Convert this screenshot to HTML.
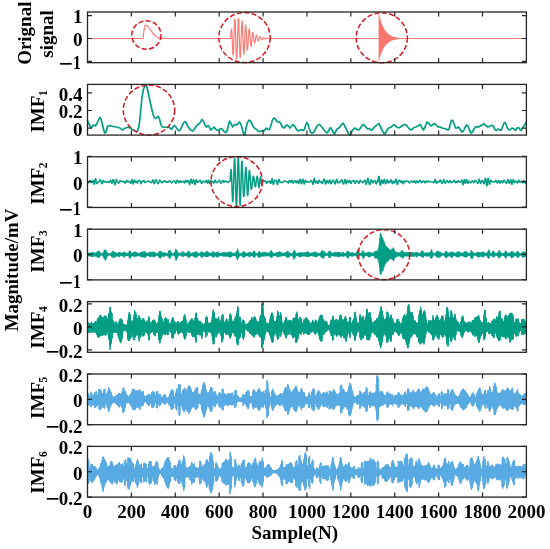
<!DOCTYPE html>
<html><head><meta charset="utf-8"><style>
html,body{margin:0;padding:0;background:#fff;}
svg{display:block;}
text{font-family:'Liberation Serif','Times New Roman',serif;font-weight:bold;font-size:19px;fill:#000;}
</style></head><body>
<svg width="550" height="549" viewBox="0 0 550 549">
<rect width="550" height="549" fill="#fff"/>
<defs><clipPath id="c0"><rect x="87.5" y="12.0" width="438.90" height="50.7"/></clipPath><clipPath id="c1"><rect x="87.5" y="84.4" width="438.90" height="50.7"/></clipPath><clipPath id="c2"><rect x="87.5" y="156.8" width="438.90" height="50.7"/></clipPath><clipPath id="c3"><rect x="87.5" y="229.20000000000002" width="438.90" height="50.7"/></clipPath><clipPath id="c4"><rect x="87.5" y="301.6" width="438.90" height="50.7"/></clipPath><clipPath id="c5"><rect x="87.5" y="374.0" width="438.90" height="50.7"/></clipPath><clipPath id="c6"><rect x="87.5" y="446.40000000000003" width="438.90" height="50.7"/></clipPath></defs>
<g>
<polyline points="87.50,38.50 87.72,38.50 87.94,38.50 88.16,38.50 88.38,38.50 88.60,38.50 88.82,38.50 89.04,38.50 89.26,38.50 89.48,38.50 89.69,38.50 89.91,38.50 90.13,38.50 90.35,38.50 90.57,38.50 90.79,38.50 91.01,38.50 91.23,38.50 91.45,38.50 91.67,38.50 91.89,38.50 92.11,38.50 92.33,38.50 92.55,38.50 92.77,38.50 92.99,38.50 93.21,38.50 93.43,38.50 93.64,38.50 93.86,38.50 94.08,38.50 94.30,38.50 94.52,38.50 94.74,38.50 94.96,38.50 95.18,38.50 95.40,38.50 95.62,38.50 95.84,38.50 96.06,38.50 96.28,38.50 96.50,38.50 96.72,38.50 96.94,38.50 97.16,38.50 97.38,38.50 97.59,38.50 97.81,38.50 98.03,38.50 98.25,38.50 98.47,38.50 98.69,38.50 98.91,38.50 99.13,38.50 99.35,38.50 99.57,38.50 99.79,38.50 100.01,38.50 100.23,38.50 100.45,38.50 100.67,38.50 100.89,38.50 101.11,38.50 101.33,38.50 101.54,38.50 101.76,38.50 101.98,38.50 102.20,38.50 102.42,38.50 102.64,38.50 102.86,38.50 103.08,38.50 103.30,38.50 103.52,38.50 103.74,38.50 103.96,38.50 104.18,38.50 104.40,38.50 104.62,38.50 104.84,38.50 105.06,38.50 105.28,38.50 105.49,38.50 105.71,38.50 105.93,38.50 106.15,38.50 106.37,38.50 106.59,38.50 106.81,38.50 107.03,38.50 107.25,38.50 107.47,38.50 107.69,38.50 107.91,38.50 108.13,38.50 108.35,38.50 108.57,38.50 108.79,38.50 109.01,38.50 109.23,38.50 109.44,38.50 109.66,38.50 109.88,38.50 110.10,38.50 110.32,38.50 110.54,38.50 110.76,38.50 110.98,38.50 111.20,38.50 111.42,38.50 111.64,38.50 111.86,38.50 112.08,38.50 112.30,38.50 112.52,38.50 112.74,38.50 112.96,38.50 113.18,38.50 113.40,38.50 113.61,38.50 113.83,38.50 114.05,38.50 114.27,38.50 114.49,38.50 114.71,38.50 114.93,38.50 115.15,38.50 115.37,38.50 115.59,38.50 115.81,38.50 116.03,38.50 116.25,38.50 116.47,38.50 116.69,38.50 116.91,38.50 117.13,38.50 117.35,38.50 117.56,38.50 117.78,38.50 118.00,38.50 118.22,38.50 118.44,38.50 118.66,38.50 118.88,38.50 119.10,38.50 119.32,38.50 119.54,38.50 119.76,38.50 119.98,38.50 120.20,38.50 120.42,38.50 120.64,38.50 120.86,38.50 121.08,38.50 121.30,38.50 121.51,38.50 121.73,38.50 121.95,38.50 122.17,38.50 122.39,38.50 122.61,38.50 122.83,38.50 123.05,38.50 123.27,38.50 123.49,38.50 123.71,38.50 123.93,38.50 124.15,38.50 124.37,38.50 124.59,38.50 124.81,38.50 125.03,38.50 125.25,38.50 125.46,38.50 125.68,38.50 125.90,38.50 126.12,38.50 126.34,38.50 126.56,38.50 126.78,38.50 127.00,38.50 127.22,38.50 127.44,38.50 127.66,38.50 127.88,38.50 128.10,38.50 128.32,38.50 128.54,38.50 128.76,38.50 128.98,38.50 129.20,38.50 129.41,38.50 129.63,38.50 129.85,38.50 130.07,38.50 130.29,38.50 130.51,38.50 130.73,38.50 130.95,38.50 131.17,38.50 131.39,38.50 131.61,38.50 131.83,38.50 132.05,38.50 132.27,38.50 132.49,38.50 132.71,38.50 132.93,38.50 133.15,38.50 133.37,38.50 133.58,38.50 133.80,38.50 134.02,38.50 134.24,38.50 134.46,38.50 134.68,38.50 134.90,38.50 135.12,38.50 135.34,38.50 135.56,38.50 135.78,38.50 136.00,38.50 136.22,38.50 136.44,38.50 136.66,38.50 136.88,38.50 137.10,38.50 137.32,38.50 137.53,38.50 137.75,38.50 137.97,38.50 138.19,38.50 138.41,38.50 138.63,38.50 138.85,38.50 139.07,38.50 139.29,38.50 139.51,38.50 139.73,38.50 139.95,38.50 140.17,38.50 140.39,38.50 140.61,38.50 140.83,38.50 141.05,38.50 141.27,38.50 141.48,38.50 141.70,38.50 141.92,38.50 142.14,38.50 142.36,38.50 142.58,38.50 142.80,38.50 143.02,38.50 143.24,36.61 143.46,34.75 143.68,32.97 143.90,31.30 144.12,29.78 144.34,28.44 144.56,27.30 144.78,26.39 145.00,25.73 145.22,25.32 145.43,25.19 145.65,25.20 145.87,25.23 146.09,25.28 146.31,25.36 146.53,25.45 146.75,25.56 146.97,25.70 147.19,25.85 147.41,26.02 147.63,26.20 147.85,26.41 148.07,26.63 148.29,26.86 148.51,27.11 148.73,27.37 148.95,27.64 149.17,27.92 149.38,28.21 149.60,28.50 149.82,28.81 150.04,29.12 150.26,29.43 150.48,29.75 150.70,30.07 150.92,30.39 151.14,30.72 151.36,31.04 151.58,31.35 151.80,31.67 152.02,31.98 152.24,32.29 152.46,32.59 152.68,32.89 152.90,33.18 153.12,33.46 153.33,33.74 153.55,34.01 153.77,34.27 153.99,34.52 154.21,34.76 154.43,34.99 154.65,35.22 154.87,35.43 155.09,35.64 155.31,35.83 155.53,36.02 155.75,36.19 155.97,36.36 156.19,36.52 156.41,36.67 156.63,36.81 156.85,36.94 157.07,37.07 157.29,37.18 157.50,37.29 157.72,37.39 157.94,37.49 158.16,37.58 158.38,37.66 158.60,37.74 158.82,37.81 159.04,37.87 159.26,37.93 159.48,37.98 159.70,38.03 159.92,38.08 160.14,38.12 160.36,38.16 160.58,38.20 160.80,38.23 161.02,38.26 161.24,38.28 161.45,38.31 161.67,38.33 161.89,38.35 162.11,38.36 162.33,38.38 162.55,38.39 162.77,38.41 162.99,38.42 163.21,38.43 163.43,38.44 163.65,38.44 163.87,38.45 164.09,38.46 164.31,38.46 164.53,38.47 164.75,38.47 164.97,38.48 165.19,38.48 165.40,38.48 165.62,38.48 165.84,38.49 166.06,38.49 166.28,38.49 166.50,38.49 166.72,38.49 166.94,38.49 167.16,38.49 167.38,38.50 167.60,38.50 167.82,38.50 168.04,38.50 168.26,38.50 168.48,38.50 168.70,38.50 168.92,38.50 169.14,38.50 169.35,38.50 169.57,38.50 169.79,38.50 170.01,38.50 170.23,38.50 170.45,38.50 170.67,38.50 170.89,38.50 171.11,38.50 171.33,38.50 171.55,38.50 171.77,38.50 171.99,38.50 172.21,38.50 172.43,38.50 172.65,38.50 172.87,38.50 173.09,38.50 173.30,38.50 173.52,38.50 173.74,38.50 173.96,38.50 174.18,38.50 174.40,38.50 174.62,38.50 174.84,38.50 175.06,38.50 175.28,38.50 175.50,38.50 175.72,38.50 175.94,38.50 176.16,38.50 176.38,38.50 176.60,38.50 176.82,38.50 177.04,38.50 177.26,38.50 177.47,38.50 177.69,38.50 177.91,38.50 178.13,38.50 178.35,38.50 178.57,38.50 178.79,38.50 179.01,38.50 179.23,38.50 179.45,38.50 179.67,38.50 179.89,38.50 180.11,38.50 180.33,38.50 180.55,38.50 180.77,38.50 180.99,38.50 181.21,38.50 181.42,38.50 181.64,38.50 181.86,38.50 182.08,38.50 182.30,38.50 182.52,38.50 182.74,38.50 182.96,38.50 183.18,38.50 183.40,38.50 183.62,38.50 183.84,38.50 184.06,38.50 184.28,38.50 184.50,38.50 184.72,38.50 184.94,38.50 185.16,38.50 185.37,38.50 185.59,38.50 185.81,38.50 186.03,38.50 186.25,38.50 186.47,38.50 186.69,38.50 186.91,38.50 187.13,38.50 187.35,38.50 187.57,38.50 187.79,38.50 188.01,38.50 188.23,38.50 188.45,38.50 188.67,38.50 188.89,38.50 189.11,38.50 189.32,38.50 189.54,38.50 189.76,38.50 189.98,38.50 190.20,38.50 190.42,38.50 190.64,38.50 190.86,38.50 191.08,38.50 191.30,38.50 191.52,38.50 191.74,38.50 191.96,38.50 192.18,38.50 192.40,38.50 192.62,38.50 192.84,38.50 193.06,38.50 193.27,38.50 193.49,38.50 193.71,38.50 193.93,38.50 194.15,38.50 194.37,38.50 194.59,38.50 194.81,38.50 195.03,38.50 195.25,38.50 195.47,38.50 195.69,38.50 195.91,38.50 196.13,38.50 196.35,38.50 196.57,38.50 196.79,38.50 197.01,38.50 197.22,38.50 197.44,38.50 197.66,38.50 197.88,38.50 198.10,38.50 198.32,38.50 198.54,38.50 198.76,38.50 198.98,38.50 199.20,38.50 199.42,38.50 199.64,38.50 199.86,38.50 200.08,38.50 200.30,38.50 200.52,38.50 200.74,38.50 200.96,38.50 201.18,38.50 201.39,38.50 201.61,38.50 201.83,38.50 202.05,38.50 202.27,38.50 202.49,38.50 202.71,38.50 202.93,38.50 203.15,38.50 203.37,38.50 203.59,38.50 203.81,38.50 204.03,38.50 204.25,38.50 204.47,38.50 204.69,38.50 204.91,38.50 205.13,38.50 205.34,38.50 205.56,38.50 205.78,38.50 206.00,38.50 206.22,38.50 206.44,38.50 206.66,38.50 206.88,38.50 207.10,38.50 207.32,38.50 207.54,38.50 207.76,38.50 207.98,38.50 208.20,38.50 208.42,38.50 208.64,38.50 208.86,38.50 209.08,38.50 209.29,38.50 209.51,38.50 209.73,38.50 209.95,38.50 210.17,38.50 210.39,38.50 210.61,38.50 210.83,38.50 211.05,38.50 211.27,38.50 211.49,38.50 211.71,38.50 211.93,38.50 212.15,38.50 212.37,38.50 212.59,38.50 212.81,38.50 213.03,38.50 213.24,38.50 213.46,38.50 213.68,38.50 213.90,38.50 214.12,38.50 214.34,38.50 214.56,38.50 214.78,38.50 215.00,38.50 215.22,38.50 215.44,38.50 215.66,38.50 215.88,38.50 216.10,38.50 216.32,38.50 216.54,38.50 216.76,38.50 216.98,38.50 217.19,38.50 217.41,38.50 217.63,38.50 217.85,38.50 218.07,38.50 218.29,38.50 218.51,38.50 218.73,38.50 218.95,38.50 219.17,38.50 219.39,38.50 219.61,38.50 219.83,38.50 220.05,38.50 220.27,38.50 220.49,38.50 220.71,38.50 220.93,38.50 221.15,38.50 221.36,38.50 221.58,38.50 221.80,38.50 222.02,38.50 222.24,38.50 222.46,38.50 222.68,38.50 222.90,38.50 223.12,38.50 223.34,38.50 223.56,38.50 223.78,38.50 224.00,38.50 224.22,38.50 224.44,38.50 224.66,38.50 224.88,38.50 225.10,38.50 225.31,38.50 225.53,38.50 225.75,38.50 225.97,38.50 226.19,38.50 226.41,38.50 226.63,38.50 226.85,38.50 227.07,38.50 227.29,38.50 227.51,38.50 227.73,38.50 227.95,38.50 228.17,38.50 228.39,38.50 228.61,38.50 228.83,38.50 229.05,38.50 229.26,38.50 229.48,38.50 229.70,38.50 229.92,38.50 230.14,38.50 230.36,38.50 230.58,37.56 230.80,35.23 231.02,32.41 231.24,30.11 231.46,29.16 231.68,30.09 231.90,32.98 232.12,37.47 232.34,42.85 232.56,48.19 232.78,52.51 233.00,54.97 233.21,55.03 233.43,52.52 233.65,47.73 233.87,41.32 234.09,34.22 234.31,27.51 234.53,22.25 234.75,19.27 234.97,19.06 235.19,21.73 235.41,26.92 235.63,33.88 235.85,41.61 236.07,48.95 236.29,54.81 236.51,58.32 236.73,58.94 236.95,56.58 237.16,51.59 237.38,44.70 237.60,36.93 237.82,29.42 238.04,23.27 238.26,19.37 238.48,18.28 238.70,20.12 238.92,24.61 239.14,31.06 239.36,38.50 239.58,45.85 239.80,52.03 240.02,56.17 240.24,57.69 240.46,56.42 240.68,52.58 240.90,46.79 241.12,39.92 241.33,32.97 241.55,26.97 241.77,22.76 241.99,20.91 242.21,21.63 242.43,24.76 242.65,29.78 242.87,35.93 243.09,42.28 243.31,47.92 243.53,52.05 243.75,54.12 243.97,53.88 244.19,51.45 244.41,47.23 244.63,41.90 244.85,36.26 245.07,31.12 245.28,27.22 245.50,25.06 245.72,24.91 245.94,26.70 246.16,30.12 246.38,34.60 246.60,39.47 246.82,44.01 247.04,47.58 247.26,49.71 247.48,50.15 247.70,48.91 247.92,46.23 248.14,42.58 248.36,38.50 248.58,34.61 248.80,31.45 249.02,29.44 249.23,28.82 249.45,29.61 249.67,31.62 249.89,34.52 250.11,37.83 250.33,41.07 250.55,43.78 250.77,45.59 250.99,46.30 251.21,45.86 251.43,44.40 251.65,42.19 251.87,39.57 252.09,36.95 252.31,34.70 252.53,33.13 252.75,32.40 252.97,32.59 253.18,33.60 253.40,35.25 253.62,37.25 253.84,39.31 254.06,41.12 254.28,42.44 254.50,43.12 254.72,43.10 254.94,42.43 255.16,41.25 255.38,39.76 255.60,38.19 255.82,36.78 256.04,35.71 256.26,35.10 256.48,35.03 256.70,35.45 256.92,36.27 257.13,37.34 257.35,38.50 257.57,39.57 257.79,40.41 258.01,40.92 258.23,41.04 258.45,40.80 258.67,40.25 258.89,39.50 259.11,38.67 259.33,37.88 259.55,37.24 259.77,36.83 259.99,36.69 260.21,36.82 260.43,37.18 260.65,37.69 260.87,38.27 261.08,38.83 261.30,39.30 261.52,39.61 261.74,39.74 261.96,39.69 262.18,39.47 262.40,39.13 262.62,38.74 262.84,38.35 263.06,38.01 263.28,37.78 263.50,37.67 263.72,37.69 263.94,37.82 264.16,38.03 264.38,38.29 264.60,38.55 264.82,38.78 265.04,38.95 265.25,39.04 265.47,39.04 265.69,38.97 265.91,38.84 266.13,38.67 266.35,38.50 266.57,38.35 266.79,38.23 267.01,38.16 267.23,38.15 267.45,38.19 267.67,38.27 267.89,38.36 268.11,38.48 268.33,38.59 268.55,38.69 268.77,38.75 268.99,38.78 269.20,38.77 269.42,38.72 269.64,38.64 269.86,38.54 270.08,38.44 270.30,38.35 270.52,38.29 270.74,38.26 270.96,38.26 271.18,38.30 271.40,38.36 271.62,38.45 271.84,38.53 272.06,38.50 272.28,38.50 272.50,38.50 272.72,38.50 272.94,38.50 273.15,38.50 273.37,38.50 273.59,38.50 273.81,38.50 274.03,38.50 274.25,38.50 274.47,38.50 274.69,38.50 274.91,38.50 275.13,38.50 275.35,38.50 275.57,38.50 275.79,38.50 276.01,38.50 276.23,38.50 276.45,38.50 276.67,38.50 276.89,38.50 277.10,38.50 277.32,38.50 277.54,38.50 277.76,38.50 277.98,38.50 278.20,38.50 278.42,38.50 278.64,38.50 278.86,38.50 279.08,38.50 279.30,38.50 279.52,38.50 279.74,38.50 279.96,38.50 280.18,38.50 280.40,38.50 280.62,38.50 280.84,38.50 281.05,38.50 281.27,38.50 281.49,38.50 281.71,38.50 281.93,38.50 282.15,38.50 282.37,38.50 282.59,38.50 282.81,38.50 283.03,38.50 283.25,38.50 283.47,38.50 283.69,38.50 283.91,38.50 284.13,38.50 284.35,38.50 284.57,38.50 284.79,38.50 285.00,38.50 285.22,38.50 285.44,38.50 285.66,38.50 285.88,38.50 286.10,38.50 286.32,38.50 286.54,38.50 286.76,38.50 286.98,38.50 287.20,38.50 287.42,38.50 287.64,38.50 287.86,38.50 288.08,38.50 288.30,38.50 288.52,38.50 288.74,38.50 288.96,38.50 289.17,38.50 289.39,38.50 289.61,38.50 289.83,38.50 290.05,38.50 290.27,38.50 290.49,38.50 290.71,38.50 290.93,38.50 291.15,38.50 291.37,38.50 291.59,38.50 291.81,38.50 292.03,38.50 292.25,38.50 292.47,38.50 292.69,38.50 292.91,38.50 293.12,38.50 293.34,38.50 293.56,38.50 293.78,38.50 294.00,38.50 294.22,38.50 294.44,38.50 294.66,38.50 294.88,38.50 295.10,38.50 295.32,38.50 295.54,38.50 295.76,38.50 295.98,38.50 296.20,38.50 296.42,38.50 296.64,38.50 296.86,38.50 297.07,38.50 297.29,38.50 297.51,38.50 297.73,38.50 297.95,38.50 298.17,38.50 298.39,38.50 298.61,38.50 298.83,38.50 299.05,38.50 299.27,38.50 299.49,38.50 299.71,38.50 299.93,38.50 300.15,38.50 300.37,38.50 300.59,38.50 300.81,38.50 301.02,38.50 301.24,38.50 301.46,38.50 301.68,38.50 301.90,38.50 302.12,38.50 302.34,38.50 302.56,38.50 302.78,38.50 303.00,38.50 303.22,38.50 303.44,38.50 303.66,38.50 303.88,38.50 304.10,38.50 304.32,38.50 304.54,38.50 304.76,38.50 304.97,38.50 305.19,38.50 305.41,38.50 305.63,38.50 305.85,38.50 306.07,38.50 306.29,38.50 306.51,38.50 306.73,38.50 306.95,38.50 307.17,38.50 307.39,38.50 307.61,38.50 307.83,38.50 308.05,38.50 308.27,38.50 308.49,38.50 308.71,38.50 308.93,38.50 309.14,38.50 309.36,38.50 309.58,38.50 309.80,38.50 310.02,38.50 310.24,38.50 310.46,38.50 310.68,38.50 310.90,38.50 311.12,38.50 311.34,38.50 311.56,38.50 311.78,38.50 312.00,38.50 312.22,38.50 312.44,38.50 312.66,38.50 312.88,38.50 313.09,38.50 313.31,38.50 313.53,38.50 313.75,38.50 313.97,38.50 314.19,38.50 314.41,38.50 314.63,38.50 314.85,38.50 315.07,38.50 315.29,38.50 315.51,38.50 315.73,38.50 315.95,38.50 316.17,38.50 316.39,38.50 316.61,38.50 316.83,38.50 317.04,38.50 317.26,38.50 317.48,38.50 317.70,38.50 317.92,38.50 318.14,38.50 318.36,38.50 318.58,38.50 318.80,38.50 319.02,38.50 319.24,38.50 319.46,38.50 319.68,38.50 319.90,38.50 320.12,38.50 320.34,38.50 320.56,38.50 320.78,38.50 320.99,38.50 321.21,38.50 321.43,38.50 321.65,38.50 321.87,38.50 322.09,38.50 322.31,38.50 322.53,38.50 322.75,38.50 322.97,38.50 323.19,38.50 323.41,38.50 323.63,38.50 323.85,38.50 324.07,38.50 324.29,38.50 324.51,38.50 324.73,38.50 324.94,38.50 325.16,38.50 325.38,38.50 325.60,38.50 325.82,38.50 326.04,38.50 326.26,38.50 326.48,38.50 326.70,38.50 326.92,38.50 327.14,38.50 327.36,38.50 327.58,38.50 327.80,38.50 328.02,38.50 328.24,38.50 328.46,38.50 328.68,38.50 328.89,38.50 329.11,38.50 329.33,38.50 329.55,38.50 329.77,38.50 329.99,38.50 330.21,38.50 330.43,38.50 330.65,38.50 330.87,38.50 331.09,38.50 331.31,38.50 331.53,38.50 331.75,38.50 331.97,38.50 332.19,38.50 332.41,38.50 332.63,38.50 332.85,38.50 333.06,38.50 333.28,38.50 333.50,38.50 333.72,38.50 333.94,38.50 334.16,38.50 334.38,38.50 334.60,38.50 334.82,38.50 335.04,38.50 335.26,38.50 335.48,38.50 335.70,38.50 335.92,38.50 336.14,38.50 336.36,38.50 336.58,38.50 336.80,38.50 337.01,38.50 337.23,38.50 337.45,38.50 337.67,38.50 337.89,38.50 338.11,38.50 338.33,38.50 338.55,38.50 338.77,38.50 338.99,38.50 339.21,38.50 339.43,38.50 339.65,38.50 339.87,38.50 340.09,38.50 340.31,38.50 340.53,38.50 340.75,38.50 340.96,38.50 341.18,38.50 341.40,38.50 341.62,38.50 341.84,38.50 342.06,38.50 342.28,38.50 342.50,38.50 342.72,38.50 342.94,38.50 343.16,38.50 343.38,38.50 343.60,38.50 343.82,38.50 344.04,38.50 344.26,38.50 344.48,38.50 344.70,38.50 344.91,38.50 345.13,38.50 345.35,38.50 345.57,38.50 345.79,38.50 346.01,38.50 346.23,38.50 346.45,38.50 346.67,38.50 346.89,38.50 347.11,38.50 347.33,38.50 347.55,38.50 347.77,38.50 347.99,38.50 348.21,38.50 348.43,38.50 348.65,38.50 348.86,38.50 349.08,38.50 349.30,38.50 349.52,38.50 349.74,38.50 349.96,38.50 350.18,38.50 350.40,38.50 350.62,38.50 350.84,38.50 351.06,38.50 351.28,38.50 351.50,38.50 351.72,38.50 351.94,38.50 352.16,38.50 352.38,38.50 352.60,38.50 352.82,38.50 353.03,38.50 353.25,38.50 353.47,38.50 353.69,38.50 353.91,38.50 354.13,38.50 354.35,38.50 354.57,38.50 354.79,38.50 355.01,38.50 355.23,38.50 355.45,38.50 355.67,38.50 355.89,38.50 356.11,38.50 356.33,38.50 356.55,38.50 356.77,38.50 356.98,38.50 357.20,38.50 357.42,38.50 357.64,38.50 357.86,38.50 358.08,38.50 358.30,38.50 358.52,38.50 358.74,38.50 358.96,38.50 359.18,38.50 359.40,38.50 359.62,38.50 359.84,38.50 360.06,38.50 360.28,38.50 360.50,38.50 360.72,38.50 360.93,38.50 361.15,38.50 361.37,38.50 361.59,38.50 361.81,38.50 362.03,38.50 362.25,38.50 362.47,38.50 362.69,38.50 362.91,38.50 363.13,38.50 363.35,38.50 363.57,38.50 363.79,38.50 364.01,38.50 364.23,38.50 364.45,38.50 364.67,38.50 364.88,38.50 365.10,38.50 365.32,38.50 365.54,38.50 365.76,38.50 365.98,38.50 366.20,38.50 366.42,38.50 366.64,38.50 366.86,38.50 367.08,38.50 367.30,38.50 367.52,38.50 367.74,38.50 367.96,38.50 368.18,38.50 368.40,38.50 368.62,38.50 368.83,38.50 369.05,38.50 369.27,38.50 369.49,38.50 369.71,38.50 369.93,38.50 370.15,38.50 370.37,38.50 370.59,38.50 370.81,38.50 371.03,38.50 371.25,38.50 371.47,38.50 371.69,38.50 371.91,38.50 372.13,38.50 372.35,38.50 372.57,38.50 372.79,38.50 373.00,38.50 373.22,38.50 373.44,38.50 373.66,38.50 373.88,38.50 374.10,38.50 374.32,38.50 374.54,38.50 374.76,38.50 374.98,38.50 375.20,38.50 375.42,38.50 375.64,38.50 375.86,38.50 376.08,38.50 376.30,38.50 376.52,38.50 376.74,38.50 376.95,38.50 377.17,38.50 377.39,38.50 377.61,38.50 377.83,38.50 378.05,38.50 378.27,38.50 378.49,38.50 378.71,38.50 378.93,38.50 379.15,38.50 379.37,38.50 379.59,38.50 379.81,38.50 380.03,38.50 380.25,38.50 380.47,38.50 380.69,38.50 380.90,38.50 381.12,38.50 381.34,38.50 381.56,38.50 381.78,38.50 382.00,38.50 382.22,38.50 382.44,38.50 382.66,38.50 382.88,38.50 383.10,38.50 383.32,38.50 383.54,38.50 383.76,38.50 383.98,38.50 384.20,38.50 384.42,38.50 384.64,38.50 384.85,38.50 385.07,38.50 385.29,38.50 385.51,38.50 385.73,38.50 385.95,38.50 386.17,38.50 386.39,38.50 386.61,38.50 386.83,38.50 387.05,38.50 387.27,38.50 387.49,38.50 387.71,38.50 387.93,38.50 388.15,38.50 388.37,38.50 388.59,38.50 388.80,38.50 389.02,38.50 389.24,38.50 389.46,38.50 389.68,38.50 389.90,38.50 390.12,38.50 390.34,38.50 390.56,38.50 390.78,38.50 391.00,38.50 391.22,38.50 391.44,38.50 391.66,38.50 391.88,38.50 392.10,38.50 392.32,38.50 392.54,38.50 392.75,38.50 392.97,38.50 393.19,38.50 393.41,38.50 393.63,38.50 393.85,38.50 394.07,38.50 394.29,38.50 394.51,38.50 394.73,38.50 394.95,38.50 395.17,38.50 395.39,38.50 395.61,38.50 395.83,38.50 396.05,38.50 396.27,38.50 396.49,38.50 396.71,38.50 396.92,38.50 397.14,38.50 397.36,38.50 397.58,38.50 397.80,38.50 398.02,38.50 398.24,38.50 398.46,38.50 398.68,38.50 398.90,38.50 399.12,38.50 399.34,38.50 399.56,38.50 399.78,38.50 400.00,38.50 400.22,38.50 400.44,38.50 400.66,38.50 400.87,38.50 401.09,38.50 401.31,38.50 401.53,38.50 401.75,38.50 401.97,38.50 402.19,38.50 402.41,38.50 402.63,38.50 402.85,38.50 403.07,38.50 403.29,38.50 403.51,38.50 403.73,38.50 403.95,38.50 404.17,38.50 404.39,38.50 404.61,38.50 404.82,38.50 405.04,38.50 405.26,38.50 405.48,38.50 405.70,38.50 405.92,38.50 406.14,38.50 406.36,38.50 406.58,38.50 406.80,38.50 407.02,38.50 407.24,38.50 407.46,38.50 407.68,38.50 407.90,38.50 408.12,38.50 408.34,38.50 408.56,38.50 408.77,38.50 408.99,38.50 409.21,38.50 409.43,38.50 409.65,38.50 409.87,38.50 410.09,38.50 410.31,38.50 410.53,38.50 410.75,38.50 410.97,38.50 411.19,38.50 411.41,38.50 411.63,38.50 411.85,38.50 412.07,38.50 412.29,38.50 412.51,38.50 412.72,38.50 412.94,38.50 413.16,38.50 413.38,38.50 413.60,38.50 413.82,38.50 414.04,38.50 414.26,38.50 414.48,38.50 414.70,38.50 414.92,38.50 415.14,38.50 415.36,38.50 415.58,38.50 415.80,38.50 416.02,38.50 416.24,38.50 416.46,38.50 416.68,38.50 416.89,38.50 417.11,38.50 417.33,38.50 417.55,38.50 417.77,38.50 417.99,38.50 418.21,38.50 418.43,38.50 418.65,38.50 418.87,38.50 419.09,38.50 419.31,38.50 419.53,38.50 419.75,38.50 419.97,38.50 420.19,38.50 420.41,38.50 420.63,38.50 420.84,38.50 421.06,38.50 421.28,38.50 421.50,38.50 421.72,38.50 421.94,38.50 422.16,38.50 422.38,38.50 422.60,38.50 422.82,38.50 423.04,38.50 423.26,38.50 423.48,38.50 423.70,38.50 423.92,38.50 424.14,38.50 424.36,38.50 424.58,38.50 424.79,38.50 425.01,38.50 425.23,38.50 425.45,38.50 425.67,38.50 425.89,38.50 426.11,38.50 426.33,38.50 426.55,38.50 426.77,38.50 426.99,38.50 427.21,38.50 427.43,38.50 427.65,38.50 427.87,38.50 428.09,38.50 428.31,38.50 428.53,38.50 428.74,38.50 428.96,38.50 429.18,38.50 429.40,38.50 429.62,38.50 429.84,38.50 430.06,38.50 430.28,38.50 430.50,38.50 430.72,38.50 430.94,38.50 431.16,38.50 431.38,38.50 431.60,38.50 431.82,38.50 432.04,38.50 432.26,38.50 432.48,38.50 432.69,38.50 432.91,38.50 433.13,38.50 433.35,38.50 433.57,38.50 433.79,38.50 434.01,38.50 434.23,38.50 434.45,38.50 434.67,38.50 434.89,38.50 435.11,38.50 435.33,38.50 435.55,38.50 435.77,38.50 435.99,38.50 436.21,38.50 436.43,38.50 436.64,38.50 436.86,38.50 437.08,38.50 437.30,38.50 437.52,38.50 437.74,38.50 437.96,38.50 438.18,38.50 438.40,38.50 438.62,38.50 438.84,38.50 439.06,38.50 439.28,38.50 439.50,38.50 439.72,38.50 439.94,38.50 440.16,38.50 440.38,38.50 440.60,38.50 440.81,38.50 441.03,38.50 441.25,38.50 441.47,38.50 441.69,38.50 441.91,38.50 442.13,38.50 442.35,38.50 442.57,38.50 442.79,38.50 443.01,38.50 443.23,38.50 443.45,38.50 443.67,38.50 443.89,38.50 444.11,38.50 444.33,38.50 444.55,38.50 444.76,38.50 444.98,38.50 445.20,38.50 445.42,38.50 445.64,38.50 445.86,38.50 446.08,38.50 446.30,38.50 446.52,38.50 446.74,38.50 446.96,38.50 447.18,38.50 447.40,38.50 447.62,38.50 447.84,38.50 448.06,38.50 448.28,38.50 448.50,38.50 448.71,38.50 448.93,38.50 449.15,38.50 449.37,38.50 449.59,38.50 449.81,38.50 450.03,38.50 450.25,38.50 450.47,38.50 450.69,38.50 450.91,38.50 451.13,38.50 451.35,38.50 451.57,38.50 451.79,38.50 452.01,38.50 452.23,38.50 452.45,38.50 452.66,38.50 452.88,38.50 453.10,38.50 453.32,38.50 453.54,38.50 453.76,38.50 453.98,38.50 454.20,38.50 454.42,38.50 454.64,38.50 454.86,38.50 455.08,38.50 455.30,38.50 455.52,38.50 455.74,38.50 455.96,38.50 456.18,38.50 456.40,38.50 456.61,38.50 456.83,38.50 457.05,38.50 457.27,38.50 457.49,38.50 457.71,38.50 457.93,38.50 458.15,38.50 458.37,38.50 458.59,38.50 458.81,38.50 459.03,38.50 459.25,38.50 459.47,38.50 459.69,38.50 459.91,38.50 460.13,38.50 460.35,38.50 460.56,38.50 460.78,38.50 461.00,38.50 461.22,38.50 461.44,38.50 461.66,38.50 461.88,38.50 462.10,38.50 462.32,38.50 462.54,38.50 462.76,38.50 462.98,38.50 463.20,38.50 463.42,38.50 463.64,38.50 463.86,38.50 464.08,38.50 464.30,38.50 464.52,38.50 464.73,38.50 464.95,38.50 465.17,38.50 465.39,38.50 465.61,38.50 465.83,38.50 466.05,38.50 466.27,38.50 466.49,38.50 466.71,38.50 466.93,38.50 467.15,38.50 467.37,38.50 467.59,38.50 467.81,38.50 468.03,38.50 468.25,38.50 468.47,38.50 468.68,38.50 468.90,38.50 469.12,38.50 469.34,38.50 469.56,38.50 469.78,38.50 470.00,38.50 470.22,38.50 470.44,38.50 470.66,38.50 470.88,38.50 471.10,38.50 471.32,38.50 471.54,38.50 471.76,38.50 471.98,38.50 472.20,38.50 472.42,38.50 472.63,38.50 472.85,38.50 473.07,38.50 473.29,38.50 473.51,38.50 473.73,38.50 473.95,38.50 474.17,38.50 474.39,38.50 474.61,38.50 474.83,38.50 475.05,38.50 475.27,38.50 475.49,38.50 475.71,38.50 475.93,38.50 476.15,38.50 476.37,38.50 476.58,38.50 476.80,38.50 477.02,38.50 477.24,38.50 477.46,38.50 477.68,38.50 477.90,38.50 478.12,38.50 478.34,38.50 478.56,38.50 478.78,38.50 479.00,38.50 479.22,38.50 479.44,38.50 479.66,38.50 479.88,38.50 480.10,38.50 480.32,38.50 480.53,38.50 480.75,38.50 480.97,38.50 481.19,38.50 481.41,38.50 481.63,38.50 481.85,38.50 482.07,38.50 482.29,38.50 482.51,38.50 482.73,38.50 482.95,38.50 483.17,38.50 483.39,38.50 483.61,38.50 483.83,38.50 484.05,38.50 484.27,38.50 484.49,38.50 484.70,38.50 484.92,38.50 485.14,38.50 485.36,38.50 485.58,38.50 485.80,38.50 486.02,38.50 486.24,38.50 486.46,38.50 486.68,38.50 486.90,38.50 487.12,38.50 487.34,38.50 487.56,38.50 487.78,38.50 488.00,38.50 488.22,38.50 488.44,38.50 488.65,38.50 488.87,38.50 489.09,38.50 489.31,38.50 489.53,38.50 489.75,38.50 489.97,38.50 490.19,38.50 490.41,38.50 490.63,38.50 490.85,38.50 491.07,38.50 491.29,38.50 491.51,38.50 491.73,38.50 491.95,38.50 492.17,38.50 492.39,38.50 492.60,38.50 492.82,38.50 493.04,38.50 493.26,38.50 493.48,38.50 493.70,38.50 493.92,38.50 494.14,38.50 494.36,38.50 494.58,38.50 494.80,38.50 495.02,38.50 495.24,38.50 495.46,38.50 495.68,38.50 495.90,38.50 496.12,38.50 496.34,38.50 496.55,38.50 496.77,38.50 496.99,38.50 497.21,38.50 497.43,38.50 497.65,38.50 497.87,38.50 498.09,38.50 498.31,38.50 498.53,38.50 498.75,38.50 498.97,38.50 499.19,38.50 499.41,38.50 499.63,38.50 499.85,38.50 500.07,38.50 500.29,38.50 500.50,38.50 500.72,38.50 500.94,38.50 501.16,38.50 501.38,38.50 501.60,38.50 501.82,38.50 502.04,38.50 502.26,38.50 502.48,38.50 502.70,38.50 502.92,38.50 503.14,38.50 503.36,38.50 503.58,38.50 503.80,38.50 504.02,38.50 504.24,38.50 504.45,38.50 504.67,38.50 504.89,38.50 505.11,38.50 505.33,38.50 505.55,38.50 505.77,38.50 505.99,38.50 506.21,38.50 506.43,38.50 506.65,38.50 506.87,38.50 507.09,38.50 507.31,38.50 507.53,38.50 507.75,38.50 507.97,38.50 508.19,38.50 508.41,38.50 508.62,38.50 508.84,38.50 509.06,38.50 509.28,38.50 509.50,38.50 509.72,38.50 509.94,38.50 510.16,38.50 510.38,38.50 510.60,38.50 510.82,38.50 511.04,38.50 511.26,38.50 511.48,38.50 511.70,38.50 511.92,38.50 512.14,38.50 512.36,38.50 512.57,38.50 512.79,38.50 513.01,38.50 513.23,38.50 513.45,38.50 513.67,38.50 513.89,38.50 514.11,38.50 514.33,38.50 514.55,38.50 514.77,38.50 514.99,38.50 515.21,38.50 515.43,38.50 515.65,38.50 515.87,38.50 516.09,38.50 516.31,38.50 516.52,38.50 516.74,38.50 516.96,38.50 517.18,38.50 517.40,38.50 517.62,38.50 517.84,38.50 518.06,38.50 518.28,38.50 518.50,38.50 518.72,38.50 518.94,38.50 519.16,38.50 519.38,38.50 519.60,38.50 519.82,38.50 520.04,38.50 520.26,38.50 520.47,38.50 520.69,38.50 520.91,38.50 521.13,38.50 521.35,38.50 521.57,38.50 521.79,38.50 522.01,38.50 522.23,38.50 522.45,38.50 522.67,38.50 522.89,38.50 523.11,38.50 523.33,38.50 523.55,38.50 523.77,38.50 523.99,38.50 524.21,38.50 524.42,38.50 524.64,38.50 524.86,38.50 525.08,38.50 525.30,38.50 525.52,38.50 525.74,38.50 525.96,38.50 526.18,38.50" fill="none" stroke="rgb(252,124,118)" stroke-width="1.2" stroke-linejoin="round"/>
<polygon points="378.60,11.90 378.85,13.09 379.10,14.23 379.36,15.32 379.61,16.36 379.86,17.35 380.11,18.30 380.36,19.20 380.62,20.07 380.87,20.89 381.12,21.68 381.37,22.43 381.63,23.15 381.88,23.84 382.13,24.50 382.38,25.13 382.63,25.72 382.89,26.30 383.14,26.84 383.39,27.37 383.64,27.86 383.89,28.34 384.15,28.80 384.40,29.23 384.65,29.65 384.90,30.04 385.15,30.42 385.41,30.78 385.66,31.13 385.91,31.46 386.16,31.78 386.42,32.08 386.67,32.36 386.92,32.64 387.17,32.90 387.42,33.15 387.68,33.39 387.93,33.62 388.18,33.84 388.43,34.05 388.68,34.25 388.94,34.44 389.19,34.62 389.44,34.79 389.69,34.96 389.94,35.12 390.20,35.27 390.45,35.41 390.70,35.55 390.95,35.69 391.21,35.81 391.46,35.93 391.71,36.05 391.96,36.16 392.21,36.26 392.47,36.36 392.72,36.46 392.97,36.55 393.22,36.64 393.47,36.72 393.73,36.80 393.98,36.88 394.23,36.95 394.48,37.02 394.73,37.08 394.99,37.15 395.24,37.21 395.49,37.27 395.74,37.32 395.99,37.37 396.25,37.42 396.50,37.47 396.75,37.52 397.00,37.56 397.26,37.61 397.51,37.65 397.76,37.68 398.01,37.72 398.26,37.75 398.52,37.79 398.77,37.82 399.02,37.85 399.27,37.88 399.52,37.91 399.78,37.93 400.03,37.96 400.28,37.98 400.53,38.01 400.78,38.03 401.04,38.05 401.29,38.07 401.54,38.09 401.79,38.11 402.05,38.13 402.30,38.14 402.55,38.16 402.80,38.17 403.05,38.19 403.31,38.20 403.56,38.22 403.81,38.23 404.06,38.24 404.31,38.25 404.57,38.26 404.82,38.27 405.07,38.28 405.32,38.29 405.57,38.30 405.83,38.31 406.08,38.32 406.33,38.33 406.58,38.34 406.84,38.34 407.09,38.35 407.34,38.36 407.59,38.36 407.84,38.37 408.10,38.38 408.35,38.38 408.60,38.39 408.60,38.60 408.35,38.61 408.10,38.61 407.84,38.62 407.59,38.62 407.34,38.63 407.09,38.64 406.84,38.64 406.58,38.65 406.33,38.66 406.08,38.66 405.83,38.67 405.57,38.68 405.32,38.69 405.07,38.69 404.82,38.70 404.57,38.71 404.31,38.72 404.06,38.73 403.81,38.75 403.56,38.76 403.31,38.77 403.05,38.78 402.80,38.79 402.55,38.81 402.30,38.82 402.05,38.84 401.79,38.85 401.54,38.87 401.29,38.89 401.04,38.91 400.78,38.93 400.53,38.94 400.28,38.97 400.03,38.99 399.78,39.01 399.52,39.03 399.27,39.06 399.02,39.09 398.77,39.11 398.52,39.14 398.26,39.17 398.01,39.20 397.76,39.24 397.51,39.27 397.26,39.31 397.00,39.35 396.75,39.38 396.50,39.43 396.25,39.47 395.99,39.52 395.74,39.56 395.49,39.61 395.24,39.67 394.99,39.72 394.73,39.78 394.48,39.84 394.23,39.90 393.98,39.97 393.73,40.03 393.47,40.11 393.22,40.18 392.97,40.26 392.72,40.34 392.47,40.43 392.21,40.52 391.96,40.61 391.71,40.71 391.46,40.82 391.21,40.93 390.95,41.04 390.70,41.16 390.45,41.28 390.20,41.41 389.94,41.55 389.69,41.69 389.44,41.84 389.19,42.00 388.94,42.16 388.68,42.34 388.43,42.52 388.18,42.70 387.93,42.90 387.68,43.11 387.42,43.32 387.17,43.55 386.92,43.79 386.67,44.04 386.42,44.30 386.16,44.57 385.91,44.85 385.66,45.15 385.41,45.46 385.15,45.79 384.90,46.13 384.65,46.49 384.40,46.86 384.15,47.26 383.89,47.67 383.64,48.10 383.39,48.55 383.14,49.02 382.89,49.51 382.63,50.03 382.38,50.57 382.13,51.13 381.88,51.73 381.63,52.35 381.37,53.00 381.12,53.68 380.87,54.39 380.62,55.13 380.36,55.91 380.11,56.73 379.86,57.58 379.61,58.48 379.36,59.42 379.10,60.40 378.85,61.42 378.60,62.50" fill="rgb(250,118,108)" stroke="none"/>
<polyline points="87.50,120.50 89.00,124.00 90.50,127.00 91.50,127.80 92.50,126.00 94.00,125.00 95.50,126.00 97.00,123.50 98.50,120.00 100.00,117.50 101.00,118.50 102.00,123.00 103.00,127.00 104.00,131.00 105.00,133.00 106.00,132.00 107.00,128.00 108.00,126.00 109.50,125.50 111.00,126.00 112.50,126.50 114.00,126.50 116.00,127.00 118.00,127.50 120.00,128.00 121.50,129.50 122.50,130.00 124.00,128.80 125.50,128.00 127.00,127.50 128.50,127.20 130.00,128.00 131.50,129.00 133.00,130.00 135.00,131.00 136.50,131.80 137.50,131.00 139.00,126.00 140.00,118.00 141.00,107.00 142.00,97.00 143.50,89.00 145.00,85.50 146.50,86.00 147.50,89.00 148.50,94.00 150.00,101.00 151.50,108.00 153.00,114.00 154.50,118.00 156.00,118.50 157.50,117.00 158.50,116.50 159.50,119.00 160.50,123.00 161.50,126.00 162.50,127.00 164.00,127.20 165.50,127.50 167.00,127.20 168.50,127.00 170.00,128.00 171.50,129.50 173.00,127.00 174.50,125.50 176.00,127.00 177.50,129.50 179.00,131.00 180.50,129.50 182.00,126.00 183.50,123.00 185.00,121.50 186.00,122.50 187.50,125.50 189.00,128.00 190.50,130.00 191.50,130.50 193.00,131.00 194.50,129.00 196.00,126.50 197.50,124.80 199.00,124.00 200.50,122.00 202.00,119.50 203.50,121.00 205.00,125.00 206.50,127.00 208.00,125.50 209.50,127.50 211.00,130.00 212.50,128.50 214.00,127.00 215.50,129.00 217.00,130.00 218.50,130.50 220.00,128.80 221.50,128.50 223.00,130.00 224.50,132.00 226.00,132.50 227.50,129.50 228.50,125.00 229.50,121.00 231.00,123.50 232.50,127.00 234.00,125.00 235.50,124.50 237.00,125.00 238.50,123.00 239.50,122.00 240.50,123.50 241.50,126.00 242.50,130.00 243.50,133.50 244.50,135.00 245.00,134.00 246.00,128.00 247.50,122.50 249.00,120.20 250.50,121.00 252.00,124.00 253.50,127.00 255.00,128.50 256.50,129.50 258.00,131.00 259.50,131.80 261.00,131.00 262.50,130.50 264.00,131.00 265.50,129.00 266.50,128.20 268.00,129.50 269.50,129.50 271.00,125.00 272.50,120.00 274.00,118.00 275.50,119.00 276.50,121.00 278.00,122.00 279.50,121.80 281.00,124.00 282.50,127.00 284.00,128.00 285.50,126.00 287.00,125.00 288.50,126.00 290.00,128.00 291.50,126.50 293.00,124.50 294.50,126.00 296.00,128.50 297.00,130.00 298.50,131.00 300.00,130.20 301.50,129.50 303.00,130.50 304.50,129.50 305.50,125.50 306.80,122.50 308.00,124.00 309.00,128.00 310.50,132.00 312.00,133.20 313.50,132.50 315.00,130.00 316.50,127.00 318.00,125.00 319.50,124.50 321.00,126.00 322.50,128.00 324.00,130.00 325.50,131.50 327.00,133.00 328.50,131.00 330.00,128.00 331.00,127.80 332.00,130.00 333.50,133.00 334.50,134.00 336.00,131.00 337.50,128.50 339.00,128.00 340.50,126.00 342.00,124.00 343.20,123.20 344.50,125.50 346.00,128.50 347.50,131.50 348.80,134.00 350.50,135.00 352.00,131.00 353.50,129.00 355.00,128.00 356.50,129.00 358.00,130.00 359.50,129.50 361.00,127.00 362.50,125.00 363.80,124.50 365.00,126.00 366.50,128.00 368.00,129.00 369.50,128.50 371.00,130.00 372.00,130.20 373.50,128.00 375.00,126.50 376.50,125.50 378.00,124.00 379.00,123.50 380.00,126.00 381.00,128.00 382.50,131.00 384.00,133.50 385.00,134.00 386.50,131.00 388.00,128.50 390.00,127.50 391.50,127.00 393.00,125.00 394.50,124.80 396.00,126.50 397.50,127.50 399.00,127.80 400.50,127.00 402.50,125.50 405.00,124.50 407.00,126.00 409.00,128.50 411.00,130.00 412.50,129.00 414.00,127.50 416.00,127.00 418.00,126.00 420.50,124.50 422.00,128.00 423.50,130.00 425.00,127.00 427.00,122.00 429.00,123.50 431.00,126.00 433.00,124.50 434.50,123.50 436.50,125.50 438.00,127.00 440.00,126.80 442.00,128.00 444.00,128.50 446.00,129.00 448.00,130.00 449.00,129.50 450.00,125.00 451.50,120.50 452.50,120.20 454.00,123.50 455.50,128.00 457.00,128.00 458.50,127.00 460.00,129.00 462.00,132.00 463.50,131.00 465.00,127.50 466.50,125.00 468.00,126.00 469.50,130.00 471.00,133.00 472.50,132.00 474.00,129.00 476.00,126.50 478.00,127.20 482.00,125.00 484.00,123.80 486.00,125.50 488.00,127.00 490.00,126.00 492.00,125.20 493.50,126.50 495.00,129.50 496.50,130.50 498.00,129.00 499.50,129.50 501.00,130.50 502.50,127.00 504.00,123.00 505.00,122.50 506.00,124.00 507.50,128.00 509.00,130.00 510.50,129.50 512.00,128.00 514.00,129.00 515.50,130.50 517.00,128.00 518.50,127.50 520.00,129.50 521.00,130.50 522.00,128.50 524.00,126.00 525.50,123.50 526.30,121.50" fill="none" stroke="rgb(4,158,134)" stroke-width="1.7" stroke-linejoin="round"/>
<polyline points="87.50,181.98 87.72,182.08 87.94,182.24 88.16,182.46 88.38,182.66 88.60,182.76 88.82,182.67 89.04,182.37 89.26,181.90 89.48,181.37 89.69,180.90 89.91,180.58 90.13,180.44 90.35,180.49 90.57,180.68 90.79,180.98 91.01,181.38 91.23,181.84 91.45,182.29 91.67,182.64 91.89,182.75 92.11,182.54 92.33,182.01 92.55,181.30 92.77,180.65 92.99,180.33 93.21,180.54 93.43,181.28 93.64,182.37 93.86,183.45 94.08,184.13 94.30,184.14 94.52,183.41 94.74,182.11 94.96,180.61 95.18,179.35 95.40,178.66 95.62,178.72 95.84,179.46 96.06,180.62 96.28,181.88 96.50,182.90 96.72,183.51 96.94,183.68 97.16,183.49 97.38,183.11 97.59,182.73 97.81,182.44 98.03,182.29 98.25,182.23 98.47,182.17 98.69,182.04 98.91,181.76 99.13,181.34 99.35,180.83 99.57,180.33 99.79,179.95 100.01,179.77 100.23,179.82 100.45,180.08 100.67,180.53 100.89,181.09 101.11,181.73 101.33,182.39 101.54,182.99 101.76,183.44 101.98,183.64 102.20,183.50 102.42,183.02 102.64,182.29 102.86,181.48 103.08,180.80 103.30,180.41 103.52,180.39 103.74,180.69 103.96,181.15 104.18,181.60 104.40,181.90 104.62,181.99 104.84,181.90 105.06,181.74 105.28,181.60 105.49,181.58 105.71,181.68 105.93,181.87 106.15,182.07 106.37,182.21 106.59,182.23 106.81,182.14 107.03,181.95 107.25,181.74 107.47,181.56 107.69,181.47 107.91,181.51 108.13,181.65 108.35,181.87 108.57,182.12 108.79,182.33 109.01,182.44 109.23,182.40 109.44,182.18 109.66,181.80 109.88,181.32 110.10,180.82 110.32,180.43 110.54,180.27 110.76,180.40 110.98,180.84 111.20,181.50 111.42,182.24 111.64,182.88 111.86,183.23 112.08,183.17 112.30,182.70 112.52,181.90 112.74,180.97 112.96,180.12 113.18,179.56 113.40,179.43 113.61,179.76 113.83,180.50 114.05,181.52 114.27,182.63 114.49,183.66 114.71,184.40 114.93,184.69 115.15,184.46 115.37,183.71 115.59,182.60 115.81,181.36 116.03,180.29 116.25,179.62 116.47,179.45 116.69,179.74 116.91,180.32 117.13,180.98 117.35,181.57 117.56,182.03 117.78,182.38 118.00,182.68 118.22,182.96 118.44,183.16 118.66,183.21 118.88,183.01 119.10,182.57 119.32,181.96 119.54,181.32 119.76,180.81 119.98,180.54 120.20,180.53 120.42,180.72 120.64,180.99 120.86,181.23 121.08,181.36 121.30,181.38 121.51,181.33 121.73,181.27 121.95,181.26 122.17,181.34 122.39,181.51 122.61,181.71 122.83,181.88 123.05,181.96 123.27,181.91 123.49,181.76 123.71,181.57 123.93,181.45 124.15,181.49 124.37,181.75 124.59,182.18 124.81,182.67 125.03,183.04 125.25,183.16 125.46,182.95 125.68,182.44 125.90,181.76 126.12,181.08 126.34,180.58 126.56,180.36 126.78,180.46 127.00,180.81 127.22,181.27 127.44,181.72 127.66,182.01 127.88,182.10 128.10,181.99 128.32,181.75 128.54,181.47 128.76,181.23 128.98,181.12 129.20,181.15 129.41,181.33 129.63,181.65 129.85,182.08 130.07,182.57 130.29,183.02 130.51,183.31 130.73,183.29 130.95,182.89 131.17,182.11 131.39,181.11 131.61,180.15 131.83,179.54 132.05,179.51 132.27,180.12 132.49,181.21 132.71,182.46 132.93,183.49 133.15,183.96 133.37,183.75 133.58,182.95 133.80,181.84 134.02,180.81 134.24,180.17 134.46,180.08 134.68,180.51 134.90,181.21 135.12,181.89 135.34,182.28 135.56,182.25 135.78,181.88 136.00,181.39 136.22,181.05 136.44,181.05 136.66,181.45 136.88,182.11 137.10,182.78 137.32,183.17 137.53,183.14 137.75,182.69 137.97,181.99 138.19,181.26 138.41,180.73 138.63,180.46 138.85,180.41 139.07,180.46 139.29,180.51 139.51,180.53 139.73,180.58 139.95,180.78 140.17,181.24 140.39,181.94 140.61,182.74 140.83,183.42 141.05,183.76 141.27,183.65 141.48,183.13 141.70,182.41 141.92,181.74 142.14,181.33 142.36,181.23 142.58,181.34 142.80,181.48 143.02,181.46 143.24,181.23 143.46,180.89 143.68,180.60 143.90,180.53 144.12,180.76 144.34,181.22 144.56,181.77 144.78,182.23 145.00,182.52 145.22,182.59 145.43,182.52 145.65,182.36 145.87,182.19 146.09,182.01 146.31,181.85 146.53,181.70 146.75,181.58 146.97,181.51 147.19,181.49 147.41,181.50 147.63,181.51 147.85,181.47 148.07,181.36 148.29,181.22 148.51,181.10 148.73,181.06 148.95,181.14 149.17,181.32 149.38,181.55 149.60,181.77 149.82,181.94 150.04,182.04 150.26,182.10 150.48,182.19 150.70,182.33 150.92,182.51 151.14,182.68 151.36,182.74 151.58,182.59 151.80,182.20 152.02,181.59 152.24,180.89 152.46,180.28 152.68,179.91 152.90,179.91 153.12,180.32 153.33,181.04 153.55,181.93 153.77,182.78 153.99,183.42 154.21,183.71 154.43,183.59 154.65,183.08 154.87,182.31 155.09,181.42 155.31,180.60 155.53,179.99 155.75,179.69 155.97,179.72 156.19,180.01 156.41,180.47 156.63,180.99 156.85,181.49 157.07,181.95 157.29,182.37 157.50,182.78 157.72,183.16 157.94,183.47 158.16,183.62 158.38,183.52 158.60,183.14 158.82,182.48 159.04,181.67 159.26,180.88 159.48,180.29 159.70,180.02 159.92,180.10 160.14,180.45 160.36,180.92 160.58,181.36 160.80,181.69 161.02,181.89 161.24,182.03 161.45,182.18 161.67,182.39 161.89,182.63 162.11,182.79 162.33,182.79 162.55,182.56 162.77,182.15 162.99,181.67 163.21,181.29 163.43,181.11 163.65,181.14 163.87,181.30 164.09,181.45 164.31,181.47 164.53,181.34 164.75,181.15 164.97,181.02 165.19,181.08 165.40,181.35 165.62,181.74 165.84,182.09 166.06,182.27 166.28,182.22 166.50,182.01 166.72,181.77 166.94,181.63 167.16,181.66 167.38,181.84 167.60,182.05 167.82,182.19 168.04,182.17 168.26,181.97 168.48,181.66 168.70,181.32 168.92,181.05 169.14,180.89 169.35,180.86 169.57,180.92 169.79,181.05 170.01,181.19 170.23,181.34 170.45,181.51 170.67,181.73 170.89,182.02 171.11,182.35 171.33,182.66 171.55,182.86 171.77,182.90 171.99,182.75 172.21,182.44 172.43,182.05 172.65,181.68 172.87,181.40 173.09,181.24 173.30,181.16 173.52,181.12 173.74,181.06 173.96,180.96 174.18,180.87 174.40,180.86 174.62,181.02 174.84,181.40 175.06,181.96 175.28,182.59 175.50,183.11 175.72,183.38 175.94,183.30 176.16,182.85 176.38,182.16 176.60,181.40 176.82,180.74 177.04,180.32 177.26,180.19 177.47,180.34 177.69,180.70 177.91,181.17 178.13,181.69 178.35,182.16 178.57,182.53 178.79,182.72 179.01,182.66 179.23,182.36 179.45,181.86 179.67,181.30 179.89,180.87 180.11,180.70 180.33,180.85 180.55,181.25 180.77,181.74 180.99,182.14 181.21,182.33 181.42,182.30 181.64,182.14 181.86,181.97 182.08,181.87 182.30,181.83 182.52,181.77 182.74,181.64 182.96,181.43 183.18,181.21 183.40,181.13 183.62,181.31 183.84,181.74 184.06,182.31 184.28,182.81 184.50,183.03 184.72,182.86 184.94,182.32 185.16,181.58 185.37,180.88 185.59,180.42 185.81,180.33 186.03,180.58 186.25,181.05 186.47,181.57 186.69,181.96 186.91,182.11 187.13,181.97 187.35,181.61 187.57,181.13 187.79,180.70 188.01,180.46 188.23,180.54 188.45,180.96 188.67,181.70 188.89,182.61 189.11,183.52 189.32,184.19 189.54,184.44 189.76,184.16 189.98,183.37 190.20,182.20 190.42,180.93 190.64,179.86 190.86,179.26 191.08,179.28 191.30,179.89 191.52,180.88 191.74,181.97 191.96,182.86 192.18,183.31 192.40,183.25 192.62,182.72 192.84,181.88 193.06,180.96 193.27,180.18 193.49,179.75 193.71,179.78 193.93,180.30 194.15,181.22 194.37,182.36 194.59,183.45 194.81,184.23 195.03,184.49 195.25,184.15 195.47,183.30 195.69,182.15 195.91,181.00 196.13,180.13 196.35,179.73 196.57,179.83 196.79,180.35 197.01,181.09 197.22,181.82 197.44,182.36 197.66,182.61 197.88,182.58 198.10,182.35 198.32,182.05 198.54,181.77 198.76,181.57 198.98,181.40 199.20,181.21 199.42,180.96 199.64,180.63 199.86,180.33 200.08,180.17 200.30,180.27 200.52,180.67 200.74,181.33 200.96,182.09 201.18,182.80 201.39,183.27 201.61,183.41 201.83,183.24 202.05,182.83 202.27,182.31 202.49,181.81 202.71,181.45 202.93,181.25 203.15,181.22 203.37,181.29 203.59,181.39 203.81,181.47 204.03,181.52 204.25,181.57 204.47,181.65 204.69,181.82 204.91,182.05 205.13,182.26 205.34,182.34 205.56,182.17 205.78,181.73 206.00,181.12 206.22,180.54 206.44,180.24 206.66,180.40 206.88,181.02 207.10,181.91 207.32,182.73 207.54,183.14 207.76,182.97 207.98,182.26 208.20,181.32 208.42,180.56 208.64,180.30 208.86,180.68 209.08,181.54 209.29,182.54 209.51,183.29 209.73,183.53 209.95,183.19 210.17,182.44 210.39,181.57 210.61,180.87 210.83,180.53 211.05,180.56 211.27,180.85 211.49,181.21 211.71,181.48 211.93,181.57 212.15,181.52 212.37,181.45 212.59,181.48 212.81,181.69 213.03,182.09 213.24,182.58 213.46,183.00 213.68,183.20 213.90,183.09 214.12,182.67 214.34,182.01 214.56,181.28 214.78,180.65 215.00,180.26 215.22,180.22 215.44,180.52 215.66,181.08 215.88,181.72 216.10,182.28 216.32,182.60 216.54,182.66 216.76,182.47 216.98,182.18 217.19,181.91 217.41,181.74 217.63,181.69 217.85,181.68 218.07,181.62 218.29,181.42 218.51,181.08 218.73,180.67 218.95,180.33 219.17,180.17 219.39,180.28 219.61,180.66 219.83,181.23 220.05,181.86 220.27,182.43 220.49,182.86 220.71,183.12 220.93,183.22 221.15,183.19 221.36,183.03 221.58,182.73 221.80,182.28 222.02,181.72 222.24,181.13 222.46,180.65 222.68,180.40 222.90,180.48 223.12,180.86 223.34,181.41 223.56,181.96 223.78,182.31 224.00,182.36 224.22,182.13 224.44,181.73 224.66,181.32 224.88,181.04 225.10,180.95 225.31,181.02 225.53,181.17 225.75,181.29 225.97,181.35 226.19,181.36 226.41,181.37 226.63,181.45 226.85,181.64 227.07,181.91 227.29,182.21 227.51,182.46 227.73,182.60 227.95,182.60 228.17,182.47 228.39,182.26 228.61,182.03 228.83,181.84 229.05,181.69 229.26,181.59 229.48,181.52 229.70,181.44 229.92,181.35 230.14,180.02 230.36,176.93 230.58,173.35 230.80,170.53 231.02,169.41 231.24,170.51 231.46,173.83 231.68,178.92 231.90,185.04 232.12,191.27 232.34,196.64 232.56,200.31 232.78,201.62 233.00,200.24 233.21,196.20 233.43,189.94 233.65,182.24 233.87,174.14 234.09,166.79 234.31,161.27 234.53,158.43 234.75,158.77 234.97,162.34 235.19,168.72 235.41,177.10 235.63,186.29 235.85,195.00 236.07,201.94 236.29,206.06 236.51,206.76 236.73,203.93 236.95,198.01 237.16,189.87 237.38,180.71 237.60,171.83 237.82,164.46 238.04,159.57 238.26,157.74 238.48,159.14 238.70,163.51 238.92,170.23 239.14,178.43 239.36,187.07 239.58,195.04 239.80,201.28 240.02,204.90 240.24,205.32 240.46,202.36 240.68,196.38 240.90,188.23 241.12,179.16 241.33,170.91 241.55,164.72 241.77,161.38 241.99,161.17 242.21,163.81 242.43,168.61 242.65,174.66 242.87,181.04 243.09,186.91 243.31,191.68 243.53,194.96 243.75,196.57 243.97,196.50 244.19,194.85 244.41,191.82 244.63,187.71 244.85,182.92 245.07,177.93 245.28,173.30 245.50,169.63 245.72,167.47 245.94,167.20 246.16,168.96 246.38,172.56 246.60,177.53 246.82,183.12 247.04,188.46 247.26,192.75 247.48,195.32 247.70,195.82 247.92,194.25 248.14,190.92 248.36,186.42 248.58,181.47 248.80,176.83 249.02,173.15 249.23,170.86 249.45,170.15 249.67,170.97 249.89,173.03 250.11,175.96 250.33,179.29 250.55,182.60 250.77,185.50 250.99,187.72 251.21,189.07 251.43,189.47 251.65,188.96 251.87,187.66 252.09,185.77 252.31,183.54 252.53,181.25 252.75,179.17 252.97,177.53 253.18,176.50 253.40,176.17 253.62,176.55 253.84,177.57 254.06,179.11 254.28,180.96 254.50,182.91 254.72,184.69 254.94,186.06 255.16,186.81 255.38,186.82 255.60,186.07 255.82,184.66 256.04,182.81 256.26,180.80 256.48,178.94 256.70,177.47 256.92,176.58 257.13,176.35 257.35,176.78 257.57,177.81 257.79,179.36 258.01,181.27 258.23,183.34 258.45,185.29 258.67,186.82 258.89,187.60 259.11,187.41 259.33,186.20 259.55,184.16 259.77,181.68 259.99,179.31 260.21,177.59 260.43,176.89 260.65,177.33 260.87,178.69 261.08,180.54 261.30,182.36 261.52,183.70 261.74,184.31 261.96,184.16 262.18,183.45 262.40,182.47 262.62,181.51 262.84,180.79 263.06,180.45 263.28,180.45 263.50,180.71 263.72,181.06 263.94,181.35 264.16,181.48 264.38,181.41 264.60,181.20 264.82,180.96 265.04,180.82 265.25,180.88 265.47,181.18 265.69,181.67 265.91,182.26 266.13,182.81 266.35,183.19 266.57,183.31 266.79,183.14 267.01,182.73 267.23,182.19 267.45,181.67 267.67,181.30 267.89,181.18 268.11,181.31 268.33,181.58 268.55,181.86 268.77,181.98 268.99,181.88 269.20,181.61 269.42,181.32 269.64,181.21 269.86,181.41 270.08,181.93 270.30,182.62 270.52,183.24 270.74,183.51 270.96,183.24 271.18,182.41 271.40,181.20 271.62,179.93 271.84,178.96 272.06,178.61 272.28,178.99 272.50,180.03 272.72,181.45 272.94,182.86 273.15,183.92 273.37,184.38 273.59,184.19 273.81,183.48 274.03,182.50 274.25,181.54 274.47,180.81 274.69,180.39 274.91,180.23 275.13,180.22 275.35,180.24 275.57,180.22 275.79,180.20 276.01,180.28 276.23,180.59 276.45,181.20 276.67,182.10 276.89,183.13 277.10,184.05 277.32,184.60 277.54,184.61 277.76,184.02 277.98,182.97 278.20,181.69 278.42,180.49 278.64,179.64 278.86,179.27 279.08,179.41 279.30,179.93 279.52,180.66 279.74,181.42 279.96,182.04 280.18,182.43 280.40,182.56 280.62,182.46 280.84,182.24 281.05,182.02 281.27,181.92 281.49,181.98 281.71,182.18 281.93,182.44 282.15,182.64 282.37,182.70 282.59,182.60 282.81,182.38 283.03,182.09 283.25,181.78 283.47,181.49 283.69,181.23 283.91,181.02 284.13,180.87 284.35,180.82 284.57,180.88 284.79,181.02 285.00,181.22 285.22,181.40 285.44,181.56 285.66,181.68 285.88,181.77 286.10,181.85 286.32,181.88 286.54,181.86 286.76,181.78 286.98,181.69 287.20,181.67 287.42,181.82 287.64,182.15 287.86,182.58 288.08,182.96 288.30,183.11 288.52,182.90 288.74,182.35 288.96,181.60 289.17,180.89 289.39,180.43 289.61,180.36 289.83,180.67 290.05,181.23 290.27,181.82 290.49,182.23 290.71,182.34 290.93,182.11 291.15,181.62 291.37,181.03 291.59,180.55 291.81,180.34 292.03,180.48 292.25,180.97 292.47,181.66 292.69,182.37 292.91,182.93 293.12,183.19 293.34,183.14 293.56,182.81 293.78,182.31 294.00,181.76 294.22,181.24 294.44,180.84 294.66,180.60 294.88,180.58 295.10,180.78 295.32,181.19 295.54,181.73 295.76,182.28 295.98,182.69 296.20,182.81 296.42,182.60 296.64,182.11 296.86,181.49 297.07,180.93 297.29,180.64 297.51,180.72 297.73,181.17 297.95,181.88 298.17,182.65 298.39,183.28 298.61,183.59 298.83,183.46 299.05,182.89 299.27,182.00 299.49,180.97 299.71,180.03 299.93,179.39 300.15,179.20 300.37,179.53 300.59,180.31 300.81,181.35 301.02,182.44 301.24,183.33 301.46,183.82 301.68,183.82 301.90,183.32 302.12,182.42 302.34,181.32 302.56,180.27 302.78,179.53 303.00,179.30 303.22,179.66 303.44,180.56 303.66,181.75 303.88,182.92 304.10,183.75 304.32,184.01 304.54,183.63 304.76,182.77 304.97,181.70 305.19,180.76 305.41,180.21 305.63,180.17 305.85,180.57 306.07,181.20 306.29,181.80 306.51,182.16 306.73,182.21 306.95,182.01 307.17,181.73 307.39,181.52 307.61,181.50 307.83,181.65 308.05,181.91 308.27,182.17 308.49,182.32 308.71,182.35 308.93,182.27 309.14,182.14 309.36,182.00 309.58,181.88 309.80,181.77 310.02,181.65 310.24,181.50 310.46,181.32 310.68,181.10 310.90,180.87 311.12,180.69 311.34,180.60 311.56,180.70 311.78,181.04 312.00,181.64 312.22,182.47 312.44,183.37 312.66,184.11 312.88,184.45 313.09,184.20 313.31,183.31 313.53,181.94 313.75,180.41 313.97,179.14 314.19,178.44 314.41,178.49 314.63,179.21 314.85,180.34 315.07,181.54 315.29,182.47 315.51,182.94 315.73,182.90 315.95,182.49 316.17,181.90 316.39,181.37 316.61,181.08 316.83,181.14 317.04,181.54 317.26,182.17 317.48,182.85 317.70,183.35 317.92,183.50 318.14,183.22 318.36,182.56 318.58,181.69 318.80,180.85 319.02,180.28 319.24,180.11 319.46,180.34 319.68,180.83 319.90,181.38 320.12,181.78 320.34,181.94 320.56,181.88 320.78,181.72 320.99,181.64 321.21,181.77 321.43,182.15 321.65,182.67 321.87,183.18 322.09,183.50 322.31,183.50 322.53,183.18 322.75,182.59 322.97,181.84 323.19,181.05 323.41,180.30 323.63,179.65 323.85,179.18 324.07,178.98 324.29,179.15 324.51,179.74 324.73,180.71 324.94,181.90 325.16,183.03 325.38,183.82 325.60,184.07 325.82,183.74 326.04,182.97 326.26,182.02 326.48,181.16 326.70,180.61 326.92,180.46 327.14,180.66 327.36,181.11 327.58,181.68 327.80,182.24 328.02,182.71 328.24,183.00 328.46,183.04 328.68,182.77 328.89,182.21 329.11,181.45 329.33,180.68 329.55,180.11 329.77,179.93 329.99,180.24 330.21,180.96 330.43,181.92 330.65,182.86 330.87,183.55 331.09,183.84 331.31,183.70 331.53,183.23 331.75,182.56 331.97,181.86 332.19,181.23 332.41,180.74 332.63,180.42 332.85,180.24 333.06,180.18 333.28,180.24 333.50,180.42 333.72,180.74 333.94,181.21 334.16,181.83 334.38,182.53 334.60,183.21 334.82,183.75 335.04,183.99 335.26,183.86 335.48,183.32 335.70,182.46 335.92,181.44 336.14,180.46 336.36,179.73 336.58,179.38 336.80,179.47 337.01,179.94 337.23,180.66 337.45,181.46 337.67,182.19 337.89,182.71 338.11,182.97 338.33,182.95 338.55,182.72 338.77,182.36 338.99,182.01 339.21,181.78 339.43,181.72 339.65,181.82 339.87,182.00 340.09,182.13 340.31,182.10 340.53,181.85 340.75,181.40 340.96,180.85 341.18,180.32 341.40,179.95 341.62,179.80 341.84,179.90 342.06,180.24 342.28,180.77 342.50,181.44 342.72,182.18 342.94,182.92 343.16,183.57 343.38,184.00 343.60,184.10 343.82,183.79 344.04,183.08 344.26,182.06 344.48,180.94 344.70,180.00 344.91,179.48 345.13,179.53 345.35,180.16 345.57,181.19 345.79,182.34 346.01,183.27 346.23,183.73 346.45,183.58 346.67,182.92 346.89,181.97 347.11,181.04 347.33,180.40 347.55,180.22 347.77,180.50 347.99,181.10 348.21,181.78 348.43,182.29 348.65,182.46 348.86,182.25 349.08,181.74 349.30,181.15 349.52,180.70 349.74,180.57 349.96,180.84 350.18,181.44 350.40,182.22 350.62,182.94 350.84,183.40 351.06,183.48 351.28,183.17 351.50,182.60 351.72,181.94 351.94,181.38 352.16,181.04 352.38,180.95 352.60,181.01 352.82,181.10 353.03,181.09 353.25,180.92 353.47,180.67 353.69,180.49 353.91,180.55 354.13,180.94 354.35,181.62 354.57,182.42 354.79,183.08 355.01,183.43 355.23,183.35 355.45,182.93 355.67,182.33 355.89,181.73 356.11,181.27 356.33,181.01 356.55,180.90 356.77,180.86 356.98,180.84 357.20,180.86 357.42,180.97 357.64,181.22 357.86,181.65 358.08,182.20 358.30,182.79 358.52,183.25 358.74,183.45 358.96,183.30 359.18,182.81 359.40,182.07 359.62,181.27 359.84,180.62 360.06,180.29 360.28,180.33 360.50,180.66 360.72,181.13 360.93,181.54 361.15,181.76 361.37,181.78 361.59,181.71 361.81,181.68 362.03,181.82 362.25,182.12 362.47,182.48 362.69,182.76 362.91,182.82 363.13,182.61 363.35,182.19 363.57,181.68 363.79,181.17 364.01,180.76 364.23,180.47 364.45,180.30 364.67,180.26 364.88,180.41 365.10,180.79 365.32,181.42 365.54,182.27 365.76,183.18 365.98,183.96 366.20,184.39 366.42,184.30 366.64,183.65 366.86,182.52 367.08,181.15 367.30,179.81 367.52,178.78 367.74,178.25 367.96,178.30 368.18,178.89 368.40,179.87 368.62,181.06 368.83,182.28 369.05,183.34 369.27,184.13 369.49,184.55 369.71,184.58 369.93,184.21 370.15,183.53 370.37,182.64 370.59,181.69 370.81,180.83 371.03,180.19 371.25,179.86 371.47,179.86 371.69,180.16 371.91,180.69 372.13,181.35 372.35,182.00 372.57,182.54 372.79,182.87 373.00,182.93 373.22,182.73 373.44,182.32 373.66,181.81 373.88,181.29 374.10,180.87 374.32,180.59 374.54,180.48 374.76,180.53 374.98,180.76 375.20,181.18 375.42,181.78 375.64,182.51 375.86,183.22 376.08,183.74 376.30,183.89 376.52,183.57 376.74,182.82 376.95,181.87 377.17,181.01 377.39,180.51 377.61,180.51 377.83,180.95 378.05,181.56 378.27,179.18 378.49,177.40 378.71,176.42 378.93,176.36 379.15,177.19 379.37,178.76 379.59,180.73 379.81,182.71 380.03,184.28 380.25,185.14 380.47,185.16 380.69,184.43 380.90,183.21 381.12,181.84 381.34,180.68 381.56,179.99 381.78,179.88 382.00,180.32 382.22,181.15 382.44,182.12 382.66,182.93 382.88,183.35 383.10,183.24 383.32,182.62 383.54,181.65 383.76,180.61 383.98,179.81 384.20,179.49 384.42,179.76 384.64,180.54 384.85,181.61 385.07,182.69 385.29,183.49 385.51,183.82 385.73,183.62 385.95,182.98 386.17,182.05 386.39,181.08 386.61,180.29 386.83,179.86 387.05,179.88 387.27,180.36 387.49,181.14 387.71,182.00 387.93,182.70 388.15,183.05 388.37,182.96 388.59,182.51 388.80,181.93 389.02,181.44 389.24,181.24 389.46,181.38 389.68,181.74 389.90,182.11 390.12,182.25 390.34,182.03 390.56,181.47 390.78,180.73 391.00,180.10 391.22,179.83 391.44,180.07 391.66,180.80 391.88,181.81 392.10,182.78 392.32,183.43 392.54,183.56 392.75,183.20 392.97,182.52 393.19,181.81 393.41,181.36 393.63,181.30 393.85,181.61 394.07,182.14 394.29,182.62 394.51,182.84 394.73,182.65 394.95,182.06 395.17,181.19 395.39,180.25 395.61,179.48 395.83,179.11 396.05,179.24 396.27,179.91 396.49,180.98 396.71,182.24 396.92,183.40 397.14,184.20 397.36,184.47 397.58,184.21 397.80,183.51 398.02,182.59 398.24,181.68 398.46,180.95 398.68,180.48 398.90,180.25 399.12,180.19 399.34,180.24 399.56,180.38 399.78,180.63 400.00,181.00 400.22,181.46 400.44,181.89 400.66,182.18 400.87,182.21 401.09,181.96 401.31,181.51 401.53,181.04 401.75,180.77 401.97,180.84 402.19,181.29 402.41,182.01 402.63,182.80 402.85,183.43 403.07,183.72 403.29,183.60 403.51,183.13 403.73,182.46 403.95,181.79 404.17,181.30 404.39,181.08 404.61,181.14 404.82,181.39 405.04,181.69 405.26,181.91 405.48,181.95 405.70,181.80 405.92,181.51 406.14,181.19 406.36,180.94 406.58,180.84 406.80,180.91 407.02,181.08 407.24,181.28 407.46,181.41 407.68,181.46 407.90,181.43 408.12,181.42 408.34,181.51 408.56,181.75 408.77,182.12 408.99,182.53 409.21,182.85 409.43,182.97 409.65,182.87 409.87,182.57 410.09,182.17 410.31,181.79 410.53,181.50 410.75,181.32 410.97,181.21 411.19,181.14 411.41,181.07 411.63,181.03 411.85,181.06 412.07,181.21 412.29,181.47 412.51,181.81 412.72,182.12 412.94,182.31 413.16,182.32 413.38,182.14 413.60,181.81 413.82,181.41 414.04,181.06 414.26,180.85 414.48,180.86 414.70,181.11 414.92,181.57 415.14,182.15 415.36,182.68 415.58,183.00 415.80,183.02 416.02,182.70 416.24,182.14 416.46,181.52 416.68,181.01 416.89,180.77 417.11,180.85 417.33,181.20 417.55,181.68 417.77,182.16 417.99,182.49 418.21,182.59 418.43,182.48 418.65,182.18 418.87,181.77 419.09,181.34 419.31,180.94 419.53,180.63 419.75,180.44 419.97,180.39 420.19,180.51 420.41,180.79 420.63,181.21 420.84,181.71 421.06,182.21 421.28,182.60 421.50,182.80 421.72,182.77 421.94,182.55 422.16,182.19 422.38,181.78 422.60,181.42 422.82,181.14 423.04,180.97 423.26,180.89 423.48,180.90 423.70,181.01 423.92,181.24 424.14,181.59 424.36,182.04 424.58,182.49 424.79,182.83 425.01,182.95 425.23,182.78 425.45,182.36 425.67,181.82 425.89,181.32 426.11,181.03 426.33,181.03 426.55,181.31 426.77,181.72 426.99,182.08 427.21,182.24 427.43,182.14 427.65,181.83 427.87,181.45 428.09,181.14 428.31,181.02 428.53,181.07 428.74,181.26 428.96,181.47 429.18,181.62 429.40,181.67 429.62,181.64 429.84,181.58 430.06,181.53 430.28,181.53 430.50,181.58 430.72,181.68 430.94,181.80 431.16,181.92 431.38,182.02 431.60,182.08 431.82,182.09 432.04,182.05 432.26,181.99 432.48,181.94 432.69,181.96 432.91,182.06 433.13,182.25 433.35,182.47 433.57,182.63 433.79,182.63 434.01,182.38 434.23,181.88 434.45,181.18 434.67,180.45 434.89,179.87 435.11,179.63 435.33,179.84 435.55,180.47 435.77,181.36 435.99,182.29 436.21,183.01 436.43,183.36 436.64,183.30 436.86,182.92 437.08,182.38 437.30,181.90 437.52,181.59 437.74,181.51 437.96,181.62 438.18,181.83 438.40,182.03 438.62,182.15 438.84,182.14 439.06,181.96 439.28,181.64 439.50,181.20 439.72,180.71 439.94,180.25 440.16,179.95 440.38,179.91 440.60,180.16 440.81,180.71 441.03,181.44 441.25,182.22 441.47,182.90 441.69,183.38 441.91,183.61 442.13,183.58 442.35,183.30 442.57,182.80 442.79,182.11 443.01,181.32 443.23,180.53 443.45,179.92 443.67,179.61 443.89,179.71 444.11,180.20 444.33,180.96 444.55,181.81 444.76,182.55 444.98,183.04 445.20,183.23 445.42,183.15 445.64,182.86 445.86,182.45 446.08,181.99 446.30,181.53 446.52,181.11 446.74,180.79 446.96,180.61 447.18,180.64 447.40,180.87 447.62,181.27 447.84,181.77 448.06,182.25 448.28,182.63 448.50,182.80 448.71,182.75 448.93,182.47 449.15,182.03 449.37,181.51 449.59,181.03 449.81,180.68 450.03,180.56 450.25,180.70 450.47,181.07 450.69,181.59 450.91,182.13 451.13,182.56 451.35,182.78 451.57,182.77 451.79,182.59 452.01,182.35 452.23,182.15 452.45,182.05 452.66,182.02 452.88,181.96 453.10,181.78 453.32,181.44 453.54,180.99 453.76,180.55 453.98,180.30 454.20,180.35 454.42,180.72 454.64,181.31 454.86,181.95 455.08,182.44 455.30,182.65 455.52,182.55 455.74,182.24 455.96,181.88 456.18,181.62 456.40,181.57 456.61,181.73 456.83,182.00 457.05,182.24 457.27,182.33 457.49,182.18 457.71,181.83 457.93,181.36 458.15,180.92 458.37,180.64 458.59,180.58 458.81,180.75 459.03,181.08 459.25,181.46 459.47,181.81 459.69,182.07 459.91,182.23 460.13,182.32 460.35,182.36 460.56,182.35 460.78,182.23 461.00,181.93 461.22,181.45 461.44,180.85 461.66,180.32 461.88,180.09 462.10,180.36 462.32,181.17 462.54,182.36 462.76,183.59 462.98,184.47 463.20,184.66 463.42,184.07 463.64,182.86 463.86,181.41 464.08,180.18 464.30,179.55 464.52,179.68 464.73,180.47 464.95,181.57 465.17,182.58 465.39,183.11 465.61,182.98 465.83,182.23 466.05,181.15 466.27,180.12 466.49,179.49 466.71,179.48 466.93,180.07 467.15,181.04 467.37,182.09 467.59,182.89 467.81,183.24 468.03,183.13 468.25,182.66 468.47,182.04 468.68,181.49 468.90,181.16 469.12,181.12 469.34,181.33 469.56,181.70 469.78,182.11 470.00,182.46 470.22,182.69 470.44,182.76 470.66,182.68 470.88,182.48 471.10,182.19 471.32,181.85 471.54,181.50 471.76,181.16 471.98,180.90 472.20,180.76 472.42,180.77 472.63,180.96 472.85,181.28 473.07,181.68 473.29,182.09 473.51,182.41 473.73,182.56 473.95,182.50 474.17,182.25 474.39,181.83 474.61,181.33 474.83,180.86 475.05,180.52 475.27,180.36 475.49,180.41 475.71,180.65 475.93,180.99 476.15,181.38 476.37,181.74 476.58,182.08 476.80,182.40 477.02,182.74 477.24,183.08 477.46,183.35 477.68,183.45 477.90,183.26 478.12,182.71 478.34,181.85 478.56,180.83 478.78,179.90 479.00,179.31 479.22,179.23 479.44,179.70 479.66,180.57 479.88,181.61 480.10,182.56 480.32,183.18 480.53,183.38 480.75,183.19 480.97,182.74 481.19,182.18 481.41,181.64 481.63,181.19 481.85,180.86 482.07,180.64 482.29,180.53 482.51,180.53 482.73,180.70 482.95,181.05 483.17,181.59 483.39,182.28 483.61,183.00 483.83,183.60 484.05,183.88 484.27,183.69 484.49,182.97 484.70,181.78 484.92,180.37 485.14,179.07 485.36,178.27 485.58,178.23 485.80,179.06 486.02,180.61 486.24,182.52 486.46,184.33 486.68,185.56 486.90,185.88 487.12,185.21 487.34,183.70 487.56,181.77 487.78,179.93 488.00,178.65 488.22,178.25 488.44,178.78 488.65,180.02 488.87,181.59 489.09,183.05 489.31,184.05 489.53,184.39 489.75,184.07 489.97,183.26 490.19,182.22 490.41,181.22 490.63,180.50 490.85,180.18 491.07,180.25 491.29,180.63 491.51,181.12 491.73,181.57 491.95,181.85 492.17,181.95 492.39,181.90 492.60,181.78 492.82,181.68 493.04,181.63 493.26,181.61 493.48,181.62 493.70,181.65 493.92,181.71 494.14,181.83 494.36,181.97 494.58,182.09 494.80,182.10 495.02,181.93 495.24,181.57 495.46,181.08 495.68,180.61 495.90,180.32 496.12,180.31 496.34,180.63 496.55,181.19 496.77,181.87 496.99,182.50 497.21,182.93 497.43,183.07 497.65,182.90 497.87,182.46 498.09,181.84 498.31,181.20 498.53,180.70 498.75,180.46 498.97,180.58 499.19,181.02 499.41,181.69 499.63,182.38 499.85,182.90 500.07,183.09 500.29,182.92 500.50,182.46 500.72,181.85 500.94,181.28 501.16,180.90 501.38,180.79 501.60,180.95 501.82,181.32 502.04,181.80 502.26,182.28 502.48,182.63 502.70,182.75 502.92,182.59 503.14,182.15 503.36,181.54 503.58,180.90 503.80,180.40 504.02,180.17 504.24,180.24 504.45,180.55 504.67,180.98 504.89,181.41 505.11,181.76 505.33,182.04 505.55,182.31 505.77,182.61 505.99,182.96 506.21,183.27 506.43,183.43 506.65,183.30 506.87,182.82 507.09,182.05 507.31,181.12 507.53,180.25 507.75,179.65 507.97,179.46 508.19,179.71 508.41,180.32 508.62,181.15 508.84,182.03 509.06,182.78 509.28,183.26 509.50,183.37 509.72,183.06 509.94,182.38 510.16,181.47 510.38,180.55 510.60,179.90 510.82,179.77 511.04,180.25 511.26,181.29 511.48,182.59 511.70,183.77 511.92,184.45 512.14,184.39 512.36,183.61 512.57,182.35 512.79,181.00 513.01,179.96 513.23,179.48 513.45,179.62 513.67,180.25 513.89,181.11 514.11,181.91 514.33,182.44 514.55,182.64 514.77,182.54 514.99,182.26 515.21,181.92 515.43,181.61 515.65,181.38 515.87,181.24 516.09,181.19 516.31,181.25 516.52,181.45 516.74,181.78 516.96,182.22 517.18,182.65 517.40,182.94 517.62,182.97 517.84,182.68 518.06,182.12 518.28,181.41 518.50,180.77 518.72,180.35 518.94,180.27 519.16,180.51 519.38,180.98 519.60,181.54 519.82,182.02 520.04,182.33 520.26,182.41 520.47,182.27 520.69,181.97 520.91,181.62 521.13,181.33 521.35,181.21 521.57,181.31 521.79,181.63 522.01,182.07 522.23,182.48 522.45,182.68 522.67,182.58 522.89,182.15 523.11,181.51 523.33,180.88 523.55,180.47 523.77,180.43 523.99,180.79 524.21,181.45 524.42,182.19 524.64,182.79 524.86,183.10 525.08,183.04 525.30,182.69 525.52,182.17 525.74,181.63 525.96,181.18 526.18,180.89" fill="none" stroke="rgb(4,158,134)" stroke-width="1.5" stroke-linejoin="round"/>
<polyline points="87.50,253.00 87.72,256.29 87.94,253.26 88.16,255.45 88.38,253.29 88.60,255.38 88.82,253.15 89.04,255.27 89.26,253.01 89.48,255.79 89.69,253.56 89.91,255.65 90.13,253.41 90.35,255.55 90.57,253.07 90.79,255.82 91.01,252.91 91.23,256.36 91.45,253.01 91.67,255.75 91.89,252.58 92.11,256.49 92.33,252.36 92.55,256.36 92.77,253.24 92.99,256.29 93.21,252.83 93.43,256.09 93.64,253.14 93.86,255.48 94.08,252.94 94.30,255.74 94.52,252.99 94.74,255.40 94.96,253.43 95.18,255.85 95.40,253.47 95.62,256.10 95.84,253.28 96.06,255.98 96.28,252.89 96.50,255.91 96.72,252.95 96.94,256.62 97.16,251.88 97.38,256.85 97.59,251.97 97.81,257.13 98.03,251.80 98.25,257.12 98.47,251.08 98.69,256.74 98.91,252.21 99.13,257.51 99.35,251.56 99.57,256.38 99.79,252.36 100.01,256.07 100.23,252.88 100.45,255.15 100.67,253.40 100.89,255.07 101.11,253.85 101.33,254.96 101.54,253.90 101.76,254.84 101.98,253.99 102.20,255.03 102.42,253.71 102.64,254.93 102.86,253.58 103.08,255.68 103.30,252.64 103.52,256.78 103.74,252.36 103.96,258.11 104.18,250.30 104.40,257.63 104.62,250.37 104.84,258.66 105.06,250.37 105.28,260.22 105.49,249.99 105.71,259.43 105.93,251.36 106.15,258.61 106.37,251.13 106.59,257.25 106.81,252.25 107.03,256.02 107.25,253.28 107.47,255.82 107.69,253.65 107.91,255.21 108.13,253.86 108.35,254.87 108.57,253.78 108.79,255.04 109.01,253.91 109.23,254.98 109.44,253.78 109.66,254.95 109.88,253.73 110.10,254.96 110.32,253.83 110.54,255.07 110.76,253.73 110.98,255.21 111.20,252.98 111.42,256.15 111.64,253.20 111.86,256.44 112.08,252.06 112.30,256.84 112.52,252.01 112.74,256.93 112.96,251.43 113.18,256.75 113.40,251.20 113.61,256.69 113.83,252.41 114.05,257.70 114.27,252.49 114.49,256.34 114.71,252.77 114.93,255.85 115.15,252.95 115.37,256.52 115.59,252.66 115.81,255.77 116.03,253.44 116.25,255.92 116.47,253.19 116.69,255.83 116.91,253.22 117.13,255.30 117.35,253.48 117.56,255.88 117.78,253.28 118.00,255.52 118.22,252.99 118.44,255.76 118.66,252.97 118.88,256.39 119.10,252.71 119.32,256.61 119.54,253.12 119.76,255.80 119.98,252.57 120.20,255.74 120.42,252.92 120.64,255.54 120.86,253.36 121.08,255.67 121.30,253.51 121.51,255.42 121.73,253.36 121.95,255.17 122.17,253.54 122.39,255.44 122.61,253.44 122.83,256.07 123.05,252.64 123.27,256.09 123.49,252.47 123.71,255.98 123.93,252.29 124.15,257.10 124.37,252.79 124.59,256.68 124.81,252.25 125.03,255.87 125.25,253.03 125.46,255.52 125.68,253.15 125.90,255.38 126.12,253.66 126.34,255.15 126.56,253.72 126.78,255.38 127.00,253.60 127.22,255.17 127.44,253.58 127.66,255.35 127.88,253.08 128.10,255.51 128.32,253.35 128.54,255.76 128.76,252.99 128.98,256.30 129.20,251.63 129.41,256.88 129.63,250.74 129.85,258.33 130.07,252.03 130.29,257.74 130.51,251.60 130.73,257.29 130.95,252.81 131.17,256.31 131.39,253.12 131.61,255.41 131.83,253.46 132.05,255.65 132.27,253.47 132.49,255.28 132.71,253.27 132.93,255.57 133.15,253.13 133.37,255.22 133.58,252.79 133.80,255.94 134.02,252.50 134.24,256.39 134.46,252.15 134.68,256.78 134.90,252.20 135.12,256.02 135.34,252.12 135.56,255.87 135.78,252.64 136.00,255.98 136.22,252.93 136.44,256.20 136.66,252.71 136.88,255.94 137.10,253.19 137.32,255.59 137.53,253.66 137.75,255.21 137.97,253.42 138.19,255.20 138.41,253.59 138.63,255.37 138.85,253.67 139.07,255.53 139.29,253.25 139.51,255.24 139.73,253.23 139.95,256.09 140.17,253.10 140.39,255.58 140.61,252.97 140.83,256.33 141.05,252.89 141.27,255.89 141.48,252.80 141.70,256.80 141.92,251.86 142.14,255.95 142.36,252.39 142.58,256.54 142.80,252.94 143.02,256.80 143.24,252.10 143.46,256.70 143.68,252.26 143.90,257.02 144.12,251.64 144.34,256.48 144.56,252.38 144.78,257.41 145.00,252.16 145.22,256.41 145.43,251.98 145.65,256.34 145.87,252.68 146.09,255.94 146.31,253.05 146.53,255.49 146.75,253.28 146.97,255.32 147.19,253.52 147.41,255.25 147.63,253.87 147.85,255.36 148.07,253.46 148.29,255.08 148.51,253.25 148.73,255.71 148.95,253.06 149.17,255.75 149.38,252.67 149.60,255.88 149.82,252.57 150.04,256.54 150.26,252.16 150.48,256.39 150.70,252.12 150.92,256.57 151.14,252.33 151.36,256.08 151.58,253.08 151.80,255.52 152.02,252.80 152.24,255.99 152.46,253.23 152.68,255.78 152.90,252.03 153.12,256.69 153.33,251.78 153.55,256.39 153.77,252.23 153.99,256.75 154.21,252.36 154.43,255.87 154.65,252.59 154.87,256.19 155.09,253.10 155.31,255.92 155.53,253.09 155.75,255.06 155.97,253.64 156.19,255.16 156.41,253.77 156.63,255.21 156.85,253.84 157.07,255.20 157.29,253.77 157.50,255.34 157.72,253.72 157.94,255.64 158.16,252.94 158.38,255.91 158.60,252.86 158.82,256.31 159.04,252.56 159.26,256.71 159.48,251.48 159.70,257.50 159.92,251.33 160.14,258.16 160.36,251.93 160.58,257.64 160.80,251.31 161.02,256.52 161.24,252.85 161.45,256.64 161.67,252.45 161.89,255.98 162.11,252.53 162.33,255.64 162.55,252.81 162.77,255.92 162.99,253.07 163.21,256.09 163.43,253.25 163.65,255.75 163.87,252.86 164.09,256.36 164.31,252.66 164.53,255.47 164.75,252.95 164.97,255.37 165.19,253.36 165.40,255.66 165.62,253.63 165.84,255.01 166.06,253.50 166.28,254.97 166.50,253.70 166.72,254.99 166.94,253.48 167.16,255.33 167.38,253.30 167.60,255.26 167.82,253.14 168.04,256.43 168.26,252.58 168.48,256.34 168.70,250.83 168.92,257.33 169.14,250.49 169.35,257.60 169.57,251.34 169.79,258.16 170.01,250.61 170.23,258.04 170.45,250.97 170.67,256.77 170.89,252.21 171.11,255.87 171.33,252.72 171.55,255.44 171.77,253.70 171.99,255.08 172.21,253.84 172.43,255.07 172.65,253.94 172.87,254.92 173.09,253.93 173.30,255.03 173.52,253.89 173.74,254.95 173.96,253.74 174.18,255.15 174.40,253.17 174.62,255.85 174.84,252.36 175.06,256.22 175.28,250.96 175.50,258.05 175.72,249.09 175.94,260.36 176.16,250.87 176.38,259.60 176.60,250.41 176.82,259.06 177.04,251.55 177.26,257.51 177.47,251.61 177.69,256.42 177.91,253.03 178.13,255.82 178.35,253.13 178.57,255.15 178.79,253.82 179.01,255.04 179.23,253.79 179.45,254.99 179.67,253.58 179.89,254.98 180.11,253.84 180.33,255.00 180.55,253.46 180.77,255.35 180.99,253.16 181.21,255.98 181.42,252.96 181.64,255.79 181.86,252.01 182.08,256.08 182.30,252.49 182.52,255.99 182.74,252.06 182.96,256.23 183.18,252.02 183.40,256.30 183.62,252.18 183.84,255.97 184.06,252.54 184.28,255.50 184.50,253.17 184.72,255.50 184.94,253.33 185.16,255.28 185.37,253.53 185.59,255.62 185.81,253.69 186.03,255.34 186.25,253.19 186.47,255.41 186.69,253.31 186.91,255.67 187.13,253.29 187.35,255.72 187.57,252.36 187.79,256.58 188.01,252.47 188.23,256.87 188.45,251.02 188.67,256.63 188.89,251.29 189.11,257.56 189.32,252.03 189.54,256.06 189.76,252.61 189.98,256.23 190.20,252.92 190.42,255.81 190.64,253.36 190.86,255.07 191.08,253.77 191.30,255.38 191.52,253.55 191.74,255.45 191.96,253.32 192.18,255.45 192.40,253.27 192.62,255.77 192.84,253.33 193.06,255.75 193.27,252.65 193.49,256.18 193.71,252.88 193.93,256.19 194.15,252.76 194.37,256.97 194.59,252.60 194.81,256.85 195.03,252.55 195.25,256.22 195.47,252.68 195.69,256.57 195.91,251.57 196.13,257.30 196.35,252.07 196.57,257.05 196.79,252.16 197.01,256.79 197.22,252.99 197.44,255.69 197.66,253.27 197.88,255.74 198.10,253.17 198.32,255.40 198.54,253.42 198.76,254.91 198.98,253.85 199.20,254.94 199.42,253.76 199.64,255.10 199.86,253.60 200.08,255.18 200.30,253.25 200.52,255.86 200.74,252.54 200.96,255.85 201.18,251.76 201.39,256.35 201.61,252.11 201.83,257.45 202.05,252.45 202.27,256.65 202.49,252.38 202.71,255.95 202.93,253.04 203.15,255.79 203.37,252.86 203.59,255.44 203.81,253.31 204.03,255.98 204.25,253.19 204.47,255.46 204.69,252.81 204.91,255.85 205.13,253.16 205.34,256.15 205.56,253.25 205.78,255.93 206.00,252.05 206.22,256.44 206.44,252.75 206.66,256.13 206.88,251.44 207.10,256.62 207.32,251.51 207.54,256.34 207.76,252.17 207.98,256.04 208.20,252.31 208.42,256.19 208.64,252.70 208.86,255.56 209.08,253.22 209.29,255.09 209.51,253.52 209.73,255.28 209.95,253.56 210.17,255.03 210.39,253.87 210.61,255.23 210.83,253.43 211.05,255.35 211.27,253.55 211.49,255.52 211.71,253.27 211.93,256.25 212.15,252.53 212.37,256.38 212.59,252.14 212.81,257.09 213.03,251.67 213.24,255.94 213.46,252.86 213.68,256.97 213.90,252.67 214.12,256.37 214.34,252.92 214.56,256.12 214.78,252.84 215.00,255.53 215.22,253.01 215.44,255.28 215.66,253.50 215.88,255.68 216.10,252.71 216.32,256.31 216.54,253.19 216.76,256.04 216.98,252.81 217.19,257.11 217.41,252.16 217.63,256.62 217.85,251.99 218.07,256.67 218.29,252.08 218.51,255.98 218.73,252.99 218.95,255.79 219.17,253.31 219.39,255.94 219.61,253.55 219.83,255.58 220.05,253.61 220.27,255.50 220.49,253.73 220.71,255.30 220.93,253.40 221.15,255.09 221.36,253.34 221.58,255.52 221.80,252.98 222.02,255.59 222.24,253.04 222.46,255.43 222.68,252.78 222.90,256.27 223.12,252.69 223.34,256.11 223.56,252.74 223.78,255.61 224.00,252.61 224.22,255.48 224.44,252.98 224.66,256.14 224.88,252.71 225.10,255.69 225.31,253.04 225.53,256.00 225.75,252.94 225.97,255.64 226.19,253.06 226.41,256.13 226.63,252.95 226.85,255.86 227.07,253.29 227.29,255.42 227.51,252.65 227.73,256.12 227.95,252.93 228.17,256.08 228.39,252.60 228.61,256.09 228.83,252.96 229.05,255.86 229.26,251.94 229.48,257.09 229.70,252.64 229.92,257.22 230.14,252.69 230.36,257.21 230.58,252.21 230.80,256.43 231.02,252.00 231.24,256.33 231.46,252.85 231.68,256.06 231.90,253.19 232.12,255.40 232.34,253.16 232.56,255.57 232.78,253.40 233.00,255.18 233.21,253.28 233.43,255.41 233.65,253.71 233.87,255.32 234.09,253.50 234.31,255.04 234.53,253.40 234.75,255.12 234.97,253.28 235.19,255.60 235.41,252.89 235.63,255.64 235.85,252.69 236.07,256.58 236.29,252.72 236.51,256.61 236.73,251.10 236.95,258.68 237.16,250.67 237.38,259.61 237.60,249.06 237.82,258.13 238.04,251.06 238.26,257.84 238.48,251.53 238.70,257.07 238.92,252.98 239.14,256.11 239.36,253.31 239.58,255.21 239.80,253.67 240.02,254.98 240.24,253.83 240.46,255.13 240.68,253.81 240.90,255.24 241.12,253.57 241.33,255.21 241.55,253.47 241.77,255.61 241.99,252.98 242.21,255.77 242.43,253.14 242.65,256.42 242.87,252.51 243.09,256.99 243.31,251.58 243.53,256.52 243.75,252.29 243.97,257.25 244.19,251.93 244.41,256.71 244.63,252.84 244.85,256.51 245.07,252.77 245.28,255.79 245.50,253.30 245.72,255.73 245.94,253.10 246.16,255.39 246.38,253.25 246.60,255.48 246.82,253.56 247.04,255.48 247.26,253.61 247.48,255.47 247.70,253.25 247.92,255.82 248.14,252.85 248.36,255.94 248.58,253.25 248.80,255.74 249.02,252.48 249.23,256.66 249.45,253.00 249.67,256.57 249.89,252.61 250.11,256.27 250.33,253.25 250.55,255.80 250.77,252.68 250.99,255.42 251.21,253.38 251.43,255.52 251.65,253.23 251.87,255.29 252.09,253.44 252.31,255.84 252.53,253.33 252.75,255.83 252.97,252.76 253.18,256.22 253.40,251.44 253.62,256.55 253.84,251.42 254.06,256.69 254.28,251.00 254.50,257.31 254.72,252.50 254.94,256.46 255.16,252.69 255.38,255.38 255.60,253.04 255.82,255.19 256.04,253.54 256.26,254.91 256.48,253.80 256.70,254.94 256.92,253.74 257.13,254.95 257.35,253.85 257.57,255.12 257.79,253.66 258.01,255.98 258.23,253.03 258.45,256.65 258.67,252.22 258.89,257.51 259.11,251.70 259.33,256.71 259.55,251.99 259.77,256.97 259.99,252.46 260.21,256.84 260.43,252.92 260.65,256.12 260.87,252.81 261.08,256.16 261.30,253.18 261.52,255.88 261.74,253.23 261.96,255.65 262.18,252.97 262.40,255.67 262.62,252.74 262.84,256.10 263.06,253.03 263.28,256.16 263.50,253.11 263.72,255.80 263.94,252.35 264.16,255.88 264.38,252.32 264.60,255.71 264.82,252.83 265.04,255.66 265.25,252.71 265.47,256.00 265.69,253.14 265.91,255.52 266.13,252.70 266.35,255.86 266.57,253.03 266.79,255.81 267.01,253.53 267.23,255.30 267.45,253.06 267.67,255.37 267.89,253.23 268.11,255.61 268.33,253.19 268.55,255.63 268.77,253.20 268.99,255.30 269.20,253.11 269.42,255.79 269.64,253.07 269.86,256.34 270.08,252.57 270.30,256.20 270.52,251.69 270.74,256.69 270.96,250.35 271.18,257.01 271.40,251.33 271.62,257.54 271.84,251.95 272.06,257.09 272.28,251.99 272.50,255.93 272.72,253.06 272.94,255.89 273.15,253.29 273.37,255.70 273.59,253.71 273.81,255.46 274.03,253.79 274.25,254.95 274.47,253.66 274.69,255.33 274.91,253.58 275.13,255.07 275.35,253.47 275.57,255.37 275.79,253.62 276.01,255.60 276.23,252.88 276.45,256.05 276.67,253.00 276.89,255.88 277.10,252.69 277.32,256.36 277.54,252.90 277.76,256.05 277.98,252.77 278.20,256.67 278.42,252.19 278.64,256.92 278.86,252.67 279.08,256.20 279.30,251.95 279.52,256.07 279.74,252.44 279.96,255.85 280.18,252.37 280.40,255.75 280.62,252.37 280.84,255.93 281.05,252.58 281.27,256.24 281.49,253.08 281.71,255.71 281.93,253.36 282.15,255.68 282.37,253.21 282.59,255.61 282.81,253.56 283.03,255.26 283.25,253.55 283.47,255.37 283.69,253.64 283.91,255.37 284.13,253.53 284.35,255.42 284.57,253.32 284.79,255.27 285.00,253.10 285.22,255.56 285.44,252.77 285.66,255.96 285.88,252.39 286.10,256.33 286.32,252.82 286.54,256.62 286.76,252.61 286.98,257.34 287.20,251.26 287.42,256.43 287.64,251.28 287.86,257.02 288.08,251.55 288.30,257.13 288.52,252.34 288.74,256.99 288.96,252.98 289.17,256.67 289.39,252.91 289.61,256.08 289.83,253.45 290.05,255.60 290.27,253.67 290.49,255.31 290.71,253.63 290.93,255.16 291.15,253.74 291.37,254.86 291.59,253.93 291.81,255.16 292.03,253.49 292.25,255.53 292.47,253.12 292.69,256.24 292.91,252.80 293.12,256.45 293.34,252.36 293.56,258.28 293.78,251.32 294.00,258.76 294.22,250.15 294.44,258.64 294.66,250.99 294.88,256.63 295.10,251.41 295.32,256.97 295.54,253.13 295.76,256.13 295.98,253.20 296.20,255.53 296.42,253.36 296.64,255.31 296.86,253.68 297.07,255.22 297.29,253.83 297.51,255.16 297.73,253.55 297.95,255.10 298.17,253.11 298.39,255.82 298.61,253.09 298.83,255.70 299.05,253.17 299.27,256.60 299.49,253.00 299.71,255.78 299.93,252.67 300.15,256.79 300.37,253.02 300.59,255.77 300.81,252.83 301.02,256.06 301.24,252.50 301.46,255.77 301.68,252.95 301.90,256.16 302.12,253.19 302.34,255.58 302.56,252.78 302.78,255.91 303.00,252.75 303.22,255.93 303.44,252.99 303.66,255.36 303.88,253.42 304.10,255.49 304.32,252.89 304.54,255.60 304.76,253.40 304.97,256.17 305.19,253.07 305.41,255.49 305.63,252.63 305.85,256.20 306.07,252.93 306.29,255.74 306.51,252.35 306.73,255.78 306.95,252.23 307.17,256.38 307.39,251.92 307.61,256.24 307.83,251.93 308.05,256.53 308.27,252.64 308.49,256.50 308.71,252.70 308.93,256.00 309.14,253.05 309.36,255.95 309.58,253.08 309.80,255.58 310.02,253.54 310.24,255.75 310.46,253.51 310.68,255.66 310.90,253.61 311.12,255.07 311.34,253.18 311.56,255.48 311.78,253.21 312.00,255.43 312.22,253.58 312.44,255.85 312.66,252.74 312.88,255.77 313.09,253.26 313.31,255.81 313.53,252.35 313.75,255.59 313.97,252.83 314.19,255.77 314.41,252.42 314.63,256.45 314.85,252.64 315.07,256.42 315.29,252.07 315.51,256.04 315.73,252.46 315.95,256.72 316.17,252.93 316.39,256.62 316.61,252.77 316.83,255.90 317.04,253.10 317.26,255.86 317.48,252.99 317.70,255.42 317.92,253.36 318.14,255.10 318.36,253.54 318.58,255.11 318.80,253.88 319.02,255.08 319.24,253.67 319.46,255.06 319.68,253.60 319.90,255.32 320.12,253.38 320.34,255.34 320.56,253.35 320.78,255.96 320.99,252.23 321.21,257.08 321.43,251.86 321.65,257.15 321.87,251.14 322.09,257.14 322.31,250.48 322.53,257.55 322.75,251.54 322.97,258.28 323.19,251.73 323.41,257.53 323.63,251.84 323.85,257.73 324.07,251.72 324.29,256.03 324.51,252.17 324.73,255.82 324.94,252.87 325.16,255.77 325.38,253.21 325.60,255.46 325.82,253.59 326.04,255.18 326.26,253.94 326.48,255.03 326.70,253.75 326.92,255.17 327.14,253.76 327.36,254.98 327.58,253.48 327.80,255.40 328.02,253.09 328.24,255.52 328.46,253.04 328.68,256.58 328.89,251.71 329.11,257.15 329.33,251.98 329.55,257.36 329.77,251.14 329.99,257.45 330.21,251.60 330.43,256.50 330.65,252.03 330.87,255.92 331.09,252.51 331.31,255.43 331.53,253.52 331.75,255.29 331.97,253.31 332.19,255.60 332.41,253.62 332.63,255.39 332.85,253.68 333.06,255.37 333.28,253.16 333.50,255.73 333.72,253.00 333.94,255.72 334.16,253.40 334.38,255.99 334.60,252.68 334.82,255.84 335.04,252.37 335.26,256.23 335.48,252.73 335.70,255.59 335.92,253.25 336.14,255.99 336.36,252.81 336.58,256.06 336.80,252.71 337.01,256.27 337.23,252.63 337.45,255.80 337.67,252.84 337.89,256.09 338.11,252.72 338.33,256.84 338.55,252.79 338.77,256.07 338.99,252.28 339.21,256.09 339.43,252.72 339.65,256.19 339.87,252.48 340.09,256.19 340.31,253.01 340.53,255.95 340.75,253.29 340.96,255.32 341.18,253.25 341.40,255.71 341.62,253.57 341.84,255.65 342.06,253.38 342.28,255.93 342.50,252.52 342.72,256.23 342.94,252.57 343.16,256.15 343.38,252.46 343.60,256.14 343.82,252.95 344.04,255.63 344.26,253.32 344.48,255.72 344.70,253.60 344.91,255.40 345.13,253.49 345.35,255.42 345.57,253.35 345.79,255.44 346.01,253.30 346.23,256.37 346.45,252.92 346.67,256.37 346.89,252.41 347.11,256.78 347.33,251.16 347.55,257.28 347.77,251.72 347.99,258.20 348.21,251.51 348.43,257.31 348.65,252.00 348.86,256.22 349.08,252.34 349.30,255.47 349.52,253.16 349.74,255.24 349.96,253.18 350.18,255.46 350.40,253.28 350.62,255.66 350.84,253.06 351.06,255.78 351.28,253.03 351.50,255.99 351.72,252.74 351.94,256.07 352.16,253.01 352.38,256.01 352.60,252.93 352.82,256.07 353.03,252.78 353.25,255.51 353.47,253.32 353.69,255.47 353.91,253.71 354.13,255.37 354.35,253.75 354.57,255.05 354.79,253.64 355.01,255.26 355.23,253.67 355.45,255.32 355.67,253.54 355.89,255.33 356.11,253.01 356.33,256.02 356.55,252.02 356.77,256.30 356.98,252.03 357.20,257.10 357.42,250.56 357.64,258.39 357.86,249.56 358.08,257.49 358.30,250.85 358.52,257.42 358.74,252.00 358.96,255.86 359.18,252.85 359.40,255.61 359.62,253.45 359.84,255.10 360.06,253.72 360.28,254.99 360.50,253.70 360.72,255.18 360.93,253.80 361.15,255.36 361.37,253.63 361.59,255.30 361.81,252.72 362.03,255.94 362.25,252.72 362.47,256.64 362.69,250.55 362.91,256.96 363.13,251.25 363.35,258.57 363.57,252.16 363.79,257.80 364.01,252.41 364.23,256.74 364.45,253.08 364.67,255.53 364.88,253.17 365.10,255.43 365.32,253.34 365.54,255.46 365.76,253.64 365.98,255.47 366.20,253.12 366.42,255.59 366.64,253.21 366.86,255.60 367.08,253.42 367.30,255.59 367.52,252.90 367.74,255.76 367.96,252.89 368.18,255.99 368.40,252.27 368.62,256.48 368.83,252.76 369.05,256.87 369.27,252.26 369.49,256.19 369.71,252.23 369.93,256.83 370.15,252.42 370.37,256.06 370.59,253.23 370.81,255.78 371.03,252.84 371.25,255.25 371.47,253.19 371.69,255.21 371.91,253.43 372.13,255.38 372.35,253.43 372.57,255.32 372.79,253.46 373.00,255.34 373.22,253.17 373.44,255.76 373.66,252.79 373.88,255.91 374.10,252.90 374.32,256.15 374.54,252.44 374.76,256.99 374.98,251.29 375.20,257.97 375.42,251.48 375.64,258.21 375.86,251.65 376.08,257.94 376.30,251.19 376.52,257.05 376.74,251.66 376.95,257.12 377.17,251.50 377.39,258.26 377.61,251.12 377.83,258.59 378.05,250.09 378.27,259.65 378.49,248.48 378.71,261.39 378.93,246.09 379.15,264.03 379.37,243.20 379.59,266.59 379.81,238.60 380.03,272.00 380.25,234.54 380.47,274.28 380.69,233.41 380.90,272.61 381.12,234.89 381.34,273.37 381.56,236.43 381.78,270.50 382.00,238.55 382.22,270.41 382.44,239.09 382.66,270.89 382.88,238.19 383.10,269.63 383.32,240.64 383.54,267.79 383.76,241.69 383.98,267.07 384.20,241.94 384.42,264.45 384.64,243.86 384.85,264.83 385.07,244.42 385.29,263.35 385.51,246.33 385.73,263.12 385.95,246.75 386.17,261.82 386.39,246.48 386.61,261.87 386.83,247.39 387.05,261.88 387.27,247.53 387.49,260.97 387.71,248.06 387.93,260.73 388.15,248.71 388.37,260.49 388.59,248.75 388.80,259.43 389.02,249.15 389.24,259.00 389.46,250.18 389.68,258.45 389.90,250.10 390.12,258.41 390.34,250.32 390.56,258.55 390.78,250.39 391.00,258.23 391.22,250.07 391.44,258.45 391.66,250.36 391.88,259.30 392.10,248.76 392.32,259.47 392.54,249.42 392.75,259.70 392.97,249.31 393.19,259.77 393.41,247.82 393.63,260.68 393.85,249.27 394.07,258.36 394.29,250.37 394.51,258.56 394.73,250.70 394.95,257.54 395.17,251.92 395.39,257.05 395.61,252.21 395.83,256.49 396.05,252.37 396.27,256.59 396.49,252.65 396.71,256.17 396.92,252.49 397.14,255.85 397.36,252.82 397.58,255.82 397.80,252.77 398.02,255.71 398.24,252.82 398.46,256.10 398.68,253.10 398.90,255.64 399.12,252.96 399.34,255.76 399.56,253.08 399.78,255.82 400.00,252.63 400.22,256.12 400.44,252.20 400.66,256.50 400.87,252.16 401.09,256.55 401.31,251.73 401.53,256.88 401.75,251.10 401.97,257.24 402.19,250.40 402.41,257.33 402.63,251.86 402.85,258.21 403.07,251.76 403.29,256.96 403.51,252.41 403.73,256.86 403.95,252.43 404.17,255.63 404.39,253.24 404.61,255.80 404.82,252.91 405.04,255.76 405.26,252.93 405.48,255.70 405.70,252.98 405.92,255.73 406.14,252.76 406.36,256.01 406.58,253.01 406.80,256.25 407.02,252.44 407.24,255.76 407.46,253.11 407.68,255.58 407.90,252.72 408.12,256.06 408.34,253.31 408.56,256.04 408.77,252.87 408.99,255.56 409.21,252.95 409.43,255.66 409.65,253.38 409.87,255.73 410.09,253.01 410.31,255.81 410.53,252.71 410.75,256.10 410.97,252.67 411.19,256.26 411.41,252.55 411.63,255.72 411.85,252.37 412.07,256.09 412.29,253.18 412.51,255.58 412.72,252.67 412.94,256.02 413.16,253.06 413.38,256.01 413.60,253.30 413.82,256.13 414.04,253.13 414.26,255.93 414.48,252.96 414.70,256.05 414.92,253.05 415.14,255.69 415.36,253.16 415.58,255.95 415.80,252.83 416.02,255.93 416.24,252.49 416.46,256.57 416.68,252.95 416.89,255.77 417.11,252.49 417.33,256.53 417.55,252.53 417.77,255.62 417.99,253.24 418.21,255.72 418.43,253.52 418.65,255.40 418.87,253.45 419.09,255.51 419.31,253.46 419.53,255.39 419.75,253.56 419.97,255.31 420.19,253.61 420.41,255.74 420.63,253.29 420.84,255.66 421.06,252.30 421.28,256.44 421.50,251.62 421.72,256.49 421.94,251.10 422.16,256.64 422.38,250.73 422.60,256.85 422.82,251.47 423.04,257.31 423.26,252.16 423.48,256.69 423.70,252.63 423.92,255.85 424.14,252.93 424.36,255.43 424.58,253.25 424.79,255.47 425.01,253.53 425.23,255.16 425.45,253.41 425.67,255.43 425.89,253.18 426.11,255.60 426.33,252.85 426.55,255.82 426.77,252.57 426.99,255.93 427.21,253.01 427.43,256.22 427.65,253.31 427.87,255.59 428.09,252.88 428.31,255.89 428.53,253.32 428.74,255.60 428.96,253.37 429.18,255.41 429.40,253.03 429.62,255.44 429.84,252.82 430.06,256.48 430.28,252.45 430.50,257.55 430.72,251.71 430.94,257.67 431.16,251.34 431.38,258.02 431.60,249.59 431.82,258.08 432.04,251.18 432.26,257.28 432.48,252.31 432.69,256.24 432.91,252.90 433.13,255.27 433.35,253.57 433.57,254.98 433.79,253.97 434.01,255.00 434.23,253.75 434.45,255.02 434.67,253.86 434.89,254.91 435.11,253.52 435.33,255.25 435.55,253.20 435.77,255.47 435.99,252.86 436.21,256.33 436.43,252.24 436.64,256.34 436.86,251.44 437.08,257.23 437.30,252.20 437.52,256.62 437.74,251.27 437.96,256.68 438.18,252.04 438.40,257.13 438.62,252.15 438.84,256.54 439.06,252.02 439.28,256.65 439.50,252.21 439.72,257.11 439.94,252.73 440.16,256.40 440.38,252.23 440.60,256.16 440.81,253.29 441.03,255.38 441.25,253.03 441.47,255.52 441.69,253.46 441.91,255.10 442.13,253.77 442.35,254.99 442.57,253.88 442.79,255.02 443.01,253.95 443.23,254.92 443.45,253.77 443.67,255.03 443.89,253.80 444.11,255.01 444.33,253.40 444.55,255.81 444.76,252.94 444.98,256.37 445.20,252.38 445.42,256.79 445.64,251.54 445.86,257.53 446.08,251.39 446.30,257.70 446.52,251.64 446.74,256.33 446.96,252.54 447.18,256.60 447.40,252.91 447.62,255.69 447.84,252.86 448.06,255.63 448.28,253.44 448.50,255.85 448.71,253.27 448.93,255.78 449.15,253.08 449.37,255.45 449.59,253.45 449.81,255.47 450.03,252.79 450.25,256.02 450.47,252.86 450.69,256.42 450.91,252.14 451.13,256.54 451.35,252.56 451.57,257.45 451.79,251.87 452.01,257.21 452.23,252.46 452.45,256.63 452.66,252.59 452.88,255.86 453.10,252.36 453.32,255.50 453.54,252.95 453.76,255.43 453.98,253.11 454.20,255.45 454.42,253.66 454.64,255.19 454.86,253.54 455.08,255.56 455.30,253.44 455.52,255.78 455.74,253.38 455.96,255.93 456.18,253.33 456.40,256.12 456.61,252.70 456.83,256.67 457.05,252.86 457.27,256.14 457.49,252.05 457.71,255.93 457.93,252.66 458.15,257.06 458.37,251.87 458.59,256.63 458.81,252.03 459.03,256.30 459.25,252.67 459.47,255.82 459.69,252.13 459.91,255.91 460.13,252.79 460.35,255.87 460.56,253.04 460.78,255.33 461.00,253.26 461.22,255.24 461.44,253.53 461.66,255.37 461.88,253.26 462.10,255.27 462.32,253.51 462.54,255.64 462.76,253.52 462.98,255.70 463.20,252.50 463.42,256.07 463.64,252.99 463.86,256.10 464.08,252.75 464.30,256.68 464.52,251.87 464.73,256.28 464.95,251.69 465.17,256.47 465.39,252.64 465.61,256.87 465.83,252.60 466.05,257.03 466.27,251.94 466.49,256.64 466.71,252.20 466.93,256.13 467.15,252.42 467.37,256.06 467.59,253.15 467.81,255.37 468.03,253.60 468.25,255.32 468.47,253.48 468.68,255.05 468.90,253.76 469.12,254.97 469.34,253.82 469.56,255.11 469.78,253.35 470.00,255.47 470.22,253.11 470.44,256.36 470.66,252.25 470.88,257.30 471.10,250.69 471.32,258.16 471.54,250.71 471.76,257.21 471.98,251.55 472.20,258.54 472.42,251.98 472.63,257.30 472.85,252.51 473.07,256.74 473.29,252.61 473.51,255.54 473.73,253.14 473.95,255.35 474.17,253.68 474.39,255.13 474.61,253.56 474.83,254.92 475.05,253.64 475.27,254.88 475.49,253.85 475.71,255.00 475.93,253.54 476.15,255.64 476.37,253.50 476.58,255.51 476.80,252.84 477.02,255.86 477.24,252.39 477.46,256.27 477.68,252.74 477.90,256.54 478.12,252.52 478.34,257.32 478.56,252.36 478.78,256.35 479.00,252.90 479.22,256.34 479.44,253.12 479.66,256.10 479.88,252.65 480.10,255.96 480.32,252.81 480.53,255.73 480.75,253.33 480.97,255.94 481.19,253.05 481.41,256.16 481.63,252.66 481.85,255.78 482.07,252.37 482.29,256.47 482.51,252.28 482.73,256.80 482.95,252.01 483.17,256.59 483.39,252.19 483.61,256.17 483.83,252.26 484.05,256.27 484.27,252.97 484.49,255.70 484.70,253.07 484.92,255.42 485.14,253.29 485.36,255.15 485.58,253.76 485.80,254.99 486.02,253.62 486.24,255.12 486.46,253.47 486.68,255.13 486.90,253.15 487.12,255.53 487.34,252.62 487.56,256.63 487.78,252.07 488.00,257.50 488.22,251.30 488.44,258.11 488.65,250.13 488.87,256.82 489.09,250.84 489.31,257.44 489.53,251.71 489.75,255.98 489.97,253.22 490.19,255.56 490.41,253.34 490.63,255.25 490.85,253.66 491.07,255.06 491.29,253.61 491.51,255.07 491.73,253.32 491.95,255.63 492.17,252.92 492.39,255.83 492.60,252.87 492.82,256.66 493.04,251.37 493.26,256.96 493.48,251.22 493.70,256.64 493.92,252.41 494.14,256.65 494.36,252.26 494.58,256.30 494.80,253.13 495.02,255.34 495.24,253.26 495.46,255.31 495.68,253.72 495.90,255.12 496.12,253.80 496.34,255.19 496.55,253.70 496.77,255.24 496.99,253.33 497.21,255.58 497.43,253.13 497.65,255.84 497.87,252.53 498.09,256.10 498.31,252.20 498.53,257.34 498.75,251.77 498.97,257.39 499.19,250.70 499.41,257.91 499.63,250.97 499.85,256.66 500.07,251.70 500.29,256.16 500.50,252.84 500.72,256.40 500.94,252.77 501.16,255.63 501.38,253.27 501.60,255.55 501.82,253.73 502.04,255.22 502.26,253.66 502.48,255.01 502.70,253.62 502.92,255.26 503.14,253.66 503.36,255.33 503.58,253.34 503.80,255.61 504.02,253.00 504.24,255.78 504.45,252.75 504.67,256.14 504.89,252.92 505.11,257.02 505.33,251.27 505.55,257.80 505.77,250.81 505.99,258.03 506.21,251.81 506.43,256.34 506.65,252.49 506.87,255.96 507.09,252.79 507.31,255.79 507.53,253.29 507.75,255.66 507.97,253.28 508.19,255.41 508.41,253.37 508.62,255.28 508.84,253.73 509.06,255.12 509.28,253.60 509.50,255.40 509.72,253.53 509.94,255.84 510.16,253.30 510.38,256.06 510.60,252.52 510.82,256.40 511.04,251.91 511.26,256.90 511.48,251.53 511.70,257.68 511.92,251.97 512.14,257.27 512.36,251.89 512.57,256.46 512.79,251.97 513.01,257.08 513.23,252.34 513.45,256.27 513.67,252.48 513.89,255.67 514.11,253.04 514.33,255.44 514.55,253.54 514.77,255.56 514.99,253.41 515.21,255.13 515.43,253.63 515.65,255.29 515.87,253.25 516.09,255.52 516.31,253.42 516.52,256.29 516.74,252.33 516.96,256.20 517.18,251.34 517.40,257.12 517.62,252.31 517.84,257.15 518.06,252.15 518.28,257.28 518.50,251.96 518.72,256.14 518.94,253.18 519.16,255.90 519.38,253.47 519.60,255.07 519.82,253.56 520.04,255.15 520.26,253.92 520.47,254.92 520.69,253.96 520.91,254.87 521.13,253.55 521.35,255.38 521.57,253.22 521.79,255.50 522.01,253.21 522.23,256.49 522.45,252.69 522.67,257.24 522.89,251.76 523.11,256.95 523.33,252.52 523.55,256.80 523.77,252.33 523.99,256.93 524.21,252.11 524.42,256.43 524.64,252.51 524.86,256.28 525.08,252.57 525.30,256.01 525.52,253.29 525.74,255.49 525.96,252.84 526.18,255.67" fill="none" stroke="rgb(4,158,134)" stroke-width="1.2" stroke-linejoin="round"/>
<polyline points="87.50,323.83 87.72,331.41 87.94,323.75 88.16,330.99 88.38,323.94 88.60,332.80 88.82,322.69 89.04,332.34 89.26,323.03 89.48,332.56 89.69,324.50 89.91,330.98 90.13,324.82 90.35,330.92 90.57,323.90 90.79,333.05 91.01,322.91 91.23,332.40 91.45,321.66 91.67,332.29 91.89,322.75 92.11,332.02 92.33,323.73 92.55,331.84 92.77,324.02 92.99,332.34 93.21,323.75 93.43,332.49 93.64,323.27 93.86,332.47 94.08,323.12 94.30,332.27 94.52,322.58 94.74,332.00 94.96,321.97 95.18,331.83 95.40,321.26 95.62,332.50 95.84,321.81 96.06,333.30 96.28,322.36 96.50,333.76 96.72,322.02 96.94,334.77 97.16,320.19 97.38,335.74 97.59,318.54 97.81,337.46 98.03,318.29 98.25,337.57 98.47,317.54 98.69,333.16 98.91,320.86 99.13,333.13 99.35,320.30 99.57,336.94 99.79,315.06 100.01,336.31 100.23,314.90 100.45,335.94 100.67,316.20 100.89,334.75 101.11,316.21 101.33,335.01 101.54,316.59 101.76,335.63 101.98,318.07 102.20,335.44 102.42,317.85 102.64,335.56 102.86,317.39 103.08,335.23 103.30,316.84 103.52,334.32 103.74,317.66 103.96,333.53 104.18,316.82 104.40,333.85 104.62,316.02 104.84,335.08 105.06,315.41 105.28,335.27 105.49,316.47 105.71,335.51 105.93,316.46 106.15,334.93 106.37,316.61 106.59,330.93 106.81,321.32 107.03,330.59 107.25,321.21 107.47,331.49 107.69,318.60 107.91,334.32 108.13,317.56 108.35,335.69 108.57,314.20 108.79,338.84 109.01,313.02 109.23,340.26 109.44,311.63 109.66,345.77 109.88,307.27 110.10,349.91 110.32,307.25 110.54,345.24 110.76,311.23 110.98,344.07 111.20,311.79 111.42,342.53 111.64,313.31 111.86,338.94 112.08,313.68 112.30,337.74 112.52,319.40 112.74,332.65 112.96,320.23 113.18,332.01 113.40,321.55 113.61,332.91 113.83,321.71 114.05,332.05 114.27,323.13 114.49,331.54 114.71,322.93 114.93,332.98 115.15,323.37 115.37,332.51 115.59,322.18 115.81,332.17 116.03,321.24 116.25,332.34 116.47,322.37 116.69,332.22 116.91,323.88 117.13,333.00 117.35,323.94 117.56,333.56 117.78,323.82 118.00,335.41 118.22,323.28 118.44,336.80 118.66,322.29 118.88,338.46 119.10,321.62 119.32,339.04 119.54,319.61 119.76,341.31 119.98,319.00 120.20,341.42 120.42,319.06 120.64,343.15 120.86,318.56 121.08,342.00 121.30,318.87 121.51,340.78 121.73,319.61 121.95,339.30 122.17,320.09 122.39,337.75 122.61,323.50 122.83,331.69 123.05,323.86 123.27,330.69 123.49,324.18 123.71,331.42 123.93,323.84 124.15,330.98 124.37,324.30 124.59,330.13 124.81,324.97 125.03,329.79 125.25,325.13 125.46,330.33 125.68,325.13 125.90,330.67 126.12,325.02 126.34,331.15 126.56,324.93 126.78,332.15 127.00,324.33 127.22,333.08 127.44,323.69 127.66,339.05 127.88,320.38 128.10,340.16 128.32,317.55 128.54,340.93 128.76,313.94 128.98,340.77 129.20,312.30 129.41,340.60 129.63,312.48 129.85,339.40 130.07,314.02 130.29,338.81 130.51,317.01 130.73,338.25 130.95,320.19 131.17,337.33 131.39,321.24 131.61,332.31 131.83,323.88 132.05,332.00 132.27,324.15 132.49,331.84 132.71,321.58 132.93,336.93 133.15,319.89 133.37,338.69 133.58,317.97 133.80,340.25 134.02,314.77 134.24,339.86 134.46,310.42 134.68,334.19 134.90,317.25 135.12,333.65 135.34,317.52 135.56,337.51 135.78,311.72 136.00,336.12 136.22,314.72 136.44,334.40 136.66,317.28 136.88,332.82 137.10,318.94 137.32,333.75 137.53,319.89 137.75,335.07 137.97,318.32 138.19,336.22 138.41,317.38 138.63,338.56 138.85,315.58 139.07,341.22 139.29,315.84 139.51,339.22 139.73,317.41 139.95,337.95 140.17,318.05 140.39,337.18 140.61,319.79 140.83,336.43 141.05,320.80 141.27,335.07 141.48,319.82 141.70,331.26 141.92,322.32 142.14,330.92 142.36,322.26 142.58,335.49 142.80,318.31 143.02,336.52 143.24,318.48 143.46,335.87 143.68,318.43 143.90,335.83 144.12,319.70 144.34,335.07 144.56,320.39 144.78,333.37 145.00,321.43 145.22,332.61 145.43,322.60 145.65,330.70 145.87,323.06 146.09,331.45 146.31,322.26 146.53,332.22 146.75,321.42 146.97,332.97 147.19,320.62 147.41,334.26 147.63,321.24 147.85,333.94 148.07,320.74 148.29,334.72 148.51,316.34 148.73,340.35 148.95,317.14 149.17,340.12 149.38,317.71 149.60,334.20 149.82,321.90 150.04,333.49 150.26,322.33 150.48,332.41 150.70,321.87 150.92,332.78 151.14,322.91 151.36,331.86 151.58,323.00 151.80,332.45 152.02,321.55 152.24,332.13 152.46,320.16 152.68,330.47 152.90,321.71 153.12,331.17 153.33,321.11 153.55,333.67 153.77,319.34 153.99,334.96 154.21,320.03 154.43,335.44 154.65,320.32 154.87,336.22 155.09,320.99 155.31,335.93 155.53,324.18 155.75,330.70 155.97,324.33 156.19,330.47 156.41,324.52 156.63,332.57 156.85,323.29 157.07,332.70 157.29,322.56 157.50,331.20 157.72,323.64 157.94,332.18 158.16,322.90 158.38,332.97 158.60,318.20 158.82,339.85 159.04,315.13 159.26,340.52 159.48,311.56 159.70,343.28 159.92,310.84 160.14,342.60 160.36,311.69 160.58,339.33 160.80,315.05 161.02,339.32 161.24,316.75 161.45,337.40 161.67,317.21 161.89,336.64 162.11,318.77 162.33,335.11 162.55,320.58 162.77,334.91 162.99,321.34 163.21,333.93 163.43,322.04 163.65,333.37 163.87,322.80 164.09,334.09 164.31,321.61 164.53,335.03 164.75,318.94 164.97,335.03 165.19,317.98 165.40,334.84 165.62,317.74 165.84,334.28 166.06,317.67 166.28,333.36 166.50,318.48 166.72,332.95 166.94,319.57 167.16,334.00 167.38,319.33 167.60,334.87 167.82,319.16 168.04,334.42 168.26,319.48 168.48,334.62 168.70,322.91 168.92,331.50 169.14,323.56 169.35,331.39 169.57,323.81 169.79,331.34 170.01,323.93 170.23,331.05 170.45,323.41 170.67,331.92 170.89,322.61 171.11,333.21 171.33,321.80 171.55,337.35 171.77,319.46 171.99,337.99 172.21,318.67 172.43,338.09 172.65,317.66 172.87,338.59 173.09,317.49 173.30,338.05 173.52,319.49 173.74,334.80 173.96,320.66 174.18,333.69 174.40,321.56 174.62,333.97 174.84,321.40 175.06,333.39 175.28,322.72 175.50,332.69 175.72,323.74 175.94,330.57 176.16,323.45 176.38,330.68 176.60,322.94 176.82,330.94 177.04,322.43 177.26,330.97 177.47,321.98 177.69,333.20 177.91,320.96 178.13,334.04 178.35,321.57 178.57,334.78 178.79,322.50 179.01,333.86 179.23,323.38 179.45,333.00 179.67,323.76 179.89,332.62 180.11,323.25 180.33,332.24 180.55,322.62 180.77,331.77 180.99,321.89 181.21,332.16 181.42,321.38 181.64,332.05 181.86,321.92 182.08,332.88 182.30,321.64 182.52,332.73 182.74,321.06 182.96,333.23 183.18,320.24 183.40,333.37 183.62,317.41 183.84,336.44 184.06,315.72 184.28,338.15 184.50,314.13 184.72,339.53 184.94,315.25 185.16,338.74 185.37,316.62 185.59,338.13 185.81,318.74 186.03,336.27 186.25,320.56 186.47,334.97 186.69,324.33 186.91,330.45 187.13,324.67 187.35,329.79 187.57,323.53 187.79,331.88 188.01,324.15 188.23,331.97 188.45,323.66 188.67,332.64 188.89,322.59 189.11,332.69 189.32,321.81 189.54,332.07 189.76,321.42 189.98,331.67 190.20,320.38 190.42,332.27 190.64,320.03 190.86,332.56 191.08,319.16 191.30,333.25 191.52,318.79 191.74,334.86 191.96,318.51 192.18,336.07 192.40,319.46 192.62,336.99 192.84,319.84 193.06,337.07 193.27,320.69 193.49,336.17 193.71,324.04 193.93,331.35 194.15,323.80 194.37,332.07 194.59,319.84 194.81,336.94 195.03,317.90 195.25,338.50 195.47,315.95 195.69,341.18 195.91,312.96 196.13,342.71 196.35,312.78 196.57,334.69 196.79,319.45 197.01,333.83 197.22,320.33 197.44,332.51 197.66,317.85 197.88,335.06 198.10,320.14 198.32,334.30 198.54,321.28 198.76,333.79 198.98,321.86 199.20,333.60 199.42,321.74 199.64,334.41 199.86,320.87 200.08,335.63 200.30,320.92 200.52,333.58 200.74,322.97 200.96,334.29 201.18,323.39 201.39,335.37 201.61,322.47 201.83,338.89 202.05,323.23 202.27,336.68 202.49,323.30 202.71,331.96 202.93,324.73 203.15,331.37 203.37,324.69 203.59,330.37 203.81,324.60 204.03,330.94 204.25,324.12 204.47,331.75 204.69,323.69 204.91,332.10 205.13,323.29 205.34,332.63 205.56,318.57 205.78,337.46 206.00,317.04 206.22,336.37 206.44,316.35 206.66,335.86 206.88,317.11 207.10,335.18 207.32,317.64 207.54,331.12 207.76,322.54 207.98,330.70 208.20,323.62 208.42,330.25 208.64,322.72 208.86,332.50 209.08,322.92 209.29,332.33 209.51,323.17 209.73,331.66 209.95,323.33 210.17,331.51 210.39,323.00 210.61,332.45 210.83,322.39 211.05,333.07 211.27,322.21 211.49,333.37 211.71,320.42 211.93,335.59 212.15,316.89 212.37,337.95 212.59,312.94 212.81,341.07 213.03,310.59 213.24,344.32 213.46,309.46 213.68,344.16 213.90,311.67 214.12,343.75 214.34,312.89 214.56,335.55 214.78,320.09 215.00,334.89 215.22,321.04 215.44,333.65 215.66,318.06 215.88,337.30 216.10,318.51 216.32,337.16 216.54,320.37 216.76,334.87 216.98,319.61 217.19,334.32 217.41,318.62 217.63,332.66 217.85,319.17 218.07,332.14 218.29,318.68 218.51,333.63 218.73,316.62 218.95,332.70 219.17,319.65 219.39,332.17 219.61,323.27 219.83,331.00 220.05,322.86 220.27,332.50 220.49,322.48 220.71,335.01 220.93,320.19 221.15,336.33 221.36,319.06 221.58,341.33 221.80,315.81 222.02,342.53 222.24,314.81 222.46,340.72 222.68,314.00 222.90,339.67 223.12,315.07 223.34,338.32 223.56,320.18 223.78,332.80 224.00,321.58 224.22,332.01 224.44,322.86 224.66,332.68 224.88,322.57 225.10,332.05 225.31,322.90 225.53,333.48 225.75,320.83 225.97,334.66 226.19,319.41 226.41,334.93 226.63,318.69 226.85,335.04 227.07,319.38 227.29,334.10 227.51,322.44 227.73,331.73 227.95,322.92 228.17,332.69 228.39,323.35 228.61,334.56 228.83,321.36 229.05,335.61 229.26,319.01 229.48,336.72 229.70,314.96 229.92,338.46 230.14,313.98 230.36,338.00 230.58,313.39 230.80,336.66 231.02,315.26 231.24,336.20 231.46,316.03 231.68,333.42 231.90,319.71 232.12,332.66 232.34,321.93 232.56,332.75 232.78,321.60 233.00,331.80 233.21,321.77 233.43,332.36 233.65,321.47 233.87,333.52 234.09,321.13 234.31,334.29 234.53,319.40 234.75,335.62 234.97,318.25 235.19,336.68 235.41,316.12 235.63,335.98 235.85,318.11 236.07,336.65 236.29,317.77 236.51,340.98 236.73,313.16 236.95,343.49 237.16,310.64 237.38,344.55 237.60,306.35 237.82,345.36 238.04,307.21 238.26,344.23 238.48,308.16 238.70,336.86 238.92,317.63 239.14,335.70 239.36,318.98 239.58,338.82 239.80,316.72 240.02,337.67 240.24,317.37 240.46,336.46 240.68,319.98 240.90,333.91 241.12,322.12 241.33,332.80 241.55,324.70 241.77,330.91 241.99,323.95 242.21,331.77 242.43,323.17 242.65,337.89 242.87,319.65 243.09,338.76 243.31,319.94 243.53,339.97 243.75,320.20 243.97,337.60 244.19,320.89 244.41,335.76 244.63,322.31 244.85,330.74 245.07,324.66 245.28,329.00 245.50,324.78 245.72,328.92 245.94,324.74 246.16,329.18 246.38,324.58 246.60,329.88 246.82,323.99 247.04,330.47 247.26,323.42 247.48,331.12 247.70,324.55 247.92,329.63 248.14,324.32 248.36,330.05 248.58,322.72 248.80,331.85 249.02,322.26 249.23,332.19 249.45,321.79 249.67,333.45 249.89,320.70 250.11,334.06 250.33,319.88 250.55,332.24 250.77,321.48 250.99,332.18 251.21,320.86 251.43,332.55 251.65,317.74 251.87,335.24 252.09,317.17 252.31,335.54 252.53,320.16 252.75,333.77 252.97,321.19 253.18,334.23 253.40,320.56 253.62,337.23 253.84,317.54 254.06,337.35 254.28,316.92 254.50,336.47 254.72,316.45 254.94,335.34 255.16,317.29 255.38,334.72 255.60,318.00 255.82,334.92 256.04,319.60 256.26,334.32 256.48,320.79 256.70,331.75 256.92,322.84 257.13,331.46 257.35,323.23 257.57,332.95 257.79,321.64 258.01,333.95 258.23,321.12 258.45,335.43 258.67,322.83 258.89,332.97 259.11,322.22 259.33,334.08 259.55,319.74 259.77,336.58 259.99,317.54 260.21,337.28 260.43,315.01 260.65,336.57 260.87,316.19 261.08,337.81 261.30,314.72 261.52,347.92 261.74,303.54 261.96,348.12 262.18,303.19 262.40,346.59 262.62,305.72 262.84,345.30 263.06,306.90 263.28,344.01 263.50,311.36 263.72,340.82 263.94,315.91 264.16,339.40 264.38,317.01 264.60,337.12 264.82,317.48 265.04,335.18 265.25,318.74 265.47,334.03 265.69,321.38 265.91,332.27 266.13,322.39 266.35,331.70 266.57,323.11 266.79,330.92 267.01,323.28 267.23,330.85 267.45,323.40 267.67,331.96 267.89,322.95 268.11,331.66 268.33,323.65 268.55,332.37 268.77,324.00 268.99,332.34 269.20,323.27 269.42,333.90 269.64,321.14 269.86,335.20 270.08,318.92 270.30,336.38 270.52,317.29 270.74,338.08 270.96,315.32 271.18,339.46 271.40,313.46 271.62,341.98 271.84,312.62 272.06,342.37 272.28,312.93 272.50,342.84 272.72,314.25 272.94,341.70 273.15,316.06 273.37,341.21 273.59,319.75 273.81,336.36 274.03,321.36 274.25,334.48 274.47,322.51 274.69,335.06 274.91,321.15 275.13,333.77 275.35,321.08 275.57,330.16 275.79,322.81 276.01,331.07 276.23,322.16 276.45,332.16 276.67,317.82 276.89,336.55 277.10,315.94 277.32,338.05 277.54,310.58 277.76,339.93 277.98,311.70 278.20,338.77 278.42,312.68 278.64,337.77 278.86,314.80 279.08,336.48 279.30,315.62 279.52,332.03 279.74,320.31 279.96,332.21 280.18,319.39 280.40,332.87 280.62,312.20 280.84,336.75 281.05,314.32 281.27,334.92 281.49,317.12 281.71,332.17 281.93,321.06 282.15,331.49 282.37,323.38 282.59,330.48 282.81,324.22 283.03,331.14 283.25,324.54 283.47,331.32 283.69,323.50 283.91,333.42 284.13,322.01 284.35,334.40 284.57,321.78 284.79,334.30 285.00,320.32 285.22,335.47 285.44,319.11 285.66,338.36 285.88,317.11 286.10,337.83 286.32,317.61 286.54,336.86 286.76,318.82 286.98,335.75 287.20,320.55 287.42,334.37 287.64,322.84 287.86,332.63 288.08,322.69 288.30,332.66 288.52,320.88 288.74,334.39 288.96,320.07 289.17,334.69 289.39,319.88 289.61,330.47 289.83,323.43 290.05,330.04 290.27,323.40 290.49,329.79 290.71,319.91 290.93,334.09 291.15,320.81 291.37,335.47 291.59,322.72 291.81,334.28 292.03,322.99 292.25,334.86 292.47,322.04 292.69,337.95 292.91,319.32 293.12,338.38 293.34,318.01 293.56,337.28 293.78,317.60 294.00,335.52 294.22,317.93 294.44,337.11 294.66,322.00 294.88,334.87 295.10,322.17 295.32,335.90 295.54,317.27 295.76,342.71 295.98,314.50 296.20,342.44 296.42,312.96 296.64,342.56 296.86,311.70 297.07,341.14 297.29,313.82 297.51,340.10 297.73,317.44 297.95,339.05 298.17,319.32 298.39,337.05 298.61,322.26 298.83,332.14 299.05,321.63 299.27,331.29 299.49,321.56 299.71,333.82 299.93,317.03 300.15,333.72 300.37,317.34 300.59,334.13 300.81,318.48 301.02,334.65 301.24,319.18 301.46,333.88 301.68,321.98 301.90,332.17 302.12,322.84 302.34,331.67 302.56,323.57 302.78,331.54 303.00,322.85 303.22,332.12 303.44,322.12 303.66,334.62 303.88,319.63 304.10,334.21 304.32,319.16 304.54,333.34 304.76,319.17 304.97,333.17 305.19,318.94 305.41,332.90 305.63,317.74 305.85,332.79 306.07,317.38 306.29,332.96 306.51,317.85 306.73,333.70 306.95,318.40 307.17,333.87 307.39,318.71 307.61,334.64 307.83,319.84 308.05,334.36 308.27,320.30 308.49,334.55 308.71,320.52 308.93,334.66 309.14,321.23 309.36,334.51 309.58,323.06 309.80,332.66 310.02,323.41 310.24,332.38 310.46,323.30 310.68,332.74 310.90,322.66 311.12,332.50 311.34,322.59 311.56,330.33 311.78,323.55 312.00,330.05 312.22,323.10 312.44,329.92 312.66,319.87 312.88,331.81 313.09,320.89 313.31,332.41 313.53,323.45 313.75,330.55 313.97,323.82 314.19,331.17 314.41,324.00 314.63,333.59 314.85,321.82 315.07,334.11 315.29,320.80 315.51,334.89 315.73,319.73 315.95,333.80 316.17,320.23 316.39,332.80 316.61,321.19 316.83,332.59 317.04,321.99 317.26,332.03 317.48,323.05 317.70,332.12 317.92,322.31 318.14,333.07 318.36,321.18 318.58,334.94 318.80,319.62 319.02,336.15 319.24,318.07 319.46,338.42 319.68,317.21 319.90,339.70 320.12,315.64 320.34,340.39 320.56,315.49 320.78,341.07 320.99,314.63 321.21,341.69 321.43,315.05 321.65,341.19 321.87,315.37 322.09,340.61 322.31,315.46 322.53,335.07 322.75,320.19 322.97,333.95 323.19,320.81 323.41,333.04 323.63,319.26 323.85,334.90 324.07,320.64 324.29,333.93 324.51,322.25 324.73,332.17 324.94,322.54 325.16,331.55 325.38,322.44 325.60,332.34 325.82,321.08 326.04,331.72 326.26,321.18 326.48,331.40 326.70,322.20 326.92,330.48 327.14,322.78 327.36,330.32 327.58,325.03 327.80,328.80 328.02,325.71 328.24,328.60 328.46,325.79 328.68,330.05 328.89,325.19 329.11,330.03 329.33,325.42 329.55,330.93 329.77,324.77 329.99,331.61 330.21,323.41 330.43,332.33 330.65,321.50 330.87,334.35 331.09,319.91 331.31,336.20 331.53,320.48 331.75,334.82 331.97,319.45 332.19,335.61 332.41,318.89 332.63,340.55 332.85,315.66 333.06,340.11 333.28,316.89 333.50,333.40 333.72,322.25 333.94,333.07 334.16,322.88 334.38,332.05 334.60,320.45 334.82,335.30 335.04,320.31 335.26,334.12 335.48,320.21 335.70,333.94 335.92,319.35 336.14,335.07 336.36,319.10 336.58,336.61 336.80,319.25 337.01,336.16 337.23,320.65 337.45,335.95 337.67,321.21 337.89,335.00 338.11,320.67 338.33,334.55 338.55,321.22 338.77,332.80 338.99,319.76 339.21,333.18 339.43,318.38 339.65,335.16 339.87,315.83 340.09,335.95 340.31,314.60 340.53,337.03 340.75,315.06 340.96,337.69 341.18,315.41 341.40,336.50 341.62,320.81 341.84,331.59 342.06,321.59 342.28,331.93 342.50,318.96 342.72,335.76 342.94,320.01 343.16,336.21 343.38,321.37 343.60,337.58 343.82,320.24 344.04,338.17 344.26,318.55 344.48,338.17 344.70,317.91 344.91,337.56 345.13,316.65 345.35,338.65 345.57,315.98 345.79,340.55 346.01,317.95 346.23,341.67 346.45,318.97 346.67,337.45 346.89,321.48 347.11,336.85 347.33,322.19 347.55,334.35 347.77,322.73 347.99,333.79 348.21,322.24 348.43,333.11 348.65,321.70 348.86,332.18 349.08,321.15 349.30,332.86 349.52,316.99 349.74,337.76 349.96,316.94 350.18,337.14 350.40,317.05 350.62,333.36 350.84,322.23 351.06,331.59 351.28,323.25 351.50,331.81 351.72,323.27 351.94,331.71 352.16,322.84 352.38,332.29 352.60,321.27 352.82,334.03 353.03,320.22 353.25,335.57 353.47,318.56 353.69,334.09 353.91,319.09 354.13,335.03 354.35,317.63 354.57,339.97 354.79,312.64 355.01,340.91 355.23,311.79 355.45,339.73 355.67,315.75 355.89,336.64 356.11,317.21 356.33,335.28 356.55,320.52 356.77,333.55 356.98,322.57 357.20,332.49 357.42,322.82 357.64,331.00 357.86,323.75 358.08,330.78 358.30,323.68 358.52,330.88 358.74,322.70 358.96,331.80 359.18,321.60 359.40,332.34 359.62,316.05 359.84,337.26 360.06,314.23 360.28,338.44 360.50,315.93 360.72,339.82 360.93,316.91 361.15,340.35 361.37,317.86 361.59,337.96 361.81,319.26 362.03,336.58 362.25,318.78 362.47,336.98 362.69,316.92 362.91,338.64 363.13,315.86 363.35,338.24 363.57,319.90 363.79,334.35 364.01,320.96 364.23,333.62 364.45,321.23 364.67,335.16 364.88,319.91 365.10,335.86 365.32,317.63 365.54,334.03 365.76,316.78 365.98,334.74 366.20,315.02 366.42,335.51 366.64,309.27 366.86,339.99 367.08,308.93 367.30,339.91 367.52,311.56 367.74,337.65 367.96,312.67 368.18,337.00 368.40,313.34 368.62,339.54 368.83,313.86 369.05,340.37 369.27,313.39 369.49,339.75 369.71,312.36 369.93,338.32 370.15,312.07 370.37,336.88 370.59,315.62 370.81,334.67 371.03,318.13 371.25,333.26 371.47,319.82 371.69,330.64 371.91,323.73 372.13,330.19 372.35,324.11 372.57,332.26 372.79,322.46 373.00,332.60 373.22,322.48 373.44,332.57 373.66,322.33 373.88,332.81 374.10,321.76 374.32,333.63 374.54,321.40 374.76,334.51 374.98,320.93 375.20,335.33 375.42,320.20 375.64,333.21 375.86,321.60 376.08,333.63 376.30,321.17 376.52,336.28 376.74,318.48 376.95,337.26 377.17,318.20 377.39,337.71 377.61,319.02 377.83,337.13 378.05,318.66 378.27,337.91 378.49,318.51 378.71,340.68 378.93,315.48 379.15,341.76 379.37,314.14 379.59,343.32 379.81,312.34 380.03,345.27 380.25,310.39 380.47,348.25 380.69,308.44 380.90,346.67 381.12,306.24 381.34,346.09 381.56,308.52 381.78,343.93 382.00,310.43 382.22,341.96 382.44,311.22 382.66,338.74 382.88,315.18 383.10,336.43 383.32,316.98 383.54,334.01 383.76,319.37 383.98,333.03 384.20,320.55 384.42,332.05 384.64,319.25 384.85,334.55 385.07,319.18 385.29,335.61 385.51,319.69 385.73,335.02 385.95,318.27 386.17,336.72 386.39,316.89 386.61,341.18 386.83,311.88 387.05,343.03 387.27,311.74 387.49,342.04 387.71,311.99 387.93,341.66 388.15,313.30 388.37,339.76 388.59,318.53 388.80,335.18 389.02,320.09 389.24,334.99 389.46,319.58 389.68,338.58 389.90,316.95 390.12,339.44 390.34,316.69 390.56,341.01 390.78,315.21 391.00,341.84 391.22,314.77 391.44,339.60 391.66,319.26 391.88,334.33 392.10,319.47 392.32,333.25 392.54,318.22 392.75,335.20 392.97,320.20 393.19,334.26 393.41,321.69 393.63,330.90 393.85,324.52 394.07,330.61 394.29,324.55 394.51,331.99 394.73,323.17 394.95,331.73 395.17,322.66 395.39,331.45 395.61,323.08 395.83,330.68 396.05,322.70 396.27,330.70 396.49,322.16 396.71,332.60 396.92,319.57 397.14,333.09 397.36,319.59 397.58,333.68 397.80,318.80 398.02,334.38 398.24,319.36 398.46,335.27 398.68,320.31 398.90,335.74 399.12,321.46 399.34,335.25 399.56,322.63 399.78,333.72 400.00,323.69 400.22,332.88 400.44,324.55 400.66,332.96 400.87,323.83 401.09,333.38 401.31,322.73 401.53,332.51 401.75,322.95 401.97,333.96 402.19,321.94 402.41,334.75 402.63,318.75 402.85,337.63 403.07,317.01 403.29,338.93 403.51,316.35 403.73,339.32 403.95,315.20 404.17,339.15 404.39,314.67 404.61,338.66 404.82,314.59 405.04,337.94 405.26,315.81 405.48,339.72 405.70,317.30 405.92,341.45 406.14,317.64 406.36,342.81 406.58,315.92 406.80,344.94 407.02,313.51 407.24,345.36 407.46,309.94 407.68,347.88 407.90,306.43 408.12,348.30 408.34,304.91 408.56,345.05 408.77,304.19 408.99,343.70 409.21,306.20 409.43,341.84 409.65,310.07 409.87,338.63 410.09,311.95 410.31,338.28 410.53,312.66 410.75,337.67 410.97,313.62 411.19,336.67 411.41,313.01 411.63,336.62 411.85,311.79 412.07,335.41 412.29,312.73 412.51,334.46 412.72,315.05 412.94,334.38 413.16,316.42 413.38,334.09 413.60,319.96 413.82,331.96 414.04,320.78 414.26,331.71 414.48,321.57 414.70,333.90 414.92,320.29 415.14,333.79 415.36,321.25 415.58,334.13 415.80,322.17 416.02,334.67 416.24,322.73 416.46,335.11 416.68,323.48 416.89,336.59 417.11,323.28 417.33,337.57 417.55,323.49 417.77,334.69 417.99,322.50 418.21,335.51 418.43,321.31 418.65,341.87 418.87,315.60 419.09,342.62 419.31,313.21 419.53,343.18 419.75,311.11 419.97,343.43 420.19,309.73 420.41,344.28 420.63,306.80 420.84,344.25 421.06,309.01 421.28,343.24 421.50,310.88 421.72,342.14 421.94,313.10 422.16,342.69 422.38,314.94 422.60,341.32 422.82,315.99 423.04,342.54 423.26,315.24 423.48,343.00 423.70,311.43 423.92,344.42 424.14,311.07 424.36,342.68 424.58,310.42 424.79,339.52 425.01,312.04 425.23,337.31 425.45,314.56 425.67,334.96 425.89,317.26 426.11,333.30 426.33,320.37 426.55,331.39 426.77,322.33 426.99,331.29 427.21,323.13 427.43,330.86 427.65,323.86 427.87,330.75 428.09,323.89 428.31,330.96 428.53,321.93 428.74,331.81 428.96,320.30 429.18,332.52 429.40,320.65 429.62,332.66 429.84,320.92 430.06,333.16 430.28,320.76 430.50,333.67 430.72,320.82 430.94,334.05 431.16,320.40 431.38,335.31 431.60,321.56 431.82,333.23 432.04,320.74 432.26,334.19 432.48,320.00 432.69,339.22 432.91,315.31 433.13,340.00 433.35,317.21 433.57,340.56 433.79,319.40 434.01,338.68 434.23,319.90 434.45,337.02 434.67,320.22 434.89,335.77 435.11,319.99 435.33,335.04 435.55,318.38 435.77,334.33 435.99,317.33 436.21,334.60 436.43,316.26 436.64,336.38 436.86,315.01 437.08,337.20 437.30,315.24 437.52,337.74 437.74,316.69 437.96,338.49 438.18,317.43 438.40,339.18 438.62,318.29 438.84,339.57 439.06,320.45 439.28,338.21 439.50,320.39 439.72,334.77 439.94,321.59 440.16,333.75 440.38,321.07 440.60,334.67 440.81,319.00 441.03,334.66 441.25,317.85 441.47,335.07 441.69,316.22 441.91,336.66 442.13,315.68 442.35,337.01 442.57,315.75 442.79,337.53 443.01,316.41 443.23,337.15 443.45,318.52 443.67,335.95 443.89,321.15 444.11,334.78 444.33,321.35 444.55,332.70 444.76,321.90 444.98,334.15 445.20,320.07 445.42,335.54 445.64,316.90 445.86,336.21 446.08,314.30 446.30,338.71 446.52,308.74 446.74,343.27 446.96,307.03 447.18,344.89 447.40,307.81 447.62,345.31 447.84,308.69 448.06,346.56 448.28,311.63 448.50,344.34 448.71,316.79 448.93,338.01 449.15,317.37 449.37,337.19 449.59,318.35 449.81,333.95 450.03,317.11 450.25,334.33 450.47,316.46 450.69,341.01 450.91,310.40 451.13,342.11 451.35,310.97 451.57,339.81 451.79,312.48 452.01,339.41 452.23,314.50 452.45,338.52 452.66,316.93 452.88,336.82 453.10,318.47 453.32,336.81 453.54,317.84 453.76,337.29 453.98,317.25 454.20,338.06 454.42,316.50 454.64,339.47 454.86,314.33 455.08,340.35 455.30,314.40 455.52,335.58 455.74,318.24 455.96,335.02 456.18,319.97 456.40,332.40 456.61,319.92 456.83,331.10 457.05,322.01 457.27,330.14 457.49,321.81 457.71,330.47 457.93,321.78 458.15,330.94 458.37,322.50 458.59,331.24 458.81,323.79 459.03,331.60 459.25,323.96 459.47,331.77 459.69,324.15 459.91,330.97 460.13,323.85 460.35,331.51 460.56,321.79 460.78,334.97 461.00,321.06 461.22,335.87 461.44,318.82 461.66,337.32 461.88,317.10 462.10,337.70 462.32,316.00 462.54,336.66 462.76,315.65 462.98,335.72 463.20,316.91 463.42,334.55 463.64,319.65 463.86,333.07 464.08,321.40 464.30,332.35 464.52,321.77 464.73,331.73 464.95,322.22 465.17,331.19 465.39,322.71 465.61,330.49 465.83,322.99 466.05,330.75 466.27,322.87 466.49,331.12 466.71,323.86 466.93,330.12 467.15,323.81 467.37,330.17 467.59,322.39 467.81,331.89 468.03,322.30 468.25,332.21 468.47,322.08 468.68,332.47 468.90,321.64 469.12,331.96 469.34,321.86 469.56,331.32 469.78,322.17 470.00,330.81 470.22,322.26 470.44,331.15 470.66,322.80 470.88,331.50 471.10,323.03 471.32,331.80 471.54,323.07 471.76,332.41 471.98,321.56 472.20,333.83 472.42,320.06 472.63,334.77 472.85,320.08 473.07,335.56 473.29,319.91 473.51,333.78 473.73,321.87 473.95,333.74 474.17,321.54 474.39,334.03 474.61,318.00 474.83,336.90 475.05,317.65 475.27,336.08 475.49,317.60 475.71,335.48 475.93,317.27 476.15,334.82 476.37,317.87 476.58,335.14 476.80,317.49 477.02,336.45 477.24,316.31 477.46,338.41 477.68,316.01 477.90,339.80 478.12,315.91 478.34,341.71 478.56,315.27 478.78,342.85 479.00,316.62 479.22,342.36 479.44,318.00 479.66,340.26 479.88,319.72 480.10,338.40 480.32,320.68 480.53,337.17 480.75,321.31 480.97,336.07 481.19,321.98 481.41,335.51 481.63,322.48 481.85,333.47 482.07,322.34 482.29,333.61 482.51,322.82 482.73,333.47 482.95,322.51 483.17,334.08 483.39,321.27 483.61,339.05 483.83,315.71 484.05,340.33 484.27,313.40 484.49,338.90 484.70,310.67 484.92,338.09 485.14,309.75 485.36,336.42 485.58,316.34 485.80,332.68 486.02,317.79 486.24,332.09 486.46,319.52 486.68,330.82 486.90,322.35 487.12,330.31 487.34,323.28 487.56,331.42 487.78,322.72 488.00,331.55 488.22,323.04 488.44,331.87 488.65,322.36 488.87,333.86 489.09,322.57 489.31,334.14 489.53,323.34 489.75,333.77 489.97,323.49 490.19,333.22 490.41,323.85 490.63,332.17 490.85,324.04 491.07,332.66 491.29,323.23 491.51,334.64 491.73,321.69 491.95,335.60 492.17,320.72 492.39,336.23 492.60,321.18 492.82,335.29 493.04,320.26 493.26,335.40 493.48,320.03 493.70,337.90 493.92,318.62 494.14,337.56 494.36,319.05 494.58,332.48 494.80,322.72 495.02,331.96 495.24,322.32 495.46,331.68 495.68,319.60 495.90,333.76 496.12,319.12 496.34,333.98 496.55,316.51 496.77,336.79 496.99,317.01 497.21,337.39 497.43,317.97 497.65,338.55 497.87,317.33 498.09,339.08 498.31,316.67 498.53,340.69 498.75,313.91 498.97,340.89 499.19,312.18 499.41,340.88 499.63,310.70 499.85,340.33 500.07,311.23 500.29,339.54 500.50,317.33 500.72,333.52 500.94,319.19 501.16,332.74 501.38,320.56 501.60,336.39 501.82,317.97 502.04,335.91 502.26,319.59 502.48,336.25 502.70,320.61 502.92,337.35 503.14,320.90 503.36,336.79 503.58,322.50 503.80,333.37 504.02,321.31 504.24,333.65 504.45,320.15 504.67,336.66 504.89,316.58 505.11,337.74 505.33,315.32 505.55,338.25 505.77,314.82 505.99,339.32 506.21,315.12 506.43,337.88 506.65,316.38 506.87,336.86 507.09,317.54 507.31,336.99 507.53,318.11 507.75,336.92 507.97,316.37 508.19,338.22 508.41,315.03 508.62,335.58 508.84,318.49 509.06,336.46 509.28,318.37 509.50,342.24 509.72,313.65 509.94,342.15 510.16,313.14 510.38,341.84 510.60,313.17 510.82,340.28 511.04,312.75 511.26,339.85 511.48,313.03 511.70,339.00 511.92,313.42 512.14,339.59 512.36,314.04 512.57,339.63 512.79,313.97 513.01,339.18 513.23,315.91 513.45,338.38 513.67,320.46 513.89,334.42 514.11,322.05 514.33,333.37 514.55,323.68 514.77,331.02 514.99,324.00 515.21,331.26 515.43,323.27 515.65,335.54 515.87,318.85 516.09,336.67 516.31,318.84 516.52,335.82 516.74,320.59 516.96,335.20 517.18,320.50 517.40,335.22 517.62,319.12 517.84,336.36 518.06,318.37 518.28,335.70 518.50,319.98 518.72,333.50 518.94,322.33 519.16,332.92 519.38,322.92 519.60,330.87 519.82,324.05 520.04,330.50 520.26,324.02 520.47,330.79 520.69,323.57 520.91,330.88 521.13,323.09 521.35,331.16 521.57,319.89 521.79,334.35 522.01,319.32 522.23,334.38 522.45,319.75 522.67,334.61 522.89,319.56 523.11,334.55 523.33,319.17 523.55,334.45 523.77,319.29 523.99,334.36 524.21,319.53 524.42,333.60 524.64,320.69 524.86,333.16 525.08,321.80 525.30,333.35 525.52,321.63 525.74,333.75 525.96,321.06 526.18,333.78" fill="none" stroke="rgb(4,158,134)" stroke-width="1.0" stroke-linejoin="round"/>
<polyline points="87.50,394.74 87.72,404.70 87.94,394.75 88.16,404.81 88.38,394.24 88.60,405.24 88.82,393.57 89.04,405.48 89.26,396.44 89.48,402.31 89.69,396.04 89.91,402.65 90.13,396.03 90.35,402.86 90.57,395.80 90.79,406.93 91.01,391.72 91.23,406.53 91.45,392.92 91.67,405.82 91.89,393.46 92.11,405.25 92.33,394.68 92.55,404.75 92.77,395.20 92.99,404.25 93.21,395.86 93.43,404.38 93.64,395.83 93.86,405.16 94.08,394.48 94.30,406.37 94.52,393.63 94.74,407.58 94.96,392.65 95.18,407.63 95.40,392.08 95.62,406.60 95.84,391.71 96.06,405.87 96.28,391.19 96.50,406.23 96.72,391.98 96.94,406.60 97.16,395.55 97.38,403.84 97.59,395.77 97.81,404.13 98.03,395.10 98.25,404.58 98.47,394.05 98.69,404.73 98.91,388.85 99.13,409.16 99.35,389.24 99.57,409.61 99.79,389.26 100.01,409.95 100.23,389.25 100.45,409.73 100.67,390.30 100.89,409.01 101.11,391.17 101.33,408.21 101.54,391.54 101.76,408.01 101.98,393.55 102.20,406.16 102.42,393.78 102.64,405.90 102.86,393.75 103.08,405.84 103.30,393.35 103.52,407.77 103.74,390.66 103.96,408.11 104.18,389.37 104.40,408.67 104.62,389.20 104.84,407.80 105.06,389.23 105.28,403.67 105.49,393.86 105.71,403.11 105.93,394.43 106.15,403.51 106.37,394.61 106.59,404.29 106.81,393.65 107.03,407.09 107.25,393.45 107.47,407.61 107.69,392.16 107.91,408.44 108.13,390.26 108.35,411.72 108.57,387.34 108.79,411.71 109.01,388.01 109.23,410.58 109.44,389.38 109.66,408.88 109.88,389.89 110.10,407.40 110.32,390.99 110.54,406.28 110.76,391.87 110.98,405.55 111.20,392.42 111.42,404.61 111.64,394.51 111.86,403.62 112.08,395.39 112.30,403.33 112.52,396.41 112.74,403.02 112.96,396.85 113.18,403.21 113.40,396.91 113.61,402.82 113.83,397.21 114.05,402.56 114.27,397.14 114.49,402.76 114.71,396.74 114.93,402.84 115.15,396.34 115.37,403.10 115.59,396.18 115.81,403.35 116.03,395.79 116.25,403.72 116.47,395.53 116.69,404.38 116.91,395.16 117.13,404.86 117.35,394.65 117.56,405.40 117.78,394.44 118.00,405.52 118.22,394.24 118.44,405.78 118.66,393.38 118.88,406.54 119.10,393.04 119.32,407.41 119.54,394.29 119.76,404.99 119.98,394.44 120.20,405.43 120.42,394.20 120.64,405.25 120.86,393.90 121.08,405.84 121.30,393.01 121.51,406.87 121.73,392.41 121.95,407.30 122.17,391.49 122.39,407.78 122.61,391.30 122.83,412.50 123.05,388.02 123.27,412.38 123.49,387.69 123.71,411.98 123.93,387.89 124.15,411.69 124.37,390.73 124.59,408.05 124.81,391.33 125.03,407.93 125.25,391.14 125.46,407.31 125.68,391.65 125.90,404.09 126.12,393.97 126.34,403.56 126.56,394.39 126.78,403.39 127.00,395.03 127.22,403.11 127.44,395.71 127.66,402.93 127.88,396.05 128.10,402.55 128.32,396.41 128.54,402.20 128.76,397.01 128.98,401.86 129.20,395.33 129.41,403.84 129.63,395.35 129.85,403.92 130.07,395.01 130.29,404.33 130.51,394.45 130.73,405.17 130.95,393.36 131.17,405.82 131.39,392.71 131.61,406.71 131.83,391.65 132.05,407.46 132.27,390.66 132.49,408.87 132.71,389.14 132.93,409.76 133.15,388.67 133.37,410.21 133.58,389.36 133.80,410.12 134.02,389.46 134.24,410.06 134.46,389.43 134.68,409.81 134.90,390.47 135.12,409.46 135.34,391.08 135.56,408.41 135.78,392.29 136.00,407.86 136.22,391.58 136.44,407.40 136.66,390.84 136.88,406.59 137.10,390.29 137.32,406.95 137.53,390.51 137.75,407.34 137.97,390.91 138.19,407.66 138.41,391.55 138.63,407.72 138.85,390.68 139.07,408.52 139.29,390.37 139.51,408.98 139.73,389.58 139.95,409.88 140.17,390.12 140.39,407.04 140.61,392.50 140.83,406.35 141.05,393.56 141.27,405.85 141.48,393.62 141.70,405.58 141.92,391.58 142.14,406.31 142.36,391.33 142.58,405.64 142.80,391.21 143.02,405.63 143.24,391.56 143.46,405.00 143.68,395.10 143.90,402.36 144.12,395.65 144.34,402.35 144.56,396.05 144.78,402.24 145.00,396.42 145.22,402.21 145.43,396.41 145.65,401.97 145.87,396.67 146.09,401.85 146.31,396.84 146.53,401.77 146.75,395.50 146.97,403.61 147.19,395.28 147.41,404.21 147.63,394.88 147.85,404.70 148.07,394.67 148.29,405.18 148.51,394.41 148.73,405.39 148.95,394.22 149.17,405.65 149.38,394.06 149.60,405.62 149.82,393.79 150.04,403.17 150.26,395.84 150.48,403.30 150.70,395.72 150.92,403.37 151.14,395.53 151.36,403.75 151.58,392.10 151.80,407.48 152.02,392.01 152.24,408.01 152.46,391.76 152.68,407.81 152.90,391.64 153.12,407.50 153.33,391.53 153.55,407.35 153.77,391.80 153.99,406.65 154.21,392.36 154.43,405.95 154.65,392.91 154.87,402.68 155.09,395.86 155.31,402.89 155.53,395.59 155.75,403.27 155.97,395.51 156.19,403.60 156.41,391.88 156.63,407.79 156.85,391.54 157.07,407.93 157.29,390.97 157.50,408.37 157.72,391.05 157.94,404.52 158.16,394.56 158.38,404.58 158.60,394.62 158.82,404.38 159.04,394.67 159.26,404.01 159.48,395.49 159.70,406.43 159.92,393.81 160.14,405.31 160.36,394.91 160.58,404.58 160.80,395.39 161.02,404.18 161.24,397.10 161.45,402.30 161.67,397.46 161.89,401.93 162.11,397.37 162.33,401.78 162.55,397.23 162.77,402.68 162.99,396.16 163.21,402.69 163.43,395.64 163.65,403.37 163.87,395.02 164.09,403.91 164.31,394.24 164.53,404.47 164.75,394.28 164.97,404.39 165.19,394.74 165.40,403.97 165.62,395.11 165.84,403.78 166.06,397.07 166.28,401.91 166.50,397.70 166.72,401.69 166.94,398.18 167.16,401.42 167.38,398.41 167.60,402.82 167.82,397.70 168.04,403.35 168.26,397.50 168.48,403.67 168.70,396.86 168.92,404.94 169.14,396.14 169.35,404.54 169.57,394.80 169.79,405.52 170.01,393.64 170.23,406.34 170.45,393.12 170.67,407.01 170.89,391.10 171.11,409.47 171.33,389.91 171.55,409.61 171.77,389.89 171.99,409.30 172.21,389.83 172.43,408.89 172.65,389.60 172.87,408.66 173.09,390.18 173.30,408.45 173.52,391.38 173.74,407.65 173.96,395.88 174.18,403.15 174.40,396.07 174.62,403.35 174.84,396.41 175.06,403.75 175.28,396.80 175.50,404.02 175.72,393.13 175.94,408.60 176.16,391.18 176.38,409.92 176.60,389.47 176.82,410.32 177.04,388.23 177.26,405.92 177.47,393.04 177.69,406.00 177.91,392.72 178.13,406.23 178.35,392.35 178.57,407.04 178.79,384.43 179.01,414.85 179.23,384.07 179.45,415.70 179.67,383.90 179.89,414.87 180.11,384.82 180.33,405.81 180.55,393.27 180.77,405.30 180.99,393.82 181.21,404.60 181.42,394.43 181.64,404.11 181.86,395.04 182.08,408.24 182.30,391.56 182.52,409.03 182.74,390.52 182.96,409.90 183.18,389.95 183.40,410.63 183.62,389.48 183.84,411.68 184.06,388.81 184.28,412.01 184.50,388.57 184.72,412.15 184.94,387.88 185.16,409.63 185.37,390.47 185.59,408.90 185.81,391.30 186.03,408.23 186.25,391.78 186.47,408.38 186.69,391.43 186.91,410.47 187.13,389.10 187.35,411.20 187.57,388.61 187.79,412.01 188.01,387.66 188.23,412.05 188.45,386.69 188.67,412.98 188.89,385.49 189.11,413.83 189.32,385.87 189.54,412.23 189.76,385.83 189.98,411.89 190.20,387.22 190.42,410.31 190.64,388.42 190.86,409.68 191.08,389.46 191.30,408.88 191.52,390.94 191.74,408.36 191.96,391.80 192.18,407.46 192.40,392.18 192.62,406.91 192.84,392.51 193.06,406.35 193.27,392.50 193.49,406.58 193.71,392.17 193.93,407.02 194.15,392.07 194.37,407.72 194.59,391.31 194.81,408.34 195.03,390.02 195.25,408.67 195.47,389.55 195.69,409.58 195.91,388.33 196.13,409.54 196.35,388.37 196.57,409.37 196.79,387.10 197.01,408.39 197.22,387.11 197.44,408.03 197.66,388.40 197.88,407.52 198.10,393.28 198.32,404.04 198.54,394.01 198.76,403.94 198.98,394.19 199.20,403.52 199.42,394.40 199.64,403.37 199.86,394.74 200.08,403.64 200.30,394.67 200.52,404.17 200.74,394.50 200.96,404.53 201.18,391.87 201.39,408.29 201.61,390.53 201.83,410.14 202.05,389.03 202.27,410.93 202.49,386.62 202.71,413.10 202.93,384.82 203.15,414.51 203.37,383.44 203.59,415.87 203.81,382.73 204.03,417.52 204.25,382.40 204.47,416.84 204.69,384.00 204.91,414.80 205.13,385.04 205.34,413.37 205.56,386.98 205.78,411.28 206.00,389.50 206.22,409.92 206.44,391.43 206.66,407.59 206.88,392.73 207.10,406.67 207.32,392.60 207.54,406.16 207.76,393.01 207.98,405.42 208.20,392.92 208.42,405.87 208.64,392.58 208.86,407.05 209.08,391.94 209.29,407.89 209.51,390.69 209.73,408.75 209.95,389.74 210.17,409.97 210.39,388.41 210.61,411.41 210.83,387.23 211.05,412.01 211.27,387.47 211.49,411.03 211.71,388.27 211.93,411.20 212.15,387.77 212.37,405.42 212.59,393.90 212.81,404.90 213.03,394.62 213.24,404.35 213.46,395.44 213.68,403.80 213.90,391.80 214.12,407.32 214.34,391.77 214.56,406.72 214.78,391.65 215.00,406.66 215.22,391.42 215.44,406.04 215.66,393.97 215.88,404.27 216.10,394.27 216.32,404.14 216.54,394.91 216.76,403.70 216.98,395.36 217.19,402.45 217.41,396.55 217.63,402.32 217.85,396.65 218.07,402.51 218.29,396.27 218.51,402.83 218.73,393.26 218.95,406.40 219.17,392.70 219.39,406.68 219.61,392.46 219.83,407.24 220.05,392.62 220.27,407.70 220.49,395.01 220.71,404.41 220.93,394.55 221.15,404.81 221.36,393.86 221.58,405.44 221.80,393.82 222.02,409.64 222.24,389.27 222.46,410.19 222.68,388.84 222.90,410.05 223.12,389.08 223.34,410.26 223.56,392.90 223.78,405.82 224.00,393.27 224.22,405.64 224.44,393.46 224.66,405.22 224.88,393.74 225.10,404.80 225.31,394.23 225.53,404.12 225.75,394.58 225.97,403.79 226.19,395.12 226.41,403.79 226.63,395.56 226.85,405.72 227.07,394.18 227.29,405.52 227.51,393.79 227.73,405.45 227.95,393.61 228.17,405.28 228.39,393.00 228.61,405.25 228.83,393.32 229.05,404.94 229.26,393.63 229.48,404.80 229.70,394.41 229.92,404.69 230.14,394.61 230.36,404.67 230.58,393.90 230.80,404.84 231.02,393.68 231.24,405.30 231.46,392.96 231.68,404.06 231.90,392.78 232.12,403.61 232.34,392.92 232.56,404.56 232.78,392.74 233.00,405.45 233.21,396.22 233.43,402.75 233.65,396.03 233.87,403.14 234.09,395.65 234.31,403.26 234.53,395.30 234.75,408.00 234.97,390.81 235.19,407.17 235.41,390.09 235.63,406.78 235.85,389.98 236.07,406.52 236.29,390.08 236.51,403.02 236.73,394.59 236.95,402.46 237.16,395.06 237.38,402.04 237.60,395.46 237.82,401.68 238.04,396.18 238.26,401.38 238.48,396.94 238.70,401.17 238.92,397.57 239.14,401.26 239.36,397.76 239.58,401.33 239.80,398.01 240.02,401.41 240.24,398.15 240.46,401.69 240.68,397.69 240.90,401.94 241.12,397.55 241.33,401.64 241.55,397.23 241.77,401.82 241.99,397.12 242.21,401.91 242.43,396.95 242.65,402.12 242.87,393.97 243.09,405.72 243.31,394.56 243.53,405.15 243.75,394.86 243.97,404.19 244.19,395.19 244.41,402.85 244.63,395.72 244.85,403.27 245.07,395.23 245.28,403.52 245.50,394.30 245.72,403.90 245.94,392.66 246.16,405.78 246.38,391.93 246.60,406.23 246.82,391.87 247.04,406.96 247.26,391.16 247.48,407.89 247.70,390.56 247.92,408.82 248.14,390.20 248.36,408.96 248.58,390.75 248.80,408.29 249.02,391.84 249.23,404.12 249.45,395.67 249.67,403.81 249.89,396.17 250.11,403.20 250.33,396.54 250.55,402.87 250.77,396.51 250.99,402.56 251.21,396.78 251.43,402.76 251.65,396.31 251.87,403.20 252.09,395.68 252.31,406.10 252.53,392.70 252.75,407.04 252.97,391.22 253.18,408.36 253.40,389.78 253.62,409.56 253.84,388.98 254.06,407.77 254.28,391.37 254.50,407.55 254.72,391.74 254.94,407.28 255.16,392.15 255.38,406.75 255.60,391.51 255.82,407.55 256.04,392.53 256.26,406.63 256.48,393.29 256.70,406.51 256.92,392.19 257.13,407.49 257.35,391.20 257.57,408.01 257.79,389.95 258.01,409.26 258.23,389.67 258.45,409.92 258.67,389.29 258.89,410.54 259.11,388.27 259.33,410.62 259.55,388.92 259.77,410.09 259.99,390.08 260.21,409.04 260.43,391.10 260.65,408.04 260.87,392.03 261.08,407.54 261.30,392.61 261.52,406.62 261.74,392.86 261.96,406.48 262.18,392.79 262.40,406.69 262.62,392.07 262.84,407.06 263.06,391.52 263.28,407.69 263.50,391.15 263.72,403.47 263.94,394.82 264.16,404.02 264.38,394.14 264.60,404.38 264.82,393.15 265.04,405.12 265.25,390.70 265.47,407.49 265.69,390.28 265.91,408.05 266.13,389.23 266.35,409.24 266.57,388.89 266.79,417.20 267.01,380.34 267.23,417.85 267.45,380.92 267.67,416.33 267.89,382.84 268.11,415.54 268.33,389.38 268.55,408.61 268.77,391.39 268.99,407.44 269.20,393.21 269.42,405.76 269.64,394.53 269.86,405.20 270.08,396.62 270.30,402.68 270.52,396.96 270.74,402.40 270.96,397.07 271.18,402.74 271.40,396.38 271.62,407.41 271.84,391.61 272.06,408.96 272.28,390.12 272.50,409.58 272.72,388.77 272.94,410.87 273.15,390.11 273.37,409.41 273.59,390.90 273.81,408.20 274.03,392.27 274.25,407.42 274.47,393.42 274.69,406.65 274.91,394.00 275.13,405.78 275.35,394.85 275.57,405.03 275.79,395.65 276.01,404.73 276.23,395.77 276.45,404.54 276.67,395.89 276.89,403.98 277.10,396.01 277.32,404.08 277.54,395.75 277.76,404.04 277.98,395.67 278.20,404.47 278.42,395.33 278.64,404.81 278.86,394.85 279.08,404.99 279.30,394.44 279.52,405.67 279.74,394.02 279.96,405.77 280.18,393.83 280.40,405.50 280.62,393.50 280.84,405.51 281.05,393.28 281.27,403.70 281.49,395.35 281.71,403.93 281.93,395.71 282.15,403.97 282.37,395.84 282.59,404.33 282.81,393.88 283.03,405.91 283.25,393.14 283.47,406.69 283.69,391.96 283.91,407.17 284.13,390.73 284.35,408.18 284.57,389.43 284.79,409.66 285.00,388.49 285.22,410.90 285.44,387.40 285.66,411.44 285.88,386.70 286.10,410.33 286.32,389.36 286.54,410.63 286.76,388.82 286.98,410.83 287.20,387.77 287.42,411.53 287.64,384.03 287.86,415.00 288.08,384.87 288.30,413.72 288.52,386.21 288.74,412.06 288.96,387.43 289.17,410.92 289.39,389.21 289.61,409.22 289.83,390.18 290.05,408.58 290.27,390.56 290.49,407.74 290.71,391.52 290.93,406.95 291.15,392.00 291.37,406.30 291.59,392.14 291.81,405.84 292.03,392.57 292.25,406.47 292.47,391.69 292.69,407.06 292.91,390.79 293.12,407.73 293.34,390.09 293.56,409.08 293.78,389.01 294.00,409.82 294.22,389.23 294.44,410.23 294.66,388.19 294.88,410.96 295.10,387.46 295.32,411.18 295.54,386.80 295.76,411.96 295.98,385.80 296.20,411.98 296.42,386.70 296.64,410.55 296.86,388.10 297.07,409.22 297.29,390.02 297.51,407.90 297.73,390.88 297.95,407.03 298.17,391.84 298.39,406.10 298.61,392.65 298.83,404.72 299.05,392.93 299.27,405.36 299.49,392.70 299.71,405.88 299.93,392.63 300.15,406.02 300.37,391.15 300.59,407.93 300.81,389.81 301.02,409.05 301.24,388.37 301.46,410.21 301.68,387.94 301.90,408.24 302.12,390.42 302.34,407.59 302.56,391.35 302.78,407.19 303.00,392.15 303.22,406.77 303.44,392.78 303.66,407.63 303.88,392.03 304.10,406.94 304.32,392.95 304.54,405.88 304.76,394.07 304.97,405.10 305.19,396.70 305.41,402.92 305.63,396.88 305.85,403.11 306.07,397.17 306.29,403.25 306.51,397.21 306.73,403.40 306.95,396.76 307.17,403.84 307.39,396.50 307.61,404.39 307.83,396.16 308.05,404.40 308.27,395.83 308.49,408.05 308.71,393.16 308.93,408.13 309.14,392.69 309.36,407.75 309.58,393.27 309.80,407.24 310.02,395.60 310.24,403.81 310.46,395.76 310.68,404.00 310.90,395.29 311.12,404.84 311.34,394.71 311.56,408.37 311.78,391.84 312.00,409.20 312.22,390.83 312.44,409.57 312.66,390.03 312.88,409.94 313.09,388.54 313.31,411.30 313.53,388.48 313.75,410.20 313.97,389.12 314.19,410.09 314.41,390.03 314.63,409.67 314.85,394.98 315.07,404.14 315.29,395.58 315.51,403.60 315.73,396.22 315.95,403.20 316.17,396.51 316.39,406.28 316.61,393.74 316.83,406.59 317.04,393.30 317.26,407.15 317.48,392.58 317.70,407.83 317.92,391.35 318.14,409.31 318.36,390.45 318.58,409.42 318.80,390.46 319.02,408.79 319.24,391.42 319.46,408.16 319.68,392.39 319.90,407.11 320.12,393.03 320.34,406.40 320.56,393.43 320.78,405.82 320.99,393.83 321.21,404.25 321.43,395.43 321.65,404.17 321.87,395.12 322.09,404.08 322.31,394.95 322.53,403.99 322.75,393.17 322.97,406.21 323.19,392.76 323.41,406.42 323.63,392.72 323.85,407.05 324.07,391.91 324.29,407.02 324.51,392.87 324.73,406.30 324.94,393.60 325.16,406.25 325.38,394.00 325.60,405.99 325.82,393.59 326.04,406.33 326.26,392.48 326.48,406.94 326.70,391.83 326.92,407.38 327.14,391.63 327.36,407.95 327.58,394.66 327.80,405.08 328.02,394.91 328.24,405.17 328.46,394.68 328.68,405.26 328.89,394.14 329.11,409.27 329.33,390.69 329.55,408.90 329.77,390.33 329.99,409.01 330.21,391.31 330.43,408.30 330.65,392.20 330.87,407.59 331.09,392.58 331.31,407.73 331.53,392.57 331.75,407.91 331.97,391.78 332.19,408.39 332.41,391.28 332.63,408.79 332.85,390.80 333.06,409.12 333.28,390.13 333.50,409.94 333.72,389.24 333.94,409.32 334.16,390.48 334.38,408.24 334.60,390.98 334.82,407.39 335.04,391.57 335.26,406.52 335.48,392.35 335.70,406.00 335.92,393.47 336.14,405.41 336.36,394.07 336.58,405.03 336.80,393.68 337.01,405.50 337.23,395.10 337.45,404.10 337.67,394.98 337.89,404.68 338.11,394.21 338.33,405.43 338.55,393.39 338.77,404.87 338.99,393.88 339.21,405.36 339.43,393.57 339.65,405.60 339.87,392.59 340.09,406.10 340.31,386.33 340.53,412.27 340.75,385.51 340.96,412.87 341.18,385.08 341.40,413.10 341.62,384.72 341.84,413.31 342.06,387.80 342.28,410.20 342.50,388.11 342.72,408.70 342.94,388.82 343.16,408.35 343.38,390.08 343.60,408.27 343.82,389.59 344.04,407.14 344.26,390.88 344.48,406.06 344.70,391.82 344.91,406.29 345.13,392.29 345.35,406.98 345.57,392.38 345.79,407.02 346.01,392.74 346.23,407.72 346.45,392.01 346.67,408.69 346.89,392.88 347.11,407.54 347.33,392.00 347.55,408.71 347.77,391.09 347.99,410.02 348.21,390.31 348.43,414.01 348.65,387.05 348.86,414.63 349.08,385.80 349.30,415.83 349.52,384.99 349.74,416.10 349.96,383.00 350.18,415.86 350.40,383.25 350.62,414.93 350.84,384.55 351.06,413.60 351.28,385.97 351.50,411.51 351.72,388.46 351.94,409.26 352.16,390.61 352.38,407.04 352.60,392.45 352.82,405.58 353.03,393.75 353.25,403.39 353.47,395.80 353.69,403.13 353.91,396.29 354.13,402.94 354.35,396.66 354.57,402.78 354.79,397.16 355.01,402.26 355.23,397.32 355.45,402.13 355.67,397.14 355.89,402.41 356.11,396.81 356.33,403.51 356.55,395.95 356.77,403.80 356.98,395.56 357.20,404.07 357.42,395.25 357.64,404.35 357.86,394.76 358.08,403.59 358.30,395.52 358.52,404.00 358.74,395.13 358.96,404.34 359.18,394.94 359.40,404.55 359.62,390.84 359.84,408.74 360.06,391.18 360.28,408.37 360.50,391.73 360.72,407.55 360.93,391.89 361.15,405.63 361.37,393.41 361.59,405.26 361.81,393.87 362.03,405.07 362.25,394.27 362.47,405.01 362.69,394.29 362.91,405.87 363.13,393.50 363.35,406.27 363.57,393.26 363.79,406.65 364.01,392.29 364.23,407.38 364.45,392.70 364.67,406.92 364.88,392.26 365.10,407.39 365.32,391.34 365.54,407.53 365.76,390.66 365.98,411.37 366.20,387.30 366.42,411.89 366.64,387.87 366.86,411.16 367.08,388.58 367.30,410.64 367.52,394.49 367.74,404.94 367.96,394.76 368.18,404.57 368.40,395.11 368.62,403.94 368.83,395.64 369.05,403.45 369.27,392.37 369.49,407.48 369.71,392.04 369.93,407.30 370.15,391.72 370.37,407.56 370.59,391.35 370.81,406.05 371.03,392.81 371.25,405.84 371.47,393.02 371.69,405.36 371.91,393.12 372.13,405.27 372.35,392.70 372.57,405.98 372.79,393.05 373.00,405.72 373.22,393.29 373.44,405.67 373.66,393.29 373.88,405.85 374.10,393.04 374.32,406.04 374.54,393.00 374.76,406.36 374.98,392.48 375.20,406.89 375.42,391.83 375.64,407.68 375.86,391.06 376.08,410.44 376.30,383.93 376.52,416.49 376.74,376.05 376.95,419.84 377.17,375.32 377.39,421.30 377.61,376.15 377.83,420.72 378.05,377.07 378.27,418.09 378.49,379.86 378.71,408.23 378.93,389.80 379.15,406.87 379.37,392.60 379.59,405.81 379.81,393.13 380.03,404.74 380.25,393.89 380.47,406.88 380.69,391.45 380.90,405.80 381.12,392.11 381.34,405.18 381.56,392.89 381.78,404.61 382.00,391.10 382.22,405.74 382.44,392.31 382.66,405.51 382.88,392.74 383.10,405.22 383.32,393.82 383.54,405.13 383.76,394.62 383.98,404.42 384.20,394.73 384.42,404.22 384.64,395.12 384.85,403.98 385.07,395.17 385.29,403.18 385.51,395.99 385.73,403.86 385.95,395.50 386.17,404.28 386.39,395.04 386.61,404.70 386.83,392.32 387.05,407.53 387.27,392.00 387.49,407.60 387.71,391.60 387.93,407.35 388.15,392.62 388.37,406.37 388.59,394.10 388.80,405.30 389.02,394.67 389.24,404.76 389.46,394.02 389.68,404.42 389.90,393.89 390.12,404.18 390.34,393.34 390.56,403.88 390.78,394.20 391.00,404.09 391.22,394.60 391.44,404.61 391.66,395.25 391.88,404.79 392.10,395.04 392.32,405.08 392.54,394.74 392.75,405.80 392.97,394.64 393.19,403.88 393.41,396.28 393.63,403.46 393.85,396.71 394.07,403.10 394.29,397.01 394.51,403.00 394.73,396.21 394.95,403.84 395.17,395.69 395.39,404.12 395.61,395.20 395.83,404.20 396.05,394.59 396.27,404.50 396.49,395.33 396.71,403.98 396.92,394.93 397.14,404.13 397.36,394.87 397.58,404.54 397.80,394.79 398.02,407.45 398.24,392.26 398.46,407.75 398.68,392.14 398.90,407.25 399.12,392.82 399.34,406.29 399.56,394.02 399.78,405.83 400.00,394.45 400.22,405.37 400.44,394.40 400.66,404.77 400.87,394.88 401.09,404.40 401.31,395.07 401.53,404.32 401.75,395.44 401.97,403.89 402.19,395.92 402.41,403.60 402.63,396.08 402.85,403.94 403.07,395.37 403.29,404.28 403.51,394.86 403.73,404.69 403.95,394.32 404.17,405.07 404.39,393.28 404.61,405.76 404.82,392.70 405.04,406.44 405.26,391.80 405.48,407.04 405.70,391.40 405.92,403.53 406.14,395.12 406.36,403.65 406.58,394.72 406.80,403.94 407.02,394.38 407.24,404.45 407.46,394.30 407.68,410.88 407.90,388.45 408.12,410.92 408.34,388.74 408.56,409.79 408.77,389.07 408.99,409.36 409.21,391.77 409.43,407.03 409.65,392.10 409.87,406.04 410.09,392.67 410.31,405.54 410.53,393.74 410.75,405.66 410.97,392.83 411.19,406.11 411.41,392.56 411.63,406.46 411.85,392.27 412.07,407.08 412.29,391.93 412.51,407.85 412.72,391.18 412.94,408.15 413.16,390.19 413.38,409.35 413.60,390.12 413.82,408.51 414.04,392.47 414.26,406.91 414.48,392.79 414.70,406.60 414.92,392.98 415.14,406.40 415.36,392.95 415.58,406.71 415.80,392.14 416.02,406.07 416.24,392.01 416.46,406.44 416.68,391.64 416.89,406.81 417.11,391.05 417.33,407.08 417.55,390.33 417.77,407.82 417.99,390.14 418.21,408.18 418.43,389.92 418.65,408.24 418.87,388.53 419.09,408.58 419.31,389.74 419.53,408.41 419.75,390.68 419.97,407.34 420.19,392.09 420.41,406.85 420.63,392.14 420.84,406.37 421.06,392.05 421.28,406.41 421.50,391.91 421.72,406.51 421.94,390.80 422.16,407.97 422.38,390.05 422.60,408.76 422.82,388.91 423.04,409.63 423.26,388.83 423.48,410.15 423.70,390.02 423.92,409.83 424.14,389.62 424.36,410.76 424.58,389.57 424.79,410.63 425.01,388.81 425.23,412.07 425.45,388.15 425.67,412.51 425.89,387.35 426.11,411.75 426.33,387.09 426.55,411.50 426.77,386.71 426.99,411.38 427.21,386.47 427.43,410.64 427.65,387.49 427.87,409.01 428.09,388.38 428.31,408.02 428.53,389.42 428.74,406.91 428.96,390.74 429.18,406.79 429.40,391.89 429.62,405.78 429.84,393.16 430.06,405.01 430.28,393.72 430.50,404.64 430.72,394.47 430.94,404.46 431.16,395.05 431.38,404.42 431.60,394.36 431.82,404.62 432.04,394.16 432.26,404.94 432.48,393.67 432.69,405.21 432.91,393.14 433.13,405.74 433.35,392.66 433.57,405.95 433.79,391.96 434.01,406.53 434.23,392.88 434.45,406.19 434.67,393.71 434.89,405.33 435.11,394.70 435.33,404.79 435.55,394.93 435.77,404.69 435.99,395.21 436.21,404.52 436.43,397.15 436.64,402.11 436.86,397.08 437.08,402.35 437.30,396.77 437.52,402.70 437.74,396.50 437.96,405.60 438.18,394.19 438.40,405.93 438.62,394.02 438.84,406.25 439.06,393.75 439.28,406.83 439.50,393.48 439.72,403.01 439.94,396.50 440.16,403.02 440.38,396.14 440.60,403.01 440.81,396.00 441.03,403.37 441.25,392.01 441.47,408.50 441.69,391.51 441.91,408.51 442.13,391.70 442.35,408.36 442.57,391.80 442.79,404.93 443.01,394.62 443.23,404.77 443.45,395.04 443.67,404.43 443.89,395.36 444.11,403.97 444.33,393.80 444.55,405.84 444.76,394.14 444.98,405.93 445.20,393.41 445.42,405.99 445.64,393.09 445.86,406.23 446.08,394.64 446.30,404.01 446.52,394.25 446.74,404.69 446.96,393.68 447.18,405.26 447.40,393.02 447.62,409.19 447.84,389.43 448.06,408.71 448.28,389.63 448.50,408.53 448.71,389.82 448.93,408.19 449.15,394.35 449.37,403.83 449.59,395.02 449.81,403.49 450.03,395.49 450.25,403.39 450.47,395.42 450.69,404.22 450.91,391.89 451.13,409.24 451.35,390.77 451.57,409.86 451.79,390.31 452.01,410.32 452.23,389.00 452.45,410.53 452.66,389.55 452.88,409.26 453.10,390.66 453.32,407.46 453.54,392.41 453.76,406.25 453.98,393.27 454.20,405.68 454.42,393.81 454.64,404.96 454.86,394.33 455.08,404.26 455.30,395.09 455.52,404.17 455.74,395.34 455.96,403.85 456.18,395.85 456.40,403.93 456.61,396.22 456.83,403.59 457.05,396.57 457.27,403.46 457.49,397.09 457.71,403.01 457.93,397.21 458.15,403.36 458.37,396.53 458.59,403.59 458.81,396.20 459.03,403.34 459.25,395.42 459.47,404.18 459.69,394.65 459.91,405.21 460.13,393.63 460.35,406.60 460.56,392.24 460.78,407.49 461.00,391.36 461.22,407.47 461.44,391.03 461.66,407.86 461.88,390.00 462.10,408.66 462.32,389.72 462.54,409.32 462.76,389.00 462.98,409.95 463.20,388.48 463.42,410.26 463.64,389.63 463.86,409.32 464.08,390.00 464.30,409.37 464.52,390.03 464.73,408.96 464.95,390.17 465.17,408.90 465.39,391.21 465.61,408.00 465.83,391.85 466.05,408.06 466.27,392.22 466.49,407.48 466.71,393.77 466.93,405.27 467.15,394.00 467.37,404.76 467.59,394.32 467.81,404.63 468.03,394.91 468.25,404.23 468.47,396.71 468.68,402.10 468.90,397.04 469.12,401.96 469.34,397.21 469.56,401.66 469.78,397.55 470.00,402.54 470.22,396.99 470.44,402.57 470.66,396.68 470.88,402.73 471.10,396.42 471.32,402.85 471.54,394.66 471.76,404.92 471.98,393.73 472.20,405.58 472.42,393.21 472.63,406.20 472.85,392.51 473.07,406.32 473.29,393.81 473.51,405.69 473.73,394.13 473.95,405.21 474.17,394.72 474.39,405.02 474.61,395.35 474.83,402.09 475.05,397.42 475.27,402.00 475.49,397.64 475.71,402.01 475.93,397.20 476.15,402.58 476.37,394.24 476.58,406.21 476.80,393.19 477.02,407.04 477.24,392.37 477.46,407.30 477.68,391.88 477.90,408.34 478.12,390.45 478.34,409.08 478.56,389.42 478.78,409.75 479.00,388.74 479.22,410.47 479.44,387.69 479.66,411.86 479.88,387.94 480.10,410.85 480.32,388.99 480.53,409.82 480.75,390.70 480.97,408.53 481.19,393.19 481.41,406.36 481.63,394.00 481.85,405.62 482.07,394.48 482.29,404.80 482.51,394.81 482.73,404.32 482.95,394.79 483.17,404.23 483.39,394.13 483.61,404.14 483.83,394.07 484.05,404.49 484.27,393.33 484.49,406.38 484.70,391.17 484.92,407.11 485.14,390.28 485.36,408.28 485.58,389.96 485.80,408.77 486.02,394.20 486.24,404.96 486.46,393.80 486.68,405.15 486.90,393.50 487.12,405.27 487.34,393.24 487.56,407.72 487.78,390.75 488.00,407.99 488.22,390.21 488.44,407.97 488.65,389.93 488.87,408.44 489.09,389.72 489.31,411.60 489.53,386.51 489.75,411.30 489.97,387.31 490.19,410.17 490.41,388.63 490.63,409.62 490.85,392.00 491.07,406.31 491.29,392.67 491.51,405.86 491.73,393.72 491.95,405.60 492.17,393.26 492.39,407.05 492.60,391.93 492.82,408.13 493.04,390.76 493.26,408.88 493.48,389.52 493.70,409.93 493.92,386.06 494.14,414.28 494.36,383.35 494.58,415.16 494.80,382.73 495.02,414.73 495.24,384.40 495.46,413.68 495.68,384.85 495.90,412.60 496.12,386.64 496.34,410.97 496.55,388.94 496.77,409.36 496.99,391.14 497.21,408.13 497.43,392.89 497.65,407.57 497.87,392.96 498.09,406.67 498.31,393.27 498.53,406.32 498.75,393.52 498.97,405.40 499.19,393.45 499.41,404.95 499.63,393.01 499.85,404.64 500.07,392.96 500.29,404.76 500.50,392.53 500.72,405.40 500.94,391.92 501.16,406.10 501.38,391.51 501.60,406.85 501.82,390.72 502.04,407.41 502.26,389.92 502.48,407.91 502.70,389.23 502.92,408.66 503.14,389.84 503.36,408.26 503.58,390.47 503.80,407.22 504.02,391.00 504.24,407.27 504.45,391.42 504.67,407.65 504.89,390.78 505.11,408.24 505.33,390.89 505.55,408.95 505.77,390.02 505.99,409.47 506.21,389.83 506.43,409.30 506.65,389.45 506.87,410.28 507.09,388.52 507.31,410.44 507.53,387.78 507.75,410.09 507.97,387.95 508.19,410.21 508.41,388.67 508.62,408.78 508.84,389.57 509.06,408.08 509.28,390.51 509.50,407.71 509.72,391.34 509.94,408.05 510.16,390.70 510.38,408.65 510.60,390.48 510.82,408.49 511.04,390.02 511.26,408.88 511.48,389.59 511.70,409.30 511.92,388.56 512.14,409.87 512.36,387.77 512.57,409.69 512.79,389.13 513.01,409.46 513.23,392.90 513.45,405.61 513.67,393.91 513.89,405.51 514.11,394.30 514.33,404.84 514.55,394.64 514.77,406.71 514.99,393.44 515.21,406.62 515.43,393.21 515.65,406.91 515.87,392.53 516.09,407.65 516.31,392.41 516.52,408.23 516.74,391.34 516.96,409.11 517.18,390.22 517.40,410.30 517.62,388.98 517.84,411.40 518.06,392.65 518.28,406.79 518.50,393.36 518.72,406.17 518.94,393.55 519.16,405.60 519.38,394.24 519.60,405.65 519.82,393.92 520.04,404.94 520.26,394.76 520.47,404.31 520.69,395.35 520.91,403.95 521.13,395.71 521.35,403.74 521.57,396.29 521.79,403.42 522.01,396.69 522.23,403.33 522.45,396.26 522.67,403.40 522.89,395.40 523.11,404.32 523.33,394.99 523.55,404.16 523.77,394.40 523.99,404.46 524.21,394.02 524.42,404.90 524.64,393.55 524.86,404.98 525.08,393.12 525.30,404.88 525.52,393.05 525.74,404.93 525.96,393.25 526.18,404.60" fill="none" stroke="rgb(88,170,226)" stroke-width="1.0" stroke-linejoin="round"/>
<polyline points="87.50,458.43 87.72,484.00 87.94,458.89 88.16,483.81 88.38,459.74 88.60,483.40 88.82,461.12 89.04,481.85 89.26,467.19 89.48,476.37 89.69,468.02 89.91,476.13 90.13,468.24 90.35,475.63 90.57,468.70 90.79,480.83 91.01,464.36 91.23,481.41 91.45,463.93 91.67,481.89 91.89,463.91 92.11,482.97 92.33,464.39 92.55,482.35 92.77,465.57 92.99,481.81 93.21,466.33 93.43,481.35 93.64,467.01 93.86,480.55 94.08,466.27 94.30,479.80 94.52,466.16 94.74,478.69 94.96,466.35 95.18,478.00 95.40,466.98 95.62,477.05 95.84,467.53 96.06,476.45 96.28,468.17 96.50,476.00 96.72,468.56 96.94,475.79 97.16,470.37 97.38,473.63 97.59,470.51 97.81,473.66 98.03,470.26 98.25,474.20 98.47,469.92 98.69,474.56 98.91,468.44 99.13,476.68 99.35,467.66 99.57,477.87 99.79,467.25 100.01,478.92 100.23,466.39 100.45,481.67 100.67,463.82 100.89,482.90 101.11,463.00 101.33,484.11 101.54,462.64 101.76,484.73 101.98,460.30 102.20,487.23 102.42,458.95 102.64,489.28 102.86,456.90 103.08,491.82 103.30,456.60 103.52,489.63 103.74,457.31 103.96,487.48 104.18,458.92 104.40,485.47 104.62,460.14 104.84,484.61 105.06,460.00 105.28,483.85 105.49,460.81 105.71,482.42 105.93,461.79 106.15,482.29 106.37,463.75 106.59,481.37 106.81,465.86 107.03,480.63 107.25,467.50 107.47,479.86 107.69,467.05 107.91,479.33 108.13,466.51 108.35,479.31 108.57,466.08 108.79,479.57 109.01,465.85 109.23,480.30 109.44,465.49 109.66,481.15 109.88,465.53 110.10,482.22 110.32,464.09 110.54,482.38 110.76,462.09 110.98,482.57 111.20,460.90 111.42,483.07 111.64,461.29 111.86,483.98 112.08,462.13 112.30,484.27 112.52,463.50 112.74,483.75 112.96,464.37 113.18,480.84 113.40,466.72 113.61,479.48 113.83,467.38 114.05,479.08 114.27,467.51 114.49,479.44 114.71,465.93 114.93,481.65 115.15,465.83 115.37,482.62 115.59,465.61 115.81,482.83 116.03,465.35 116.25,483.36 116.47,465.03 116.69,484.37 116.91,464.70 117.13,483.01 117.35,464.50 117.56,481.65 117.78,464.44 118.00,480.19 118.22,463.61 118.44,480.11 118.66,463.33 118.88,480.37 119.10,462.39 119.32,480.98 119.54,462.58 119.76,481.64 119.98,463.66 120.20,482.08 120.42,464.66 120.64,482.17 120.86,465.39 121.08,482.64 121.30,465.21 121.51,481.57 121.73,464.59 121.95,481.94 122.17,464.02 122.39,482.00 122.61,463.62 122.83,478.14 123.05,466.50 123.27,479.06 123.49,466.30 123.71,479.31 123.93,466.03 124.15,479.45 124.37,461.14 124.59,485.06 124.81,460.89 125.03,484.75 125.25,460.30 125.46,485.69 125.68,459.34 125.90,480.29 126.12,463.87 126.34,480.32 126.56,463.61 126.78,480.69 127.00,462.88 127.22,481.05 127.44,462.90 127.66,486.87 127.88,457.39 128.10,488.82 128.32,457.71 128.54,488.87 128.76,458.02 128.98,489.63 129.20,458.45 129.41,488.20 129.63,458.27 129.85,486.63 130.07,457.90 130.29,484.84 130.51,458.06 130.73,483.41 130.95,459.68 131.17,482.47 131.39,461.38 131.61,481.28 131.83,462.54 132.05,480.57 132.27,462.90 132.49,480.93 132.71,462.94 132.93,480.39 133.15,463.37 133.37,481.33 133.58,464.07 133.80,481.97 134.02,468.31 134.24,477.19 134.46,468.75 134.68,477.59 134.90,468.64 135.12,477.92 135.34,468.47 135.56,482.99 135.78,465.86 136.00,483.23 136.22,463.99 136.44,484.49 136.66,462.44 136.88,485.12 137.10,460.43 137.32,487.67 137.53,459.15 137.75,486.69 137.97,460.78 138.19,484.74 138.41,461.74 138.63,483.44 138.85,463.71 139.07,481.64 139.29,465.01 139.51,480.21 139.73,466.26 139.95,479.15 140.17,465.96 140.39,480.71 140.61,464.65 140.83,481.88 141.05,464.03 141.27,483.33 141.48,463.58 141.70,482.28 141.92,468.06 142.14,476.94 142.36,468.44 142.58,476.64 142.80,468.40 143.02,476.92 143.24,467.87 143.46,476.93 143.68,463.52 143.90,482.45 144.12,462.56 144.34,481.71 144.56,462.83 144.78,481.17 145.00,463.20 145.22,480.59 145.43,463.76 145.65,481.11 145.87,463.85 146.09,481.39 146.31,464.10 146.53,482.31 146.75,467.96 146.97,477.48 147.19,467.98 147.41,477.19 147.63,468.04 147.85,477.09 148.07,468.33 148.29,477.22 148.51,464.16 148.73,482.67 148.95,462.85 149.17,483.66 149.38,461.17 149.60,484.50 149.82,461.35 150.04,484.56 150.26,461.36 150.48,483.67 150.70,461.11 150.92,483.47 151.14,461.39 151.36,482.29 151.58,466.01 151.80,477.39 152.02,466.49 152.24,476.92 152.46,467.00 152.68,477.28 152.90,467.42 153.12,480.62 153.33,466.16 153.55,480.77 153.77,466.28 153.99,481.71 154.21,466.74 154.43,481.95 154.65,466.74 154.87,484.84 155.09,465.23 155.31,483.99 155.53,463.57 155.75,483.17 155.97,462.44 156.19,483.58 156.41,461.48 156.63,483.54 156.85,461.66 157.07,484.10 157.29,461.84 157.50,484.60 157.72,462.66 157.94,478.36 158.16,467.19 158.38,476.87 158.60,468.23 158.82,475.00 159.04,469.09 159.26,474.27 159.48,469.26 159.70,473.59 159.92,470.18 160.14,473.68 160.36,470.16 160.58,473.74 160.80,470.00 161.02,473.99 161.24,468.73 161.45,475.60 161.67,468.36 161.89,476.02 162.11,468.18 162.33,476.18 162.55,468.26 162.77,477.14 162.99,467.40 163.21,477.66 163.43,466.97 163.65,478.11 163.87,466.05 164.09,478.75 164.31,463.71 164.53,480.96 164.75,462.56 164.97,481.92 165.19,461.68 165.40,482.85 165.62,460.71 165.84,483.88 166.06,459.58 166.28,484.72 166.50,459.12 166.72,486.40 166.94,458.69 167.16,487.27 167.38,458.49 167.60,487.68 167.82,457.03 168.04,488.35 168.26,456.98 168.48,488.41 168.70,457.21 168.92,486.98 169.14,459.86 169.35,484.58 169.57,460.84 169.79,482.61 170.01,461.96 170.23,481.71 170.45,463.11 170.67,480.93 170.89,467.42 171.11,476.63 171.33,468.20 171.55,476.08 171.77,468.57 171.99,475.77 172.21,468.93 172.43,476.37 172.65,468.93 172.87,476.26 173.09,468.66 173.30,476.21 173.52,468.43 173.74,476.56 173.96,466.00 174.18,479.55 174.40,465.74 174.62,480.09 174.84,465.05 175.06,480.52 175.28,465.04 175.50,481.43 175.72,466.36 175.94,479.04 176.16,466.76 176.38,478.93 176.60,467.06 176.82,478.56 177.04,466.80 177.26,480.86 177.47,464.95 177.69,481.95 177.91,463.98 178.13,482.23 178.35,463.16 178.57,483.11 178.79,461.04 179.01,483.61 179.23,459.68 179.45,484.08 179.67,460.13 179.89,483.66 180.11,460.93 180.33,480.88 180.55,464.02 180.77,480.49 180.99,464.23 181.21,480.64 181.42,464.13 181.64,481.52 181.86,463.92 182.08,483.00 182.30,461.96 182.52,484.41 182.74,460.98 182.96,486.77 183.18,458.83 183.40,488.08 183.62,455.34 183.84,490.81 184.06,456.50 184.28,488.41 184.50,458.18 184.72,486.97 184.94,459.87 185.16,478.20 185.37,466.42 185.59,477.45 185.81,467.44 186.03,476.69 186.25,468.35 186.47,475.84 186.69,468.51 186.91,477.23 187.13,467.71 187.35,477.08 187.57,467.98 187.79,476.83 188.01,467.44 188.23,477.51 188.45,467.75 188.67,477.12 188.89,467.22 189.11,477.59 189.32,467.22 189.54,478.15 189.76,467.00 189.98,479.99 190.20,465.69 190.42,480.17 190.64,465.41 190.86,480.48 191.08,465.42 191.30,480.79 191.52,461.98 191.74,484.31 191.96,462.62 192.18,483.20 192.40,463.45 192.62,482.97 192.84,464.05 193.06,481.63 193.27,464.61 193.49,481.66 193.71,464.38 193.93,482.26 194.15,463.81 194.37,482.56 194.59,463.44 194.81,477.74 195.03,467.06 195.25,477.60 195.47,467.45 195.69,476.88 195.91,467.81 196.13,476.63 196.35,467.20 196.57,477.58 196.79,468.14 197.01,476.74 197.22,468.79 197.44,476.87 197.66,468.19 197.88,477.50 198.10,468.58 198.32,476.47 198.54,468.33 198.76,477.13 198.98,467.29 199.20,478.12 199.42,466.20 199.64,483.93 199.86,460.84 200.08,484.09 200.30,461.12 200.52,484.00 200.74,461.79 200.96,483.02 201.18,464.62 201.39,480.08 201.61,465.61 201.83,479.26 202.05,466.62 202.27,478.39 202.49,467.42 202.71,478.97 202.93,466.59 203.15,479.69 203.37,466.18 203.59,480.31 203.81,465.63 204.03,481.13 204.25,464.56 204.47,480.85 204.69,464.97 204.91,481.65 205.13,464.08 205.34,482.47 205.56,463.24 205.78,482.70 206.00,460.73 206.22,485.89 206.44,460.34 206.66,487.45 206.88,459.35 207.10,486.58 207.32,460.29 207.54,483.45 207.76,463.83 207.98,483.17 208.20,464.06 208.42,483.15 208.64,462.13 208.86,484.71 209.08,461.44 209.29,488.50 209.51,458.14 209.73,489.59 209.95,456.17 210.17,490.58 210.39,455.21 210.61,492.48 210.83,452.14 211.05,493.16 211.27,453.10 211.49,493.09 211.71,454.53 211.93,491.16 212.15,454.89 212.37,489.35 212.59,458.05 212.81,487.26 213.03,460.97 213.24,484.29 213.46,463.22 213.68,482.56 213.90,468.16 214.12,476.42 214.34,468.57 214.56,475.78 214.78,468.96 215.00,475.25 215.22,468.71 215.44,475.60 215.66,463.77 215.88,481.20 216.10,462.35 216.32,481.61 216.54,462.75 216.76,481.20 216.98,463.93 217.19,480.51 217.41,465.23 217.63,480.08 217.85,466.41 218.07,478.60 218.29,467.17 218.51,477.68 218.73,469.12 218.95,475.17 219.17,469.23 219.39,475.57 219.61,468.90 219.83,475.85 220.05,468.60 220.27,476.34 220.49,468.34 220.71,476.38 220.93,468.05 221.15,476.79 221.36,467.78 221.58,477.18 221.80,467.39 222.02,481.44 222.24,463.89 222.46,481.81 222.68,463.24 222.90,482.45 223.12,462.36 223.34,483.20 223.56,462.51 223.78,482.94 224.00,462.02 224.22,483.21 224.44,462.23 224.66,483.37 224.88,461.36 225.10,484.13 225.31,460.36 225.53,485.01 225.75,459.21 225.97,485.29 226.19,459.64 226.41,485.30 226.63,460.41 226.85,482.55 227.07,462.48 227.29,483.35 227.51,461.91 227.73,484.09 227.95,459.87 228.17,484.97 228.39,461.87 228.61,481.98 228.83,461.42 229.05,483.13 229.26,459.78 229.48,485.02 229.70,458.82 229.92,494.23 230.14,451.60 230.36,492.87 230.58,453.48 230.80,490.19 231.02,456.17 231.24,488.64 231.46,459.17 231.68,479.50 231.90,466.50 232.12,476.04 232.34,467.39 232.56,476.02 232.78,467.10 233.00,476.15 233.21,469.07 233.43,474.66 233.65,468.30 233.87,475.87 234.09,467.20 234.31,477.17 234.53,466.14 234.75,487.38 234.97,459.04 235.19,484.84 235.41,460.68 235.63,482.64 235.85,462.44 236.07,480.77 236.29,463.86 236.51,477.67 236.73,466.86 236.95,476.87 237.16,467.43 237.38,476.35 237.60,468.00 237.82,476.90 238.04,466.01 238.26,479.27 238.48,465.02 238.70,480.26 238.92,464.74 239.14,480.97 239.36,465.47 239.58,477.41 239.80,468.07 240.02,477.37 240.24,468.33 240.46,477.69 240.68,467.61 240.90,478.10 241.12,464.92 241.33,482.29 241.55,463.69 241.77,482.91 241.99,462.87 242.21,484.39 242.43,462.29 242.65,485.32 242.87,460.72 243.09,486.74 243.31,460.64 243.53,485.46 243.75,460.03 243.97,484.67 244.19,459.69 244.41,478.50 244.63,466.09 244.85,477.28 245.07,467.72 245.28,476.64 245.50,468.86 245.72,475.74 245.94,467.42 246.16,479.51 246.38,466.79 246.60,480.13 246.82,466.43 247.04,480.99 247.26,465.62 247.48,481.48 247.70,464.04 247.92,482.87 248.14,462.42 248.36,482.84 248.58,462.34 248.80,483.33 249.02,462.89 249.23,482.84 249.45,463.38 249.67,482.33 249.89,463.42 250.11,481.78 250.33,463.79 250.55,481.42 250.77,466.68 250.99,478.10 251.21,466.73 251.43,478.13 251.65,466.13 251.87,478.31 252.09,465.28 252.31,479.98 252.53,463.57 252.75,481.19 252.97,462.95 253.18,482.21 253.40,463.03 253.62,482.84 253.84,462.51 254.06,485.64 254.28,460.13 254.50,486.55 254.72,459.10 254.94,487.22 255.16,457.71 255.38,486.14 255.60,459.64 255.82,485.19 256.04,461.54 256.26,483.67 256.48,463.49 256.70,483.28 256.92,463.72 257.13,479.52 257.35,465.99 257.57,479.15 257.79,466.23 258.01,479.00 258.23,466.09 258.45,479.76 258.67,465.22 258.89,482.68 259.11,463.16 259.33,483.30 259.55,461.75 259.77,484.82 259.99,460.74 260.21,485.42 260.43,462.41 260.65,482.87 260.87,462.13 261.08,483.24 261.30,461.69 261.52,483.33 261.74,461.31 261.96,487.27 262.18,457.60 262.40,486.43 262.62,459.84 262.84,484.40 263.06,461.32 263.28,481.83 263.50,462.09 263.72,475.88 263.94,467.69 264.16,475.68 264.38,467.96 264.60,475.27 264.82,468.07 265.04,475.14 265.25,467.66 265.47,475.87 265.69,468.07 265.91,475.55 266.13,468.40 266.35,475.26 266.57,468.06 266.79,477.49 267.01,465.33 267.23,477.22 267.45,465.11 267.67,477.08 267.89,464.63 268.11,476.80 268.33,464.29 268.55,476.62 268.77,464.29 268.99,476.55 269.20,464.70 269.42,476.31 269.64,465.48 269.86,475.94 270.08,466.68 270.30,475.66 270.52,467.20 270.74,475.44 270.96,467.52 271.18,475.33 271.40,467.87 271.62,473.88 271.84,469.54 272.06,473.65 272.28,469.85 272.50,473.39 272.72,470.11 272.94,473.15 273.15,470.04 273.37,473.21 273.59,470.23 273.81,472.99 274.03,470.37 274.25,472.83 274.47,470.49 274.69,472.90 274.91,470.13 275.13,473.15 275.35,470.15 275.57,473.21 275.79,470.03 276.01,473.51 276.23,469.77 276.45,473.13 276.67,470.32 276.89,473.46 277.10,470.18 277.32,473.78 277.54,469.89 277.76,474.25 277.98,469.03 278.20,475.57 278.42,468.70 278.64,475.94 278.86,468.35 279.08,476.21 279.30,467.85 279.52,476.28 279.74,467.70 279.96,477.33 280.18,466.44 280.40,478.87 280.62,465.39 280.84,480.09 281.05,464.01 281.27,483.90 281.49,461.47 281.71,484.49 281.93,461.14 282.15,485.84 282.37,460.53 282.59,485.57 282.81,465.87 283.03,479.11 283.25,467.13 283.47,477.68 283.69,468.49 283.91,476.83 284.13,468.81 284.35,479.31 284.57,467.58 284.79,479.78 285.00,467.51 285.22,480.03 285.44,467.07 285.66,480.30 285.88,466.42 286.10,483.85 286.32,464.40 286.54,484.06 286.76,464.27 286.98,484.05 287.20,464.60 287.42,483.88 287.64,465.08 287.86,482.69 288.08,464.90 288.30,481.52 288.52,464.66 288.74,480.71 288.96,464.09 289.17,480.93 289.39,463.14 289.61,480.75 289.83,462.76 290.05,481.88 290.27,462.35 290.49,482.57 290.71,462.40 290.93,482.50 291.15,462.97 291.37,482.44 291.59,463.68 291.81,482.69 292.03,463.91 292.25,483.15 292.47,467.56 292.69,477.82 292.91,467.72 293.12,477.36 293.34,467.78 293.56,477.68 293.78,467.46 294.00,478.68 294.22,467.10 294.44,479.25 294.66,466.68 294.88,479.47 295.10,466.30 295.32,480.30 295.54,462.34 295.76,485.74 295.98,461.28 296.20,486.24 296.42,460.65 296.64,487.14 296.86,460.44 297.07,487.65 297.29,465.82 297.51,479.86 297.73,465.24 297.95,480.59 298.17,464.85 298.39,480.70 298.61,464.31 298.83,489.31 299.05,456.27 299.27,490.26 299.49,455.73 299.71,490.36 299.93,455.23 300.15,490.93 300.37,459.53 300.59,485.50 300.81,460.67 301.02,484.13 301.24,461.50 301.46,482.51 301.68,462.98 301.90,482.28 302.12,463.75 302.34,481.70 302.56,464.69 302.78,481.00 303.00,465.07 303.22,480.98 303.44,463.59 303.66,485.12 303.88,459.36 304.10,486.40 304.32,458.02 304.54,488.24 304.76,454.37 304.97,490.23 305.19,452.80 305.41,489.70 305.63,451.97 305.85,488.67 306.07,454.71 306.29,487.43 306.51,457.63 306.73,479.68 306.95,465.69 307.17,479.03 307.39,465.73 307.61,478.92 307.83,465.58 308.05,478.62 308.27,465.28 308.49,484.54 308.71,458.17 308.93,486.40 309.14,456.90 309.36,486.66 309.58,455.90 309.80,488.66 310.02,463.85 310.24,479.59 310.46,465.38 310.68,478.37 310.90,466.99 311.12,477.22 311.34,467.42 311.56,481.97 311.78,462.35 312.00,483.03 312.22,460.87 312.44,483.38 312.66,459.66 312.88,482.68 313.09,461.34 313.31,476.33 313.53,467.28 313.75,476.11 313.97,468.00 314.19,475.60 314.41,468.79 314.63,474.96 314.85,469.72 315.07,474.25 315.29,470.37 315.51,474.25 315.73,470.35 315.95,474.22 316.17,470.24 316.39,477.77 316.61,467.95 316.83,477.76 317.04,467.65 317.26,477.90 317.48,467.68 317.70,477.94 317.92,469.33 318.14,475.39 318.36,469.00 318.58,475.83 318.80,468.71 319.02,476.18 319.24,468.51 319.46,476.75 319.68,465.22 319.90,481.84 320.12,463.66 320.34,483.01 320.56,462.76 320.78,483.92 320.99,462.63 321.21,477.54 321.43,467.34 321.65,476.99 321.87,467.52 322.09,476.51 322.31,467.90 322.53,475.99 322.75,465.56 322.97,479.19 323.19,466.32 323.41,478.37 323.63,466.76 323.85,478.27 324.07,466.56 324.29,478.53 324.51,466.59 324.73,478.74 324.94,465.99 325.16,478.74 325.38,465.80 325.60,479.06 325.82,465.33 326.04,479.65 326.26,465.02 326.48,480.25 326.70,465.41 326.92,480.38 327.14,465.70 327.36,480.45 327.58,466.03 327.80,480.41 328.02,466.40 328.24,479.69 328.46,466.32 328.68,479.11 328.89,466.56 329.11,475.45 329.33,469.27 329.55,475.24 329.77,469.42 329.99,475.02 330.21,469.59 330.43,475.20 330.65,468.98 330.87,480.23 331.09,464.86 331.31,481.81 331.53,463.61 331.75,484.16 331.97,461.35 332.19,486.51 332.41,459.68 332.63,488.53 332.85,456.89 333.06,490.33 333.28,458.48 333.50,486.47 333.72,461.17 333.94,483.46 334.16,463.79 334.38,480.25 334.60,465.46 334.82,479.82 335.04,466.35 335.26,479.09 335.48,467.09 335.70,475.24 335.92,469.55 336.14,475.17 336.36,469.82 336.58,475.06 336.80,469.99 337.01,474.88 337.23,468.50 337.45,478.19 337.67,468.08 337.89,479.19 338.11,467.33 338.33,479.68 338.55,466.34 338.77,480.86 338.99,464.75 339.21,482.36 339.43,462.82 339.65,484.19 339.87,460.94 340.09,485.69 340.31,458.07 340.53,490.50 340.75,457.06 340.96,489.48 341.18,458.69 341.40,486.94 341.62,460.80 341.84,484.32 342.06,463.51 342.28,482.33 342.50,464.65 342.72,480.38 342.94,466.44 343.16,478.61 343.38,467.22 343.60,478.65 343.82,466.93 344.04,479.28 344.26,466.57 344.48,479.85 344.70,465.82 344.91,480.45 345.13,464.98 345.35,480.96 345.57,463.94 345.79,481.63 346.01,463.90 346.23,481.49 346.45,464.84 346.67,480.26 346.89,466.20 347.11,478.66 347.33,466.86 347.55,479.46 347.77,465.46 347.99,480.51 348.21,464.29 348.43,482.27 348.65,462.36 348.86,483.02 349.08,462.73 349.30,481.56 349.52,464.04 349.74,480.90 349.96,466.40 350.18,478.22 350.40,466.97 350.62,477.65 350.84,467.66 351.06,476.68 351.28,468.35 351.50,476.44 351.72,467.71 351.94,477.24 352.16,467.96 352.38,477.16 352.60,468.01 352.82,477.25 353.03,467.61 353.25,477.63 353.47,466.96 353.69,478.32 353.91,466.33 354.13,478.71 354.35,466.11 354.57,478.35 354.79,468.90 355.01,475.10 355.23,469.04 355.45,474.99 355.67,469.23 355.89,474.88 356.11,469.46 356.33,475.10 356.55,469.42 356.77,474.80 356.98,469.57 357.20,475.04 357.42,469.44 357.64,475.04 357.86,469.31 358.08,477.81 358.30,467.32 358.52,477.87 358.74,467.99 358.96,477.39 359.18,468.23 359.40,477.32 359.62,470.15 359.84,474.66 360.06,469.55 360.28,475.12 360.50,468.92 360.72,475.74 360.93,468.32 361.15,480.83 361.37,464.02 361.59,481.86 361.81,462.87 362.03,482.86 362.25,462.13 362.47,483.03 362.69,462.46 362.91,476.19 363.13,468.23 363.35,476.08 363.57,468.26 363.79,476.09 364.01,468.02 364.23,476.48 364.45,462.19 364.67,483.40 364.88,460.70 365.10,484.50 365.32,461.08 365.54,483.87 365.76,461.47 365.98,483.75 366.20,461.80 366.42,482.79 366.64,462.27 366.86,484.03 367.08,461.18 367.30,484.98 367.52,461.23 367.74,486.17 367.96,461.25 368.18,485.33 368.40,461.15 368.62,484.17 368.83,461.61 369.05,483.01 369.27,461.77 369.49,484.65 369.71,460.36 369.93,485.46 370.15,458.45 370.37,486.65 370.59,457.57 370.81,485.50 371.03,459.83 371.25,484.96 371.47,460.62 371.69,484.08 371.91,461.84 372.13,483.59 372.35,460.07 372.57,485.52 372.79,459.57 373.00,485.13 373.22,459.67 373.44,485.84 373.66,459.56 373.88,485.08 374.10,460.85 374.32,484.27 374.54,461.22 374.76,483.56 374.98,461.73 375.20,482.41 375.42,462.71 375.64,475.89 375.86,468.35 376.08,475.75 376.30,468.18 376.52,476.04 376.74,467.94 376.95,476.30 377.17,462.30 377.39,482.81 377.61,461.60 377.83,484.30 378.05,460.92 378.27,483.31 378.49,462.40 378.71,476.43 378.93,468.17 379.15,475.89 379.37,468.75 379.59,475.33 379.81,469.22 380.03,474.88 380.25,469.80 380.47,474.58 380.69,470.23 380.90,474.44 381.12,470.22 381.34,474.43 381.56,470.15 381.78,474.54 382.00,468.03 382.22,477.93 382.44,467.77 382.66,478.17 382.88,467.63 383.10,478.29 383.32,467.53 383.54,478.37 383.76,467.22 383.98,478.94 384.20,466.81 384.42,479.90 384.64,466.44 384.85,480.66 385.07,465.89 385.29,480.78 385.51,465.28 385.73,481.66 385.95,465.17 386.17,482.13 386.39,464.36 386.61,481.13 386.83,464.26 387.05,480.82 387.27,464.03 387.49,480.67 387.71,464.37 387.93,480.13 388.15,464.72 388.37,479.00 388.59,466.14 388.80,478.11 389.02,466.27 389.24,478.48 389.46,466.03 389.68,478.82 389.90,468.38 390.12,476.34 390.34,468.07 390.56,476.53 390.78,467.43 391.00,476.82 391.22,467.02 391.44,477.28 391.66,462.33 391.88,481.78 392.10,461.56 392.32,482.63 392.54,460.56 392.75,483.29 392.97,459.79 393.19,482.52 393.41,462.22 393.63,481.18 393.85,463.22 394.07,480.20 394.29,464.52 394.51,479.21 394.73,466.36 394.95,477.52 395.17,466.83 395.39,477.01 395.61,467.01 395.83,476.72 396.05,466.81 396.27,477.54 396.49,467.77 396.71,475.89 396.92,467.28 397.14,476.33 397.36,466.92 397.58,476.68 397.80,466.58 398.02,482.56 398.24,460.81 398.46,482.76 398.68,461.09 398.90,482.40 399.12,461.44 399.34,482.16 399.56,462.60 399.78,480.81 400.00,462.84 400.22,481.31 400.44,462.26 400.66,481.58 400.87,461.11 401.09,481.40 401.31,460.78 401.53,482.09 401.75,461.79 401.97,481.54 402.19,462.87 402.41,480.49 402.63,463.73 402.85,477.37 403.07,466.59 403.29,478.10 403.51,466.47 403.73,478.68 403.95,465.65 404.17,479.48 404.39,460.21 404.61,485.97 404.82,458.39 405.04,487.27 405.26,457.33 405.48,487.83 405.70,456.59 405.92,489.56 406.14,454.66 406.36,490.80 406.58,453.47 406.80,491.50 407.02,454.04 407.24,491.79 407.46,454.57 407.68,479.90 407.90,464.79 408.12,479.42 408.34,465.24 408.56,479.27 408.77,465.48 408.99,478.68 409.21,459.21 409.43,486.80 409.65,459.58 409.87,486.91 410.09,459.08 410.31,487.28 410.53,458.52 410.75,488.08 410.97,457.74 411.19,486.86 411.41,457.70 411.63,485.40 411.85,458.23 412.07,484.08 412.29,459.65 412.51,477.61 412.72,466.17 412.94,477.18 413.16,467.07 413.38,476.40 413.60,467.60 413.82,475.95 414.04,465.60 414.26,477.91 414.48,466.25 414.70,477.54 414.92,466.30 415.14,478.03 415.36,465.37 415.58,481.06 415.80,462.59 416.02,482.38 416.24,461.32 416.46,483.41 416.68,460.63 416.89,484.32 417.11,463.37 417.33,481.15 417.55,463.19 417.77,481.38 417.99,463.07 418.21,482.04 418.43,462.51 418.65,483.19 418.87,458.39 419.09,487.59 419.31,459.06 419.53,486.32 419.75,460.47 419.97,484.48 420.19,462.00 420.41,481.26 420.63,464.59 420.84,480.41 421.06,465.09 421.28,479.44 421.50,465.83 421.72,478.91 421.94,465.17 422.16,479.61 422.38,465.45 422.60,479.48 422.82,465.96 423.04,478.93 423.26,466.05 423.48,479.37 423.70,466.47 423.92,478.94 424.14,466.47 424.36,479.43 424.58,466.23 424.79,479.43 425.01,465.61 425.23,480.53 425.45,464.95 425.67,480.20 425.89,465.02 426.11,480.01 426.33,465.44 426.55,480.06 426.77,465.89 426.99,479.54 427.21,465.96 427.43,480.51 427.65,464.52 427.87,481.55 428.09,463.40 428.31,482.96 428.53,462.23 428.74,482.26 428.96,463.33 429.18,481.94 429.40,463.67 429.62,480.78 429.84,464.90 430.06,479.88 430.28,466.25 430.50,479.10 430.72,466.95 430.94,478.09 431.16,468.00 431.38,477.94 431.60,468.45 431.82,476.95 432.04,468.19 432.26,477.44 432.48,468.00 432.69,477.39 432.91,467.57 433.13,479.14 433.35,465.94 433.57,480.14 433.79,464.75 434.01,480.19 434.23,465.02 434.45,479.92 434.67,465.42 434.89,477.19 435.11,467.59 435.33,476.92 435.55,468.07 435.77,476.49 435.99,468.22 436.21,476.32 436.43,469.42 436.64,474.84 436.86,469.21 437.08,475.26 437.30,468.69 437.52,475.41 437.74,468.42 437.96,478.91 438.18,464.91 438.40,479.23 438.62,464.81 438.84,479.75 439.06,465.31 439.28,480.06 439.50,465.58 439.72,475.88 439.94,468.62 440.16,475.62 440.38,468.54 440.60,475.46 440.81,468.70 441.03,475.19 441.25,466.92 441.47,477.61 441.69,467.58 441.91,477.23 442.13,467.83 442.35,478.46 442.57,466.05 442.79,478.83 443.01,465.29 443.23,480.53 443.45,464.10 443.67,481.95 443.89,462.50 444.11,482.54 444.33,459.01 444.55,486.41 444.76,458.11 444.98,487.54 445.20,458.11 445.42,486.62 445.64,458.77 445.86,486.74 446.08,462.75 446.30,481.49 446.52,464.09 446.74,480.06 446.96,465.04 447.18,478.65 447.40,466.28 447.62,480.40 447.84,463.75 448.06,481.35 448.28,462.52 448.50,482.44 448.71,461.02 448.93,482.92 449.15,464.41 449.37,479.56 449.59,464.99 449.81,479.03 450.03,465.21 450.25,478.77 450.47,465.53 450.69,479.96 450.91,462.25 451.13,483.84 451.35,462.25 451.57,484.61 451.79,461.83 452.01,485.77 452.23,461.44 452.45,485.47 452.66,461.69 452.88,483.30 453.10,463.84 453.32,481.66 453.54,465.53 453.76,479.18 453.98,466.96 454.20,477.49 454.42,467.94 454.64,476.36 454.86,468.82 455.08,475.02 455.30,469.32 455.52,474.69 455.74,469.49 455.96,474.98 456.18,469.13 456.40,475.42 456.61,468.78 456.83,475.57 457.05,468.24 457.27,476.07 457.49,467.60 457.71,476.56 457.93,467.19 458.15,477.15 458.37,466.47 458.59,477.73 458.81,464.34 459.03,480.33 459.25,463.26 459.47,481.02 459.69,462.81 459.91,482.69 460.13,461.84 460.35,483.51 460.56,461.78 460.78,483.63 461.00,462.41 461.22,482.86 461.44,463.62 461.66,480.90 461.88,464.78 462.10,480.15 462.32,464.69 462.54,479.70 462.76,464.56 462.98,479.24 463.20,464.06 463.42,478.91 463.64,466.91 463.86,476.55 464.08,467.19 464.30,476.53 464.52,467.27 464.73,476.19 464.95,467.53 465.17,478.53 465.39,466.09 465.61,478.46 465.83,466.45 466.05,478.67 466.27,466.02 466.49,479.34 466.71,465.45 466.93,480.32 467.15,464.81 467.37,480.77 467.59,464.97 467.81,479.86 468.03,465.87 468.25,479.33 468.47,469.39 468.68,474.76 468.90,469.29 469.12,475.27 469.34,468.48 469.56,475.93 469.78,467.55 470.00,482.94 470.22,460.00 470.44,484.93 470.66,459.25 470.88,487.47 471.10,457.81 471.32,489.79 471.54,457.29 471.76,488.41 471.98,457.80 472.20,487.51 472.42,459.44 472.63,485.75 472.85,460.04 473.07,484.07 473.29,462.13 473.51,482.07 473.73,463.80 473.95,480.93 474.17,465.29 474.39,479.84 474.61,464.77 474.83,481.16 475.05,463.93 475.27,481.86 475.49,463.73 475.71,482.22 475.93,462.61 476.15,482.60 476.37,461.77 476.58,483.73 476.80,460.37 477.02,484.26 477.24,459.65 477.46,486.37 477.68,458.32 477.90,490.02 478.12,456.09 478.34,491.14 478.56,457.37 478.78,489.06 479.00,459.53 479.22,485.36 479.44,461.49 479.66,483.15 479.88,463.01 480.10,481.11 480.32,465.24 480.53,478.51 480.75,467.03 480.97,476.60 481.19,469.46 481.41,474.72 481.63,469.03 481.85,475.02 482.07,468.76 482.29,475.39 482.51,467.82 482.73,481.10 482.95,461.45 483.17,485.33 483.39,458.36 483.61,488.63 483.83,456.30 484.05,488.87 484.27,457.58 484.49,487.98 484.70,459.01 484.92,485.89 485.14,459.66 485.36,484.66 485.58,461.72 485.80,482.67 486.02,465.81 486.24,478.43 486.46,466.90 486.68,477.93 486.90,465.91 487.12,478.93 487.34,465.18 487.56,483.32 487.78,460.85 488.00,483.53 488.22,462.35 488.44,481.79 488.65,464.19 488.87,480.59 489.09,465.72 489.31,478.12 489.53,467.03 489.75,477.41 489.97,467.14 490.19,477.19 490.41,467.52 490.63,476.87 490.85,466.05 491.07,478.33 491.29,465.54 491.51,478.58 491.73,464.93 491.95,479.22 492.17,464.81 492.39,479.07 492.60,465.39 492.82,478.90 493.04,465.94 493.26,478.65 493.48,465.96 493.70,478.13 493.92,467.48 494.14,477.06 494.36,467.44 494.58,476.86 494.80,467.35 495.02,476.68 495.24,466.85 495.46,476.98 495.68,465.24 495.90,478.16 496.12,464.47 496.34,478.67 496.55,464.54 496.77,479.51 496.99,464.03 497.21,480.17 497.43,463.65 497.65,480.07 497.87,463.78 498.09,479.99 498.31,464.19 498.53,479.19 498.75,466.05 498.97,478.24 499.19,465.44 499.41,479.01 499.63,464.72 499.85,479.64 500.07,463.87 500.29,480.40 500.50,466.12 500.72,478.03 500.94,465.73 501.16,478.89 501.38,465.36 501.60,479.48 501.82,464.80 502.04,486.50 502.26,458.28 502.48,486.95 502.70,456.92 502.92,488.64 503.14,456.85 503.36,486.95 503.58,458.26 503.80,485.43 504.02,459.23 504.24,484.62 504.45,458.70 504.67,484.40 504.89,459.02 505.11,479.43 505.33,463.95 505.55,479.18 505.77,463.91 505.99,479.54 506.21,463.52 506.43,480.55 506.65,463.43 506.87,488.59 507.09,457.45 507.31,487.55 507.53,457.20 507.75,486.25 507.97,458.20 508.19,484.41 508.41,459.60 508.62,482.81 508.84,461.21 509.06,481.50 509.28,462.34 509.50,480.27 509.72,463.91 509.94,477.51 510.16,467.12 510.38,476.61 510.60,467.94 510.82,476.32 511.04,468.66 511.26,476.37 511.48,467.89 511.70,478.85 511.92,465.35 512.14,479.59 512.36,463.83 512.57,480.83 512.79,462.48 513.01,482.29 513.23,461.19 513.45,483.79 513.67,460.02 513.89,485.03 514.11,460.28 514.33,484.66 514.55,461.09 514.77,478.33 514.99,466.24 515.21,478.29 515.43,466.44 515.65,477.89 515.87,467.13 516.09,477.01 516.31,466.07 516.52,478.29 516.74,466.69 516.96,477.79 517.18,466.90 517.40,477.39 517.62,467.28 517.84,477.11 518.06,466.15 518.28,478.40 518.50,466.27 518.72,477.90 518.94,466.67 519.16,477.75 519.38,466.50 519.60,477.79 519.82,466.27 520.04,477.93 520.26,466.00 520.47,478.00 520.69,465.97 520.91,477.62 521.13,466.81 521.35,476.94 521.57,467.22 521.79,476.95 522.01,467.58 522.23,477.50 522.45,466.61 522.67,477.68 522.89,465.51 523.11,478.96 523.33,464.72 523.55,478.97 523.77,464.38 523.99,478.79 524.21,463.97 524.42,475.27 524.64,467.95 524.86,475.13 525.08,467.84 525.30,474.91 525.52,467.63 525.74,474.95 525.96,464.16 526.18,478.23" fill="none" stroke="rgb(88,170,226)" stroke-width="1.0" stroke-linejoin="round"/>
</g>
<ellipse cx="146.4" cy="35.0" rx="14.6" ry="14.2" fill="none" stroke="rgb(215,25,35)" stroke-width="1.5" stroke-dasharray="5.1 2.3"/>
<ellipse cx="244.5" cy="37.6" rx="25.7" ry="25.0" fill="none" stroke="rgb(215,25,35)" stroke-width="1.5" stroke-dasharray="5.1 2.3"/>
<ellipse cx="381.8" cy="37.8" rx="25.6" ry="25.0" fill="none" stroke="rgb(215,25,35)" stroke-width="1.5" stroke-dasharray="5.1 2.3"/>
<ellipse cx="149.0" cy="110.1" rx="25.7" ry="25.0" fill="none" stroke="rgb(215,25,35)" stroke-width="1.5" stroke-dasharray="5.1 2.3"/>
<ellipse cx="236.7" cy="181.6" rx="25.7" ry="25.0" fill="none" stroke="rgb(215,25,35)" stroke-width="1.5" stroke-dasharray="5.1 2.3"/>
<ellipse cx="384.0" cy="254.7" rx="25.7" ry="25.0" fill="none" stroke="rgb(215,25,35)" stroke-width="1.5" stroke-dasharray="5.1 2.3"/>
<rect x="87.5" y="12.0" width="438.90" height="50.7" fill="none" stroke="#262626" stroke-width="1.3"/>
<path d="M131.39,12.0v4.5M131.39,62.7v-4.5M175.28,12.0v4.5M175.28,62.7v-4.5M219.17,12.0v4.5M219.17,62.7v-4.5M263.06,12.0v4.5M263.06,62.7v-4.5M306.95,12.0v4.5M306.95,62.7v-4.5M350.84,12.0v4.5M350.84,62.7v-4.5M394.73,12.0v4.5M394.73,62.7v-4.5M438.62,12.0v4.5M438.62,62.7v-4.5M482.51,12.0v4.5M482.51,62.7v-4.5M87.5,15.55h4.5M526.4,15.55h-4.5M87.5,38.50h4.5M526.4,38.50h-4.5M87.5,61.45h4.5M526.4,61.45h-4.5" stroke="#262626" stroke-width="1.2" fill="none"/>
<rect x="87.5" y="84.4" width="438.90" height="50.7" fill="none" stroke="#262626" stroke-width="1.3"/>
<path d="M131.39,84.4v4.5M131.39,135.10000000000002v-4.5M175.28,84.4v4.5M175.28,135.10000000000002v-4.5M219.17,84.4v4.5M219.17,135.10000000000002v-4.5M263.06,84.4v4.5M263.06,135.10000000000002v-4.5M306.95,84.4v4.5M306.95,135.10000000000002v-4.5M350.84,84.4v4.5M350.84,135.10000000000002v-4.5M394.73,84.4v4.5M394.73,135.10000000000002v-4.5M438.62,84.4v4.5M438.62,135.10000000000002v-4.5M482.51,84.4v4.5M482.51,135.10000000000002v-4.5M87.5,92.80h4.5M526.4,92.80h-4.5M87.5,110.50h4.5M526.4,110.50h-4.5M87.5,128.20h4.5M526.4,128.20h-4.5" stroke="#262626" stroke-width="1.2" fill="none"/>
<rect x="87.5" y="156.8" width="438.90" height="50.7" fill="none" stroke="#262626" stroke-width="1.3"/>
<path d="M131.39,156.8v4.5M131.39,207.5v-4.5M175.28,156.8v4.5M175.28,207.5v-4.5M219.17,156.8v4.5M219.17,207.5v-4.5M263.06,156.8v4.5M263.06,207.5v-4.5M306.95,156.8v4.5M306.95,207.5v-4.5M350.84,156.8v4.5M350.84,207.5v-4.5M394.73,156.8v4.5M394.73,207.5v-4.5M438.62,156.8v4.5M438.62,207.5v-4.5M482.51,156.8v4.5M482.51,207.5v-4.5M87.5,156.35h4.5M526.4,156.35h-4.5M87.5,181.70h4.5M526.4,181.70h-4.5M87.5,207.05h4.5M526.4,207.05h-4.5" stroke="#262626" stroke-width="1.2" fill="none"/>
<rect x="87.5" y="229.20000000000002" width="438.90" height="50.7" fill="none" stroke="#262626" stroke-width="1.3"/>
<path d="M131.39,229.20000000000002v4.5M131.39,279.90000000000003v-4.5M175.28,229.20000000000002v4.5M175.28,279.90000000000003v-4.5M219.17,229.20000000000002v4.5M219.17,279.90000000000003v-4.5M263.06,229.20000000000002v4.5M263.06,279.90000000000003v-4.5M306.95,229.20000000000002v4.5M306.95,279.90000000000003v-4.5M350.84,229.20000000000002v4.5M350.84,279.90000000000003v-4.5M394.73,229.20000000000002v4.5M394.73,279.90000000000003v-4.5M438.62,229.20000000000002v4.5M438.62,279.90000000000003v-4.5M482.51,229.20000000000002v4.5M482.51,279.90000000000003v-4.5M87.5,229.05h4.5M526.4,229.05h-4.5M87.5,254.40h4.5M526.4,254.40h-4.5M87.5,279.75h4.5M526.4,279.75h-4.5" stroke="#262626" stroke-width="1.2" fill="none"/>
<rect x="87.5" y="301.6" width="438.90" height="50.7" fill="none" stroke="#262626" stroke-width="1.3"/>
<path d="M131.39,301.6v4.5M131.39,352.3v-4.5M175.28,301.6v4.5M175.28,352.3v-4.5M219.17,301.6v4.5M219.17,352.3v-4.5M263.06,301.6v4.5M263.06,352.3v-4.5M306.95,301.6v4.5M306.95,352.3v-4.5M350.84,301.6v4.5M350.84,352.3v-4.5M394.73,301.6v4.5M394.73,352.3v-4.5M438.62,301.6v4.5M438.62,352.3v-4.5M482.51,301.6v4.5M482.51,352.3v-4.5M87.5,303.80h4.5M526.4,303.80h-4.5M87.5,326.80h4.5M526.4,326.80h-4.5M87.5,349.80h4.5M526.4,349.80h-4.5" stroke="#262626" stroke-width="1.2" fill="none"/>
<rect x="87.5" y="374.0" width="438.90" height="50.7" fill="none" stroke="#262626" stroke-width="1.3"/>
<path d="M131.39,374.0v4.5M131.39,424.7v-4.5M175.28,374.0v4.5M175.28,424.7v-4.5M219.17,374.0v4.5M219.17,424.7v-4.5M263.06,374.0v4.5M263.06,424.7v-4.5M306.95,374.0v4.5M306.95,424.7v-4.5M350.84,374.0v4.5M350.84,424.7v-4.5M394.73,374.0v4.5M394.73,424.7v-4.5M438.62,374.0v4.5M438.62,424.7v-4.5M482.51,374.0v4.5M482.51,424.7v-4.5M87.5,374.00h4.5M526.4,374.00h-4.5M87.5,399.35h4.5M526.4,399.35h-4.5M87.5,424.70h4.5M526.4,424.70h-4.5" stroke="#262626" stroke-width="1.2" fill="none"/>
<rect x="87.5" y="446.40000000000003" width="438.90" height="50.7" fill="none" stroke="#262626" stroke-width="1.3"/>
<path d="M131.39,446.40000000000003v4.5M131.39,497.1v-4.5M175.28,446.40000000000003v4.5M175.28,497.1v-4.5M219.17,446.40000000000003v4.5M219.17,497.1v-4.5M263.06,446.40000000000003v4.5M263.06,497.1v-4.5M306.95,446.40000000000003v4.5M306.95,497.1v-4.5M350.84,446.40000000000003v4.5M350.84,497.1v-4.5M394.73,446.40000000000003v4.5M394.73,497.1v-4.5M438.62,446.40000000000003v4.5M438.62,497.1v-4.5M482.51,446.40000000000003v4.5M482.51,497.1v-4.5M87.5,446.40h4.5M526.4,446.40h-4.5M87.5,471.75h4.5M526.4,471.75h-4.5M87.5,497.10h4.5M526.4,497.10h-4.5" stroke="#262626" stroke-width="1.2" fill="none"/>
<text x="82.6" y="23.45" text-anchor="end">1</text>
<text x="82.6" y="46.40" text-anchor="end">0</text>
<text transform="translate(73.1,69.35) scale(0.83,1)">1</text>
<text x="58.86" y="72.45" style="font-size:25px">−</text>
<text x="82.6" y="100.70" text-anchor="end">0.4</text>
<text x="82.6" y="118.40" text-anchor="end">0.2</text>
<text x="82.6" y="136.10" text-anchor="end">0</text>
<text x="82.6" y="164.25" text-anchor="end">1</text>
<text x="82.6" y="189.60" text-anchor="end">0</text>
<text transform="translate(73.1,214.95) scale(0.83,1)">1</text>
<text x="58.86" y="218.05" style="font-size:25px">−</text>
<text x="82.6" y="236.95" text-anchor="end">1</text>
<text x="82.6" y="262.30" text-anchor="end">0</text>
<text transform="translate(73.1,287.65) scale(0.83,1)">1</text>
<text x="58.86" y="290.75" style="font-size:25px">−</text>
<text x="82.6" y="311.70" text-anchor="end">0.2</text>
<text x="82.6" y="334.70" text-anchor="end">0</text>
<text x="82.6" y="357.70" text-anchor="end">0.2</text>
<text x="45.56" y="360.10" style="font-size:25px">−</text>
<text x="82.6" y="381.90" text-anchor="end">0.2</text>
<text x="82.6" y="407.25" text-anchor="end">0</text>
<text x="82.6" y="432.60" text-anchor="end">0.2</text>
<text x="45.56" y="435.00" style="font-size:25px">−</text>
<text x="82.6" y="454.30" text-anchor="end">0.2</text>
<text x="82.6" y="479.65" text-anchor="end">0</text>
<text x="82.6" y="505.00" text-anchor="end">0.2</text>
<text x="45.56" y="507.40" style="font-size:25px">−</text>
<text x="87.50" y="518.2" text-anchor="middle">0</text>
<text x="131.39" y="518.2" text-anchor="middle">200</text>
<text x="175.28" y="518.2" text-anchor="middle">400</text>
<text x="219.17" y="518.2" text-anchor="middle">600</text>
<text x="263.06" y="518.2" text-anchor="middle">800</text>
<text x="306.95" y="518.2" text-anchor="middle">1000</text>
<text x="350.84" y="518.2" text-anchor="middle">1200</text>
<text x="394.73" y="518.2" text-anchor="middle">1400</text>
<text x="438.62" y="518.2" text-anchor="middle">1600</text>
<text x="482.51" y="518.2" text-anchor="middle">1800</text>
<text x="526.40" y="518.2" text-anchor="middle">2000</text>
<text x="294.8" y="539.2" text-anchor="middle">Sample(N)</text>
<text transform="translate(17.5,270.0) rotate(-90)" text-anchor="middle" style="font-size:18.85px">Magnitude/mV</text>
<text transform="translate(31.2,33.2) rotate(-90)" text-anchor="middle">Orignal</text>
<text transform="translate(53.0,33.9) rotate(-90)" text-anchor="middle">signal</text>
<text transform="translate(44.0,132.55) rotate(-90)">IMF<tspan font-size="11.5" dx="-0.4" dy="2.5">1</tspan></text>
<text transform="translate(44.0,204.75) rotate(-90)">IMF<tspan font-size="11.5" dx="-0.4" dy="2.5">2</tspan></text>
<text transform="translate(44.0,272.65) rotate(-90)">IMF<tspan font-size="11.5" dx="-0.4" dy="2.5">3</tspan></text>
<text transform="translate(44.0,348.65) rotate(-90)">IMF<tspan font-size="11.5" dx="-0.4" dy="2.5">4</tspan></text>
<text transform="translate(44.0,418.95) rotate(-90)">IMF<tspan font-size="11.5" dx="-0.4" dy="2.5">5</tspan></text>
<text transform="translate(44.0,493.65) rotate(-90)">IMF<tspan font-size="11.5" dx="-0.4" dy="2.5">6</tspan></text>
</svg>
</body></html>
